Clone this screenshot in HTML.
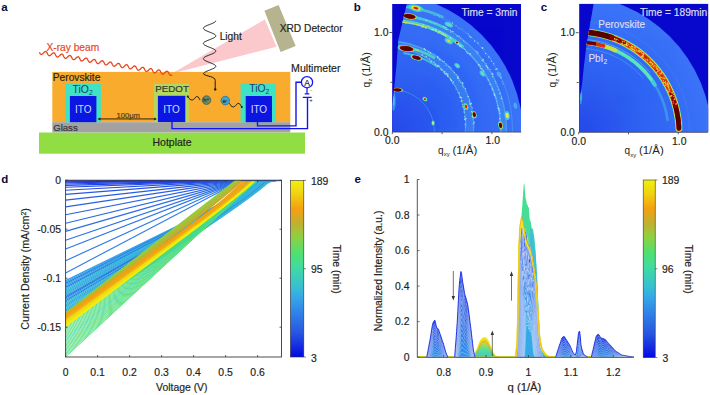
<!DOCTYPE html>
<html><head><meta charset="utf-8"><style>
html,body{margin:0;padding:0;background:#fff;width:710px;height:395px;overflow:hidden}
svg{position:absolute;left:0;top:0;font-family:"Liberation Sans", sans-serif}
</style></head><body>
<svg width="710" height="395" viewBox="0 0 710 395">
<text x="1.2" y="10.6" font-size="11.5" fill="#0a0a3c"  text-anchor="start" font-weight="bold" >a</text>
<text x="353.8" y="10.5" font-size="11.5" fill="#0a0a3c"  text-anchor="start" font-weight="bold" >b</text>
<text x="540.8" y="10.8" font-size="11.5" fill="#0a0a3c"  text-anchor="start" font-weight="bold" >c</text>
<text x="1.2" y="182.9" font-size="11.5" fill="#0a0a3c"  text-anchor="start" font-weight="bold" >d</text>
<text x="354.5" y="182.9" font-size="11.5" fill="#0a0a3c"  text-anchor="start" font-weight="bold" >e</text>
<polygon points="172,73.5 264.8,19.4 276.5,46.8" fill="#fbc9cc"/>
<polygon points="264.4,10.8 278.6,5.1 295.7,46 280.6,51.9" fill="#b6b48f"/>
<text x="279.7" y="31.5" font-size="10.2" fill="#231f20" stroke="#231f20" stroke-width="0.18" text-anchor="start" font-weight="normal" >XRD Detector</text>
<rect x="39" y="132.5" width="266" height="21.2" fill="#90de44"/>
<text x="152.5" y="146.1" font-size="10.5" fill="#231f20" stroke="#231f20" stroke-width="0.18" text-anchor="start" font-weight="normal" >Hotplate</text>
<rect x="52.3" y="71.9" width="238" height="50.3" fill="#f8ab2c"/>
<rect x="52.3" y="122.2" width="238" height="10.2" fill="#a2a2a2"/>
<text x="53.2" y="130.6" font-size="9.6" fill="#333" stroke="#333" stroke-width="0.18" text-anchor="start" font-weight="normal" >Glass</text>
<text x="52.8" y="80.8" font-size="10.2" fill="#231f20" stroke="#231f20" stroke-width="0.18" text-anchor="start" font-weight="normal" >Perovskite</text>
<path d="M215.80,20.70 L215.72,21.08 L215.50,21.46 L215.12,21.84 L214.62,22.22 L213.98,22.60 L213.24,22.98 L212.41,23.36 L211.52,23.74 L210.57,24.12 L209.60,24.50 L208.63,24.88 L207.68,25.26 L206.79,25.64 L205.96,26.02 L205.22,26.40 L204.58,26.78 L204.08,27.16 L203.70,27.54 L203.48,27.92 L203.40,28.30 L203.48,28.68 L203.70,29.06 L204.08,29.44 L204.58,29.82 L205.22,30.20 L205.96,30.58 L206.79,30.96 L207.68,31.34 L208.63,31.72 L209.60,32.10 L210.57,32.48 L211.52,32.86 L212.41,33.24 L213.24,33.62 L213.98,34.00 L214.62,34.38 L215.12,34.76 L215.50,35.14 L215.72,35.52 L215.80,35.90 L215.72,36.28 L215.50,36.66 L215.12,37.04 L214.62,37.42 L213.98,37.80 L213.24,38.18 L212.41,38.56 L211.52,38.94 L210.57,39.32 L209.60,39.70 L208.63,40.08 L207.68,40.46 L206.79,40.84 L205.96,41.22 L205.22,41.60 L204.58,41.98 L204.08,42.36 L203.70,42.74 L203.48,43.12 L203.40,43.50 L203.48,43.88 L203.70,44.26 L204.08,44.64 L204.58,45.02 L205.22,45.40 L205.96,45.78 L206.79,46.16 L207.68,46.54 L208.63,46.92 L209.60,47.30 L210.57,47.68 L211.52,48.06 L212.41,48.44 L213.24,48.82 L213.98,49.20 L214.62,49.58 L215.12,49.96 L215.50,50.34 L215.72,50.72 L215.80,51.10 L215.72,51.48 L215.50,51.86 L215.12,52.24 L214.62,52.62 L213.98,53.00 L213.24,53.38 L212.41,53.76 L211.52,54.14 L210.57,54.52 L209.60,54.90 L208.63,55.28 L207.68,55.66 L206.79,56.04 L205.96,56.42 L205.22,56.80 L204.58,57.18 L204.08,57.56 L203.70,57.94 L203.48,58.32 L203.40,58.70 L203.48,59.08 L203.70,59.46 L204.08,59.84 L204.58,60.22 L205.22,60.60 L205.96,60.98 L206.79,61.36 L207.68,61.74 L208.63,62.12 L209.60,62.50 L210.57,62.88 L211.52,63.26 L212.41,63.64 L213.24,64.02 L213.98,64.40 L214.62,64.78 L215.12,65.16 L215.50,65.54 L215.72,65.92 L215.80,66.30 L215.72,66.68 L215.50,67.06 L215.12,67.44 L214.62,67.82 L213.98,68.20 L213.24,68.58 L212.41,68.96 L211.52,69.34 L210.57,69.72 L209.60,70.10 L208.63,70.48 L207.68,70.86 L206.79,71.24 L205.96,71.62 L205.22,72.00 L204.58,72.38 L204.08,72.76 L203.70,73.14 L203.48,73.52 L203.40,73.90 C 207,77 215.2,76 215.2,80.5 L215.2,89.3" fill="none" stroke="#1a1a1a" stroke-width="1"/>
<circle cx="215.2" cy="89.4" r="1.2" fill="#1a1a1a"/>
<text x="219.7" y="39.5" font-size="10.2" fill="#231f20" stroke="#231f20" stroke-width="0.18" text-anchor="start" font-weight="normal" >Light</text>
<path d="M39.40,52.30 L39.51,52.53 L39.63,52.75 L39.75,52.97 L39.86,53.18 L39.98,53.38 L40.10,53.57 L40.23,53.75 L40.35,53.90 L40.48,54.04 L40.61,54.16 L40.75,54.26 L40.89,54.33 L41.03,54.38 L41.18,54.41 L41.33,54.42 L41.48,54.40 L41.64,54.36 L41.80,54.30 L41.97,54.22 L42.14,54.11 L42.31,53.99 L42.48,53.86 L42.66,53.71 L42.83,53.55 L43.01,53.38 L43.19,53.21 L43.37,53.03 L43.55,52.85 L43.73,52.67 L43.91,52.50 L44.09,52.33 L44.27,52.17 L44.45,52.03 L44.62,51.90 L44.79,51.78 L44.96,51.68 L45.12,51.60 L45.28,51.55 L45.44,51.51 L45.59,51.50 L45.74,51.51 L45.89,51.54 L46.03,51.60 L46.17,51.68 L46.31,51.78 L46.44,51.90 L46.57,52.04 L46.69,52.20 L46.81,52.38 L46.93,52.57 L47.05,52.77 L47.17,52.99 L47.29,53.21 L47.40,53.43 L47.52,53.66 L47.63,53.89 L47.75,54.11 L47.86,54.33 L47.98,54.54 L48.10,54.74 L48.22,54.92 L48.34,55.09 L48.47,55.25 L48.60,55.38 L48.73,55.49 L48.87,55.59 L49.01,55.66 L49.15,55.71 L49.30,55.73 L49.45,55.73 L49.61,55.71 L49.77,55.66 L49.93,55.60 L50.09,55.51 L50.26,55.41 L50.43,55.29 L50.61,55.15 L50.78,55.00 L50.96,54.84 L51.14,54.67 L51.32,54.49 L51.50,54.31 L51.68,54.13 L51.86,53.96 L52.04,53.78 L52.22,53.62 L52.40,53.46 L52.57,53.32 L52.74,53.19 L52.91,53.08 L53.08,52.98 L53.25,52.91 L53.41,52.85 L53.56,52.82 L53.72,52.81 L53.86,52.83 L54.01,52.86 L54.15,52.93 L54.29,53.01 L54.42,53.11 L54.56,53.24 L54.68,53.39 L54.81,53.55 L54.93,53.73 L55.05,53.92 L55.17,54.13 L55.29,54.34 L55.40,54.56 L55.52,54.79 L55.63,55.02 L55.75,55.24 L55.86,55.47 L55.98,55.68 L56.10,55.89 L56.21,56.09 L56.34,56.27 L56.46,56.44 L56.59,56.59 L56.72,56.72 L56.85,56.83 L56.99,56.92 L57.13,56.98 L57.27,57.03 L57.42,57.05 L57.57,57.04 L57.73,57.02 L57.89,56.97 L58.05,56.90 L58.22,56.81 L58.39,56.70 L58.56,56.58 L58.73,56.44 L58.91,56.28 L59.09,56.12 L59.27,55.95 L59.45,55.77 L59.63,55.59 L59.81,55.41 L59.99,55.24 L60.17,55.07 L60.35,54.90 L60.52,54.75 L60.70,54.61 L60.87,54.48 L61.04,54.37 L61.21,54.28 L61.37,54.21 L61.53,54.16 L61.69,54.13 L61.84,54.13 L61.99,54.15 L62.13,54.19 L62.27,54.26 L62.41,54.34 L62.54,54.45 L62.67,54.58 L62.80,54.73 L62.93,54.90 L63.05,55.08 L63.17,55.28 L63.29,55.48 L63.40,55.70 L63.52,55.92 L63.63,56.15 L63.75,56.38 L63.86,56.60 L63.98,56.82 L64.09,57.04 L64.21,57.24 L64.33,57.44 L64.45,57.62 L64.58,57.78 L64.71,57.93 L64.84,58.06 L64.97,58.16 L65.11,58.25 L65.25,58.31 L65.40,58.35 L65.54,58.36 L65.70,58.36 L65.85,58.33 L66.01,58.27 L66.18,58.20 L66.34,58.11 L66.51,57.99 L66.69,57.87 L66.86,57.72 L67.04,57.57 L67.22,57.40 L67.40,57.23 L67.58,57.05 L67.76,56.88 L67.94,56.70 L68.12,56.52 L68.30,56.35 L68.48,56.19 L68.65,56.04 L68.83,55.90 L69.00,55.78 L69.17,55.67 L69.33,55.58 L69.49,55.52 L69.65,55.47 L69.81,55.45 L69.96,55.45 L70.11,55.47 L70.25,55.52 L70.39,55.59 L70.53,55.68 L70.66,55.79 L70.79,55.92 L70.92,56.08 L71.04,56.25 L71.16,56.43 L71.28,56.63 L71.40,56.84 L71.52,57.06 L71.63,57.28 L71.75,57.51 L71.86,57.73 L71.98,57.96 L72.09,58.18 L72.21,58.39 L72.33,58.60 L72.45,58.79 L72.57,58.97 L72.70,59.13 L72.82,59.27 L72.96,59.39 L73.09,59.50 L73.23,59.58 L73.37,59.63 L73.52,59.67 L73.67,59.68 L73.82,59.67 L73.98,59.63 L74.14,59.58 L74.30,59.50 L74.47,59.40 L74.64,59.29 L74.81,59.16 L74.99,59.01 L75.17,58.85 L75.34,58.69 L75.52,58.51 L75.70,58.34 L75.89,58.16 L76.07,57.98 L76.25,57.80 L76.42,57.63 L76.60,57.47 L76.78,57.33 L76.95,57.19 L77.12,57.07 L77.29,56.97 L77.46,56.88 L77.62,56.82 L77.78,56.78 L77.93,56.76 L78.08,56.76 L78.23,56.79 L78.37,56.84 L78.51,56.92 L78.65,57.01 L78.78,57.13 L78.91,57.27 L79.04,57.42 L79.16,57.60 L79.28,57.78 L79.40,57.98 L79.52,58.19 L79.63,58.41 L79.75,58.64 L79.86,58.86 L79.98,59.09 L80.09,59.32 L80.21,59.54 L80.33,59.75 L80.44,59.95 L80.56,60.14 L80.69,60.31 L80.81,60.47 L80.94,60.61 L81.07,60.73 L81.21,60.83 L81.35,60.90 L81.49,60.96 L81.64,60.99 L81.79,60.99 L81.94,60.98 L82.10,60.94 L82.26,60.88 L82.43,60.80 L82.60,60.70 L82.77,60.58 L82.94,60.45 L83.12,60.30 L83.29,60.14 L83.47,59.97 L83.65,59.80 L83.83,59.62 L84.01,59.44 L84.19,59.26 L84.37,59.09 L84.55,58.92 L84.73,58.76 L84.90,58.61 L85.08,58.48 L85.25,58.36 L85.42,58.27 L85.58,58.19 L85.74,58.13 L85.90,58.09 L86.05,58.08 L86.20,58.08 L86.35,58.12 L86.49,58.17 L86.63,58.25 L86.77,58.35 L86.90,58.47 L87.03,58.61 L87.15,58.77 L87.28,58.95 L87.40,59.14 L87.52,59.34 L87.63,59.55 L87.75,59.77 L87.86,60.00 L87.98,60.22 L88.09,60.45 L88.21,60.67 L88.32,60.89 L88.44,61.10 L88.56,61.30 L88.68,61.49 L88.81,61.66 L88.93,61.81 L89.06,61.95 L89.19,62.07 L89.33,62.16 L89.47,62.23 L89.61,62.28 L89.76,62.31 L89.91,62.31 L90.07,62.29 L90.23,62.25 L90.39,62.18 L90.55,62.10 L90.72,61.99 L90.89,61.87 L91.07,61.73 L91.24,61.58 L91.42,61.42 L91.60,61.25 L91.78,61.08 L91.96,60.90 L92.14,60.72 L92.32,60.54 L92.50,60.37 L92.68,60.20 L92.86,60.05 L93.03,59.90 L93.20,59.77 L93.37,59.66 L93.54,59.56 L93.71,59.49 L93.87,59.43 L94.02,59.40 L94.18,59.39 L94.33,59.40 L94.47,59.44 L94.61,59.50 L94.75,59.58 L94.89,59.69 L95.02,59.81 L95.15,59.95 L95.27,60.12 L95.39,60.30 L95.51,60.49 L95.63,60.69 L95.75,60.91 L95.86,61.13 L95.98,61.35 L96.09,61.58 L96.21,61.81 L96.32,62.03 L96.44,62.25 L96.56,62.46 L96.68,62.65 L96.80,62.84 L96.92,63.01 L97.05,63.16 L97.18,63.29 L97.31,63.40 L97.45,63.49 L97.59,63.56 L97.74,63.60 L97.88,63.62 L98.04,63.62 L98.19,63.60 L98.35,63.55 L98.51,63.48 L98.68,63.39 L98.85,63.29 L99.02,63.16 L99.19,63.02 L99.37,62.87 L99.55,62.71 L99.73,62.54 L99.91,62.36 L100.09,62.18 L100.27,62.00 L100.45,61.82 L100.63,61.65 L100.81,61.49 L100.98,61.34 L101.16,61.19 L101.33,61.07 L101.50,60.96 L101.67,60.86 L101.83,60.79 L101.99,60.74 L102.15,60.71 L102.30,60.71 L102.45,60.72 L102.59,60.76 L102.73,60.83 L102.87,60.91 L103.00,61.02 L103.14,61.15 L103.26,61.30 L103.39,61.46 L103.51,61.65 L103.63,61.84 L103.75,62.05 L103.86,62.26 L103.98,62.49 L104.09,62.71 L104.21,62.94 L104.32,63.17 L104.44,63.39 L104.56,63.60 L104.67,63.81 L104.79,64.01 L104.92,64.19 L105.04,64.35 L105.17,64.50 L105.30,64.63 L105.43,64.74 L105.57,64.82 L105.71,64.88 L105.86,64.92 L106.01,64.94 L106.16,64.93 L106.31,64.91 L106.47,64.85 L106.64,64.78 L106.80,64.69 L106.97,64.58 L107.15,64.45 L107.32,64.31 L107.50,64.16 L107.68,63.99 L107.86,63.82 L108.04,63.64 L108.22,63.46 L108.40,63.28 L108.58,63.11 L108.76,62.94 L108.93,62.77 L109.11,62.62 L109.28,62.48 L109.46,62.36 L109.63,62.25 L109.79,62.16 L109.95,62.10 L110.11,62.05 L110.27,62.03 L110.42,62.02 L110.57,62.05 L110.71,62.09 L110.85,62.16 L110.99,62.25 L111.12,62.36 L111.25,62.49 L111.38,62.64 L111.50,62.81 L111.63,63.00 L111.75,63.20 L111.86,63.40 L111.98,63.62 L112.09,63.84 L112.21,64.07 L112.32,64.30 L112.44,64.52 L112.55,64.74 L112.67,64.96 L112.79,65.16 L112.91,65.36 L113.03,65.53 L113.16,65.70 L113.29,65.84 L113.42,65.96 L113.55,66.07 L113.69,66.15 L113.83,66.21 L113.98,66.24 L114.13,66.26 L114.28,66.25 L114.44,66.21 L114.60,66.16 L114.76,66.08 L114.93,65.99 L115.10,65.87 L115.27,65.74 L115.45,65.60 L115.62,65.44 L115.80,65.27 L115.98,65.10 L116.16,64.92 L116.34,64.74 L116.52,64.57 L116.70,64.39 L116.88,64.22 L117.06,64.06 L117.24,63.91 L117.41,63.77 L117.58,63.65 L117.75,63.55 L117.92,63.47 L118.08,63.40 L118.24,63.36 L118.39,63.34 L118.54,63.34 L118.69,63.37 L118.83,63.42 L118.97,63.49 L119.11,63.58 L119.24,63.70 L119.37,63.84 L119.50,63.99 L119.62,64.16 L119.74,64.35 L119.86,64.55 L119.98,64.76 L120.10,64.98 L120.21,65.20 L120.33,65.43 L120.44,65.66 L120.55,65.88 L120.67,66.10 L120.79,66.31 L120.91,66.52 L121.03,66.71 L121.15,66.88 L121.28,67.04 L121.40,67.18 L121.54,67.30 L121.67,67.40 L121.81,67.48 L121.95,67.53 L122.10,67.56 L122.25,67.57 L122.40,67.56 L122.56,67.52 L122.72,67.46 L122.89,67.38 L123.06,67.28 L123.23,67.16 L123.40,67.03 L123.57,66.88 L123.75,66.73 L123.93,66.56 L124.11,66.38 L124.29,66.21 L124.47,66.03 L124.65,65.85 L124.83,65.67 L125.01,65.51 L125.19,65.35 L125.36,65.20 L125.54,65.07 L125.71,64.95 L125.88,64.85 L126.04,64.77 L126.20,64.71 L126.36,64.67 L126.51,64.65 L126.66,64.66 L126.81,64.69 L126.95,64.74 L127.09,64.82 L127.23,64.92 L127.36,65.04 L127.49,65.18 L127.62,65.34 L127.74,65.51 L127.86,65.70 L127.98,65.90 L128.09,66.12 L128.21,66.34 L128.33,66.56 L128.44,66.79 L128.56,67.01 L128.67,67.24 L128.79,67.46 L128.90,67.67 L129.02,67.87 L129.14,68.06 L129.27,68.23 L129.39,68.38 L129.52,68.52 L129.66,68.64 L129.79,68.73 L129.93,68.81 L130.07,68.86 L130.22,68.88 L130.37,68.89 L130.53,68.87 L130.69,68.83 L130.85,68.76 L131.01,68.68 L131.18,68.58 L131.35,68.45 L131.53,68.32 L131.70,68.17 L131.88,68.01 L132.06,67.84 L132.24,67.67 L132.42,67.49 L132.60,67.31 L132.78,67.13 L132.96,66.96 L133.14,66.79 L133.32,66.63 L133.49,66.49 L133.66,66.36 L133.83,66.24 L134.00,66.15 L134.17,66.07 L134.33,66.01 L134.48,65.98 L134.64,65.97 L134.79,65.98 L134.93,66.01 L135.07,66.07 L135.21,66.15 L135.35,66.26 L135.48,66.38 L135.61,66.52 L135.73,66.68 L135.86,66.86 L135.98,67.05 L136.09,67.26 L136.21,67.47 L136.33,67.69 L136.44,67.92 L136.56,68.15 L136.67,68.37 L136.79,68.60 L136.90,68.81 L137.02,69.02 L137.14,69.22 L137.26,69.41 L137.38,69.57 L137.51,69.73 L137.64,69.86 L137.77,69.97 L137.91,70.06 L138.05,70.13 L138.20,70.18 L138.34,70.20 L138.50,70.20 L138.65,70.18 L138.81,70.13 L138.97,70.06 L139.14,69.98 L139.31,69.87 L139.48,69.75 L139.65,69.61 L139.83,69.46 L140.01,69.29 L140.19,69.12 L140.37,68.95 L140.55,68.77 L140.73,68.59 L140.91,68.41 L141.09,68.24 L141.27,68.08 L141.44,67.92 L141.62,67.78 L141.79,67.65 L141.96,67.54 L142.13,67.45 L142.29,67.37 L142.45,67.32 L142.61,67.29 L142.76,67.28 L142.91,67.30 L143.05,67.34 L143.19,67.40 L143.33,67.49 L143.47,67.59 L143.60,67.72 L143.72,67.87 L143.85,68.03 L143.97,68.21 L144.09,68.41 L144.21,68.61 L144.33,68.83 L144.44,69.05 L144.56,69.28 L144.67,69.50 L144.79,69.73 L144.90,69.95 L145.02,70.17 L145.14,70.38 L145.26,70.57 L145.38,70.75 L145.50,70.92 L145.63,71.07 L145.76,71.20 L145.89,71.31 L146.03,71.39 L146.17,71.46 L146.32,71.50 L146.47,71.52 L146.62,71.51 L146.77,71.49 L146.93,71.43 L147.10,71.36 L147.26,71.27 L147.43,71.16 L147.61,71.04 L147.78,70.90 L147.96,70.74 L148.13,70.58 L148.31,70.41 L148.49,70.23 L148.67,70.05 L148.86,69.87 L149.04,69.69 L149.22,69.52 L149.39,69.36 L149.57,69.21 L149.74,69.07 L149.92,68.94 L150.08,68.84 L150.25,68.75 L150.41,68.68 L150.57,68.63 L150.73,68.60 L150.88,68.60 L151.03,68.62 L151.17,68.66 L151.31,68.73 L151.45,68.82 L151.59,68.93 L151.72,69.06 L151.84,69.21 L151.97,69.38 L152.09,69.56 L152.21,69.76 L152.33,69.97 L152.44,70.19 L152.56,70.41 L152.67,70.64 L152.79,70.86 L152.90,71.09 L153.02,71.31 L153.13,71.52 L153.25,71.73 L153.37,71.92 L153.49,72.10 L153.62,72.26 L153.75,72.41 L153.88,72.54 L154.01,72.64 L154.15,72.72 L154.29,72.78 L154.44,72.82 L154.59,72.83 L154.74,72.82 L154.90,72.79 L155.06,72.74 L155.22,72.66 L155.39,72.57 L155.56,72.46 L155.73,72.33 L155.91,72.18 L156.08,72.03 L156.26,71.86 L156.44,71.69 L156.62,71.51 L156.80,71.33 L156.98,71.15 L157.16,70.98 L157.34,70.81 L157.52,70.65 L157.70,70.50 L157.87,70.36 L158.04,70.24 L158.21,70.13 L158.38,70.05 L158.54,69.98 L158.70,69.94 L158.85,69.92 L159.00,69.92 L159.15,69.94 L159.29,69.99 L159.43,70.06 L159.57,70.16 L159.70,70.27 L159.83,70.40 L159.96,70.56 L160.08,70.73 L160.20,70.92 L160.32,71.11 L160.44,71.32 L160.56,71.54 L160.67,71.77 L160.79,71.99 L160.90,72.22 L161.02,72.45 L161.13,72.67 L161.25,72.88 L161.37,73.08 L161.49,73.27 L161.61,73.45 L161.74,73.61 L161.87,73.75 L162.00,73.87 L162.13,73.97 L162.27,74.05 L162.41,74.11 L162.56,74.14 L162.71,74.15 L162.86,74.14 L163.02,74.10 L163.18,74.04 L163.35,73.96 L163.51,73.86 L163.69,73.75 L163.86,73.62 L164.03,73.47 L164.21,73.31 L164.39,73.14 L164.57,72.97 L164.75,72.79 L164.93,72.61 L165.11,72.43 L165.29,72.26 L165.47,72.09 L165.65,71.93 L165.82,71.78 L166.00,71.65 L166.17,71.53 L166.34,71.43 L166.50,71.35 L166.66,71.29 L166.82,71.25 L166.97,71.23 L167.12,71.24 L167.27,71.27 L167.41,71.32 L167.55,71.39 L167.69,71.49 L167.82,71.61 L167.95,71.75 L168.08,71.91 L168.20,72.08 L168.32,72.27 L168.44,72.47 L168.56,72.68 L168.67,72.90 L168.79,73.12 L168.90,73.35 L169.02,73.58 L169.13,73.80 L169.25,74.02 L169.37,74.23 L169.48,74.43 L169.61,74.62 L169.73,74.80 L169.86,74.95 L169.98,75.09 L170.12,75.21 L170.25,75.31 L170.39,75.38 L170.54,75.43 L170.68,75.46 L170.83,75.46 L170.99,75.45 L171.15,75.41 L171.31,75.34 L171.47,75.26 L171.64,75.16 L171.81,75.04 L171.99,74.90 L172.16,74.76" fill="none" stroke="#e8461e" stroke-width="1.3"/>
<text x="46.5" y="50.5" font-size="10.2" fill="#e8461e" stroke="#e8461e" stroke-width="0.18" text-anchor="start" font-weight="normal" >X-ray beam</text>
<rect x="65.4" y="83.9" width="35.5" height="38.3" fill="#40e2c6"/>
<rect x="69.9" y="96" width="26.5" height="26.2" fill="#0c16e2"/>
<rect x="240.6" y="83.5" width="35.4" height="38.7" fill="#40e2c6"/>
<rect x="245.7" y="96" width="26.3" height="26.2" fill="#0c16e2"/>
<rect x="153.8" y="83.7" width="35" height="38.5" fill="#b4d85e"/>
<rect x="157.9" y="95.8" width="27.4" height="26.3" fill="#0c16e2"/>
<text x="72.6" y="92.5" font-size="10.4" fill="#1a3c6e">TiO<tspan font-size="6.8" dy="2">2</tspan></text>
<text x="249.2" y="92.4" font-size="10.4" fill="#1a3c6e">TiO<tspan font-size="6.8" dy="2">2</tspan></text>
<text x="155.2" y="92.3" font-size="9.8" fill="#333" stroke="#333" stroke-width="0.18" text-anchor="start" font-weight="normal" >PEDOT</text>
<text x="83.2" y="112.5" font-size="10" fill="#d4daff" text-anchor="middle">ITO</text>
<text x="171.6" y="112.5" font-size="10" fill="#d4daff" text-anchor="middle">ITO</text>
<text x="258.9" y="112.5" font-size="10" fill="#d4daff" text-anchor="middle">ITO</text>
<line x1="98.5" y1="118.9" x2="156" y2="118.9" stroke="#8a5a18" stroke-width="1.6"/>
<polygon points="97.5,118.9 100.5,117.4 100.5,120.4" fill="#3a2a10"/><polygon points="157,118.9 154,117.4 154,120.4" fill="#3a2a10"/>
<text x="128.2" y="117.6" font-size="7.6" fill="#4a3a20" stroke="#4a3a20" stroke-width="0.18" text-anchor="middle" font-weight="normal" >100μm</text>
<path d="M187.7,96.4 Q190,100.8 192.3,100.1 Q194.4,99.4 196.4,96.4 Q198.3,95.7 200.1,100.1" fill="none" stroke="#1a1a1a" stroke-width="0.9"/>
<path d="M229.4,103.3 Q231.5,107.7 233.5,107 Q235.6,106.3 237.7,103.3 Q239.7,102.6 241.8,107" fill="none" stroke="#1a1a1a" stroke-width="0.9"/>
<circle cx="187.7" cy="96.4" r="1" fill="#1a1a1a"/><circle cx="241.8" cy="107" r="1" fill="#1a1a1a"/>
<circle cx="206.5" cy="100.1" r="4.3" fill="#6c8a64" stroke="#3a5448" stroke-width="0.7"/><circle cx="225.3" cy="100.6" r="4.3" fill="#38a6d6" stroke="#2a6890" stroke-width="0.7"/>
<text x="206.2" y="102.4" font-size="6" fill="#2a2a2a" stroke="#2a2a2a" stroke-width="0.18" text-anchor="middle" font-weight="normal" >h<tspan font-size="4" dy="-2.2">+</tspan></text>
<text x="225.0" y="102.9" font-size="6" fill="#2a2a2a" stroke="#2a2a2a" stroke-width="0.18" text-anchor="middle" font-weight="normal" >e<tspan font-size="4" dy="-2.2">-</tspan></text>
<path d="M257.5,122 V125.9 H296 V82.2 H301.3" fill="none" stroke="#1414f0" stroke-width="1.4"/>
<path d="M172,122 V128.6 H307.5 V97.3" fill="none" stroke="#1414f0" stroke-width="1.4"/>
<path d="M307,87.9 V93.8 M304.7,93.9 H309.3 M302.8,97.3 H311.6" fill="none" stroke="#1414f0" stroke-width="1.2"/>
<circle cx="307" cy="82.2" r="5.6" fill="#fff" stroke="#1414f0" stroke-width="1.3"/>
<text x="307" y="85.5" font-size="8.5" fill="#1a1a40" stroke="#1a1a40" stroke-width="0.18" text-anchor="middle" font-weight="normal" >A</text>
<text x="291.1" y="72" font-size="10.6" fill="#231f20" stroke="#231f20" stroke-width="0.18" text-anchor="start" font-weight="normal" >Multimeter</text>
<text x="310.5" y="92" font-size="5" fill="#555" stroke="#555" stroke-width="0.18" text-anchor="start" font-weight="normal" >-</text>
<text x="309.5" y="101.5" font-size="5" fill="#555" stroke="#555" stroke-width="0.18" text-anchor="start" font-weight="normal" >+</text>
<clipPath id="clipb"><rect x="392.2" y="4.0" width="128.8" height="128.1"/></clipPath>
<rect x="392.2" y="4.0" width="128.8" height="128.1" fill="#0808cc"/>
<clipPath id="qb"><path d="M392.3,132.1 L392.2,107.5 L394.2,88 L396.6,64 L398.3,40 L406.8,4 L560.3,-16.0 L560.3,132.1 Z"/></clipPath>
<radialGradient id="rgb" gradientUnits="userSpaceOnUse" cx="392.3" cy="132.1" r="128.0"><stop offset="0" stop-color="#2448ea"/><stop offset="0.5" stop-color="#2e62f2"/><stop offset="1" stop-color="#3a72f8"/></radialGradient>
<g clip-path="url(#clipb)"><g clip-path="url(#qb)">
<circle cx="380.3" cy="135.7" r="143.0" fill="url(#rgb)"/>
<path d="M434.30,132.10 L434.29,131.00 L434.26,129.90 L434.20,128.80 L434.10,127.71 L433.98,126.61 L433.83,125.52 L433.65,124.44 L433.45,123.35 L433.21,122.28 L432.95,121.21 L432.66,120.15 L432.34,119.09 L431.99,118.04 L431.62,117.01 L431.22,115.98 L430.79,114.96 L430.34,113.96 L429.86,112.96 L429.35,111.98 L428.82,111.02 L428.26,110.06 L427.68,109.13 L427.07,108.20 L426.44,107.30 L425.79,106.41 L425.11,105.53 L424.41,104.68 L423.69,103.84 L422.94,103.02 L422.18,102.22 L421.39,101.45 L420.58,100.69 L419.76,99.95 L418.91,99.24 L418.05,98.55 L417.16,97.88 L416.26,97.23 L415.35,96.61 L414.41,96.01 L413.47,95.44 L412.50,94.89 L411.53,94.37 L410.54,93.87 L409.53,93.40 L408.52,92.95 L407.49,92.53 L406.45,92.14 L405.40,91.78 L404.34,91.44 L403.28,91.13 L402.20,90.85 L401.12,90.59 L400.03,90.37 L398.94,90.17 L397.84,90.00 L396.74,89.87 L395.63,89.76 L394.52,89.67 L393.41,89.62 L392.30,89.60" fill="none" stroke="#60c8f0" stroke-width="1.0" opacity="0.4"/>
<path d="M469.30,132.10 L469.46,130.08 L469.56,128.05 L469.61,126.02 L469.61,123.97 L469.55,121.93 L469.44,119.88 L469.27,117.83 L469.05,115.79 L468.78,113.74 L468.45,111.70 L468.06,109.66 L467.62,107.63 L467.13,105.60 L466.58,103.59 L465.98,101.58 L465.32,99.59 L464.61,97.61 L463.85,95.64 L463.03,93.70 L462.16,91.77 L461.24,89.86 L460.26,87.97 L459.23,86.10 L458.15,84.25 L457.02,82.44 L455.84,80.64 L454.62,78.88 L453.34,77.14 L452.01,75.44 L450.64,73.76 L449.22,72.12 L447.75,70.52 L446.24,68.95 L444.68,67.42 L443.08,65.92 L441.44,64.47 L439.76,63.05 L438.03,61.68 L436.27,60.35 L434.47,59.07 L432.63,57.83 L430.75,56.63 L428.84,55.49 L426.90,54.39 L424.92,53.34 L422.92,52.34 L420.88,51.39 L418.81,50.50 L416.72,49.66 L414.60,48.87 L412.46,48.14 L410.29,47.46 L408.10,46.84 L405.89,46.27 L403.67,45.76 L401.42,45.31 L399.16,44.92 L396.89,44.59 L394.60,44.31 L392.30,44.10" fill="none" stroke="#50a8f0" stroke-width="6.0" opacity="0.35"/>
<path d="M465.30,132.10 L465.47,130.18 L465.60,128.26 L465.67,126.33 L465.70,124.39 L465.67,122.44 L465.59,120.49 L465.45,118.54 L465.27,116.59 L465.03,114.64 L464.74,112.69 L464.40,110.74 L464.01,108.80 L463.56,106.86 L463.07,104.94 L462.51,103.02 L461.91,101.11 L461.26,99.21 L460.55,97.32 L459.79,95.45 L458.98,93.60 L458.12,91.76 L457.21,89.94 L456.25,88.15 L455.24,86.37 L454.18,84.62 L453.07,82.89 L451.92,81.18 L450.71,79.51 L449.46,77.86 L448.16,76.24 L446.82,74.65 L445.43,73.09 L444.00,71.57 L442.52,70.08 L441.00,68.63 L439.44,67.22 L437.84,65.84 L436.20,64.50 L434.52,63.21 L432.80,61.95 L431.05,60.74 L429.25,59.57 L427.43,58.45 L425.57,57.37 L423.68,56.34 L421.76,55.36 L419.81,54.43 L417.82,53.54 L415.82,52.71 L413.78,51.93 L411.72,51.20 L409.64,50.52 L407.53,49.90 L405.41,49.33 L403.26,48.82 L401.10,48.36 L398.92,47.96 L396.73,47.62 L394.52,47.33 L392.30,47.10" fill="none" stroke="#60c0f0" stroke-width="1.4" opacity="0.55"/>
<path d="M473.30,132.10 L473.44,129.98 L473.52,127.84 L473.55,125.71 L473.52,123.56 L473.43,121.42 L473.29,119.27 L473.09,117.13 L472.83,114.98 L472.52,112.84 L472.15,110.70 L471.72,108.57 L471.24,106.45 L470.70,104.34 L470.10,102.24 L469.44,100.15 L468.73,98.07 L467.97,96.01 L467.14,93.96 L466.27,91.94 L465.33,89.93 L464.35,87.95 L463.31,85.99 L462.21,84.05 L461.07,82.14 L459.87,80.25 L458.62,78.40 L457.31,76.57 L455.96,74.78 L454.56,73.02 L453.11,71.29 L451.61,69.60 L450.07,67.94 L448.48,66.32 L446.84,64.75 L445.16,63.21 L443.44,61.72 L441.67,60.26 L439.87,58.86 L438.02,57.49 L436.13,56.18 L434.21,54.91 L432.25,53.69 L430.26,52.52 L428.23,51.40 L426.17,50.34 L424.08,49.32 L421.95,48.36 L419.80,47.46 L417.62,46.61 L415.42,45.81 L413.19,45.07 L410.94,44.39 L408.67,43.77 L406.38,43.21 L404.07,42.70 L401.74,42.26 L399.40,41.88 L397.05,41.56 L394.68,41.30 L392.30,41.10" fill="none" stroke="#60c8f0" stroke-width="1.4" opacity="0.55"/>
<path d="M503.30,132.10 L503.31,129.19 L503.25,126.29 L503.11,123.38 L502.89,120.48 L502.60,117.58 L502.23,114.69 L501.79,111.81 L501.27,108.94 L500.67,106.08 L500.00,103.24 L499.26,100.42 L498.44,97.61 L497.55,94.83 L496.58,92.07 L495.54,89.34 L494.43,86.63 L493.25,83.95 L492.00,81.30 L490.68,78.68 L489.29,76.10 L487.84,73.55 L486.31,71.05 L484.73,68.58 L483.07,66.15 L481.35,63.77 L479.57,61.43 L477.73,59.13 L475.83,56.89 L473.87,54.69 L471.85,52.55 L469.77,50.46 L467.64,48.42 L465.46,46.44 L463.22,44.52 L460.94,42.65 L458.60,40.84 L456.22,39.10 L453.79,37.41 L451.32,35.79 L448.80,34.24 L446.24,32.75 L443.65,31.33 L441.01,29.97 L438.34,28.69 L435.64,27.47 L432.90,26.33 L430.14,25.25 L427.34,24.25 L424.52,23.32 L421.68,22.47 L418.81,21.69 L415.92,20.98 L413.01,20.35 L410.09,19.80 L407.15,19.32 L404.20,18.92 L401.23,18.60 L398.26,18.36 L395.28,18.19 L392.30,18.10" fill="none" stroke="#50a8f0" stroke-width="7.0" opacity="0.35"/>
<path d="M500.80,132.10 L500.80,129.26 L500.73,126.42 L500.59,123.58 L500.37,120.74 L500.08,117.91 L499.71,115.09 L499.27,112.27 L498.76,109.47 L498.17,106.68 L497.51,103.91 L496.77,101.15 L495.97,98.42 L495.09,95.70 L494.14,93.01 L493.12,90.34 L492.03,87.70 L490.87,85.08 L489.64,82.50 L488.35,79.95 L486.99,77.43 L485.56,74.95 L484.06,72.51 L482.51,70.10 L480.89,67.74 L479.21,65.42 L477.46,63.14 L475.66,60.90 L473.80,58.72 L471.88,56.58 L469.90,54.50 L467.88,52.46 L465.79,50.48 L463.66,48.55 L461.47,46.68 L459.24,44.86 L456.96,43.11 L454.63,41.41 L452.26,39.78 L449.84,38.20 L447.38,36.69 L444.89,35.25 L442.35,33.87 L439.78,32.55 L437.18,31.31 L434.54,30.13 L431.87,29.02 L429.17,27.98 L426.45,27.01 L423.70,26.11 L420.92,25.28 L418.12,24.53 L415.31,23.85 L412.47,23.25 L409.63,22.71 L406.76,22.26 L403.89,21.87 L401.00,21.57 L398.10,21.34 L395.20,21.18 L392.30,21.10" fill="none" stroke="#60c8f0" stroke-width="1.4" opacity="0.6"/>
<path d="M506.30,132.10 L506.33,129.11 L506.28,126.13 L506.15,123.14 L505.94,120.16 L505.66,117.18 L505.29,114.20 L504.85,111.24 L504.33,108.29 L503.73,105.35 L503.06,102.42 L502.31,99.51 L501.48,96.62 L500.58,93.76 L499.60,90.91 L498.55,88.09 L497.42,85.30 L496.22,82.53 L494.94,79.80 L493.60,77.10 L492.18,74.43 L490.69,71.80 L489.14,69.21 L487.51,66.66 L485.82,64.15 L484.06,61.69 L482.24,59.27 L480.36,56.89 L478.41,54.57 L476.40,52.30 L474.32,50.08 L472.20,47.91 L470.01,45.80 L467.77,43.74 L465.47,41.74 L463.12,39.81 L460.72,37.93 L458.27,36.12 L455.77,34.37 L453.22,32.68 L450.63,31.06 L448.00,29.51 L445.33,28.03 L442.61,26.62 L439.86,25.28 L437.07,24.01 L434.25,22.81 L431.40,21.69 L428.52,20.64 L425.61,19.66 L422.67,18.76 L419.71,17.94 L416.72,17.20 L413.72,16.53 L410.70,15.95 L407.66,15.44 L404.61,15.01 L401.54,14.66 L398.47,14.39 L395.39,14.21 L392.30,14.10" fill="none" stroke="#60c0f0" stroke-width="1.2" opacity="0.5"/>
<path d="M512.30,132.10 L512.36,128.96 L512.34,125.81 L512.23,122.66 L512.04,119.51 L511.77,116.37 L511.42,113.23 L510.98,110.10 L510.46,106.98 L509.86,103.88 L509.18,100.78 L508.41,97.71 L507.57,94.65 L506.64,91.61 L505.64,88.59 L504.55,85.60 L503.39,82.64 L502.14,79.71 L500.82,76.80 L499.43,73.93 L497.96,71.10 L496.41,68.30 L494.79,65.55 L493.09,62.83 L491.32,60.16 L489.49,57.53 L487.58,54.95 L485.60,52.41 L483.56,49.93 L481.45,47.50 L479.27,45.13 L477.04,42.81 L474.74,40.54 L472.38,38.34 L469.96,36.20 L467.48,34.12 L464.95,32.11 L462.36,30.16 L459.73,28.27 L457.04,26.46 L454.30,24.71 L451.52,23.04 L448.69,21.44 L445.81,19.91 L442.90,18.45 L439.94,17.08 L436.95,15.78 L433.93,14.55 L430.87,13.41 L427.77,12.34 L424.65,11.36 L421.50,10.46 L418.33,9.64 L415.13,8.90 L411.92,8.24 L408.68,7.67 L405.43,7.19 L402.16,6.79 L398.88,6.47 L395.60,6.24 L392.30,6.10" fill="none" stroke="#58b8f0" stroke-width="1.0" opacity="0.45"/>
<path d="M463.26,47.54 L462.35,46.77 L461.44,46.00 L460.52,45.25 L459.59,44.51 L458.66,43.77 L457.71,43.05 L456.76,42.34 L455.80,41.64 L454.83,40.94 L453.86,40.26 L452.87,39.59 L451.89,38.93 L450.89,38.28 L449.88,37.64 L448.87,37.01 L447.85,36.39 L446.83,35.78 L445.80,35.19 L444.76,34.60 L443.72,34.03 L442.66,33.47 L441.61,32.91 L440.55,32.37 L439.48,31.85 L438.40,31.33 L437.32,30.82 L436.24,30.33 L435.14,29.84 L434.05,29.37 L432.95,28.91 L431.84,28.47 L430.73,28.03 L429.61,27.61 L428.49,27.20 L427.36,26.80 L426.23,26.41 L425.10,26.03 L423.96,25.67 L422.82,25.32 L421.67,24.98 L420.52,24.65 L419.37,24.34 L418.21,24.04 L417.05,23.75 L415.89,23.47 L414.72,23.21 L413.55,22.96 L412.38,22.72 L411.20,22.49 L410.02,22.28 L408.84,22.07 L407.66,21.89 L406.47,21.71 L405.29,21.55 L404.10,21.40 L402.91,21.26 L401.72,21.13 L400.52,21.02 L399.33,20.92 L398.13,20.84" fill="none" stroke="#50d8c0" stroke-width="3.4" opacity="0.85"/>
<path d="M426.32,27.39 L425.90,27.25 L425.47,27.11 L425.05,26.97 L424.62,26.83 L424.19,26.69 L423.76,26.56 L423.33,26.43 L422.91,26.30 L422.48,26.17 L422.05,26.04 L421.61,25.92 L421.18,25.79 L420.75,25.67 L420.32,25.55 L419.89,25.43 L419.45,25.32 L419.02,25.20 L418.58,25.09 L418.15,24.98 L417.71,24.87 L417.28,24.76 L416.84,24.65 L416.41,24.55 L415.97,24.45 L415.53,24.35 L415.09,24.25 L414.66,24.15 L414.22,24.06 L413.78,23.96 L413.34,23.87 L412.90,23.78 L412.46,23.69 L412.02,23.61 L411.58,23.52 L411.13,23.44 L410.69,23.36 L410.25,23.28 L409.81,23.20 L409.36,23.13 L408.92,23.05 L408.48,22.98 L408.03,22.91 L407.59,22.84 L407.15,22.78 L406.70,22.71 L406.26,22.65 L405.81,22.59 L405.37,22.53 L404.92,22.47 L404.47,22.41 L404.03,22.36 L403.58,22.31 L403.13,22.26 L402.69,22.21 L402.24,22.16 L401.79,22.12 L401.35,22.08 L400.90,22.03 L400.45,22.00 L400.00,21.96" fill="none" stroke="#c8e050" stroke-width="1.2" opacity="0.85"/>
<path d="M447.08,29.07 L446.30,28.65 L445.52,28.24 L444.74,27.84 L443.95,27.44 L443.16,27.05 L442.36,26.66 L441.57,26.28 L440.77,25.91 L439.97,25.54 L439.16,25.18 L438.35,24.83 L437.54,24.48 L436.73,24.13 L435.91,23.79 L435.09,23.46 L434.27,23.14 L433.45,22.82 L432.62,22.51 L431.79,22.20 L430.96,21.90 L430.13,21.61 L429.30,21.32 L428.46,21.04 L427.62,20.76 L426.78,20.49 L425.93,20.23 L425.09,19.98 L424.24,19.73 L423.39,19.48 L422.54,19.25 L421.69,19.02 L420.83,18.79 L419.97,18.58 L419.12,18.37 L418.26,18.16 L417.39,17.96 L416.53,17.77 L415.67,17.59 L414.80,17.41 L413.93,17.24 L413.07,17.07 L412.20,16.91 L411.33,16.76 L410.45,16.62 L409.58,16.48 L408.71,16.35 L407.83,16.22 L406.95,16.10 L406.08,15.99 L405.20,15.88 L404.32,15.78 L403.44,15.69 L402.56,15.61 L401.68,15.53 L400.80,15.46 L399.92,15.39 L399.03,15.33 L398.15,15.28 L397.27,15.23 L396.38,15.19" fill="none" stroke="#48d0d0" stroke-width="2.8" opacity="0.85"/>
<path d="M443.44,17.24 L442.71,16.91 L441.97,16.58 L441.23,16.27 L440.49,15.95 L439.75,15.64 L439.00,15.34 L438.26,15.04 L437.51,14.74 L436.76,14.45 L436.00,14.16 L435.25,13.88 L434.49,13.61 L433.74,13.33 L432.98,13.07 L432.22,12.81 L431.45,12.55 L430.69,12.30 L429.92,12.05 L429.15,11.81 L428.38,11.57 L427.61,11.34 L426.84,11.11 L426.07,10.89 L425.29,10.67 L424.51,10.46 L423.74,10.25 L422.96,10.05 L422.18,9.85 L421.39,9.66 L420.61,9.47 L419.83,9.29 L419.04,9.11 L418.25,8.94 L417.47,8.77 L416.68,8.61 L415.89,8.45 L415.10,8.30 L414.30,8.15 L413.51,8.01 L412.72,7.87 L411.92,7.74 L411.13,7.61 L410.33,7.49 L409.53,7.37 L408.74,7.26 L407.94,7.15 L407.14,7.05 L406.34,6.96 L405.54,6.86 L404.74,6.78 L403.93,6.70 L403.13,6.62 L402.33,6.55 L401.52,6.48 L400.72,6.42 L399.92,6.37 L399.11,6.32 L398.31,6.27 L397.50,6.23 L396.70,6.20" fill="none" stroke="#48d0c8" stroke-width="2.6" opacity="0.75"/>
<path d="M434.97,58.20 L434.41,57.87 L433.85,57.55 L433.29,57.22 L432.73,56.91 L432.16,56.60 L431.60,56.29 L431.03,55.98 L430.45,55.69 L429.88,55.39 L429.30,55.10 L428.72,54.81 L428.14,54.53 L427.56,54.25 L426.97,53.98 L426.38,53.71 L425.79,53.45 L425.20,53.19 L424.61,52.93 L424.01,52.68 L423.41,52.43 L422.81,52.19 L422.21,51.95 L421.61,51.72 L421.00,51.49 L420.40,51.27 L419.79,51.05 L419.18,50.84 L418.56,50.63 L417.95,50.42 L417.33,50.22 L416.72,50.02 L416.10,49.83 L415.48,49.64 L414.86,49.46 L414.23,49.28 L413.61,49.11 L412.98,48.94 L412.35,48.78 L411.73,48.62 L411.10,48.47 L410.47,48.32 L409.83,48.17 L409.20,48.03 L408.57,47.90 L407.93,47.77 L407.29,47.64 L406.66,47.52 L406.02,47.41 L405.38,47.30 L404.74,47.19 L404.10,47.09 L403.45,46.99 L402.81,46.90 L402.17,46.82 L401.52,46.73 L400.88,46.66 L400.23,46.58 L399.59,46.52 L398.94,46.46 L398.29,46.40" fill="none" stroke="#50d8c0" stroke-width="2.8" opacity="0.85"/>
<path d="M437.74,67.20 L437.23,66.84 L436.73,66.48 L436.22,66.13 L435.70,65.78 L435.18,65.43 L434.66,65.09 L434.14,64.75 L433.62,64.41 L433.09,64.08 L432.56,63.75 L432.03,63.43 L431.49,63.11 L430.95,62.80 L430.41,62.49 L429.87,62.18 L429.32,61.88 L428.77,61.58 L428.22,61.29 L427.67,61.00 L427.12,60.72 L426.56,60.44 L426.00,60.16 L425.44,59.89 L424.87,59.62 L424.31,59.36 L423.74,59.10 L423.17,58.85 L422.60,58.60 L422.02,58.35 L421.44,58.11 L420.87,57.88 L420.29,57.64 L419.70,57.42 L419.12,57.19 L418.53,56.98 L417.95,56.76 L417.36,56.55 L416.77,56.35 L416.17,56.15 L415.58,55.96 L414.98,55.77 L414.39,55.58 L413.79,55.40 L413.19,55.22 L412.58,55.05 L411.98,54.89 L411.38,54.72 L410.77,54.57 L410.16,54.42 L409.56,54.27 L408.95,54.12 L408.33,53.99 L407.72,53.85 L407.11,53.72 L406.49,53.60 L405.88,53.48 L405.26,53.37 L404.65,53.26 L404.03,53.15 L403.41,53.05" fill="none" stroke="#50d0d0" stroke-width="2.0" opacity="0.75"/>
<path d="M418.75,50.69 L418.47,50.59 L418.19,50.50 L417.90,50.40 L417.62,50.31 L417.33,50.22 L417.05,50.13 L416.76,50.04 L416.48,49.95 L416.19,49.86 L415.91,49.77 L415.62,49.69 L415.33,49.60 L415.05,49.52 L414.76,49.43 L414.47,49.35 L414.18,49.27 L413.90,49.19 L413.61,49.11 L413.32,49.03 L413.03,48.96 L412.74,48.88 L412.45,48.81 L412.16,48.73 L411.87,48.66 L411.58,48.59 L411.29,48.51 L411.00,48.44 L410.71,48.38 L410.42,48.31 L410.12,48.24 L409.83,48.17 L409.54,48.11 L409.25,48.05 L408.96,47.98 L408.66,47.92 L408.37,47.86 L408.08,47.80 L407.78,47.74 L407.49,47.68 L407.20,47.63 L406.90,47.57 L406.61,47.51 L406.31,47.46 L406.02,47.41 L405.72,47.36 L405.43,47.31 L405.13,47.26 L404.84,47.21 L404.54,47.16 L404.24,47.11 L403.95,47.07 L403.65,47.02 L403.36,46.98 L403.06,46.94 L402.76,46.90 L402.46,46.86 L402.17,46.82 L401.87,46.78 L401.57,46.74 L401.28,46.70" fill="none" stroke="#d8e040" stroke-width="1.2" opacity="0.8"/>
<g fill="#b0f0f8" opacity="0.85"><circle cx="461.3" cy="101.3" r="0.59"/><circle cx="465.7" cy="123.2" r="0.49"/><circle cx="465.7" cy="124.5" r="0.37"/><circle cx="457.5" cy="92.2" r="0.39"/><circle cx="459.0" cy="92.2" r="0.40"/><circle cx="464.5" cy="109.8" r="0.70"/><circle cx="451.2" cy="80.5" r="0.71"/><circle cx="466.3" cy="125.4" r="0.46"/><circle cx="464.6" cy="117.0" r="0.47"/><circle cx="435.3" cy="64.6" r="0.57"/><circle cx="447.6" cy="75.9" r="0.56"/><circle cx="464.9" cy="124.1" r="0.43"/><circle cx="445.1" cy="72.9" r="0.47"/><circle cx="450.8" cy="79.8" r="0.47"/><circle cx="437.5" cy="65.1" r="0.45"/><circle cx="451.5" cy="80.5" r="0.68"/><circle cx="441.7" cy="69.8" r="0.71"/><circle cx="465.4" cy="119.2" r="0.63"/><circle cx="465.2" cy="116.2" r="0.37"/><circle cx="446.3" cy="73.3" r="0.57"/><circle cx="430.8" cy="61.0" r="0.61"/><circle cx="450.5" cy="78.9" r="0.52"/><circle cx="434.2" cy="62.0" r="0.53"/><circle cx="445.7" cy="74.5" r="0.61"/><circle cx="447.9" cy="74.5" r="0.66"/><circle cx="462.7" cy="104.6" r="0.60"/><circle cx="465.6" cy="127.6" r="0.42"/><circle cx="464.7" cy="119.4" r="0.64"/><circle cx="465.0" cy="118.2" r="0.50"/><circle cx="431.0" cy="61.6" r="0.52"/><circle cx="453.3" cy="82.0" r="0.65"/><circle cx="431.7" cy="61.7" r="0.51"/><circle cx="461.5" cy="97.8" r="0.70"/><circle cx="464.7" cy="116.4" r="0.44"/><circle cx="464.0" cy="109.0" r="0.57"/><circle cx="462.6" cy="106.7" r="0.51"/><circle cx="460.6" cy="97.1" r="0.70"/><circle cx="444.5" cy="72.1" r="0.58"/><circle cx="444.9" cy="73.7" r="0.68"/><circle cx="438.7" cy="65.7" r="0.65"/><circle cx="459.5" cy="95.3" r="0.40"/><circle cx="447.5" cy="76.7" r="0.38"/><circle cx="463.9" cy="111.3" r="0.48"/><circle cx="464.8" cy="125.0" r="0.41"/><circle cx="465.4" cy="120.7" r="0.37"/><circle cx="431.2" cy="60.6" r="0.41"/><circle cx="463.4" cy="107.4" r="0.49"/><circle cx="466.1" cy="118.6" r="0.72"/><circle cx="456.8" cy="89.1" r="0.39"/><circle cx="465.3" cy="120.6" r="0.46"/><circle cx="434.4" cy="63.8" r="0.37"/><circle cx="424.8" cy="56.9" r="0.41"/><circle cx="452.5" cy="83.5" r="0.55"/><circle cx="422.6" cy="55.0" r="0.61"/><circle cx="463.3" cy="106.6" r="0.42"/><circle cx="439.0" cy="66.7" r="0.64"/><circle cx="461.3" cy="100.8" r="0.65"/><circle cx="422.0" cy="54.8" r="0.65"/><circle cx="435.7" cy="63.6" r="0.44"/><circle cx="454.2" cy="85.1" r="0.37"/><circle cx="465.3" cy="127.1" r="0.45"/><circle cx="444.9" cy="71.4" r="0.52"/><circle cx="426.3" cy="56.8" r="0.70"/><circle cx="460.2" cy="97.8" r="0.44"/><circle cx="464.2" cy="112.3" r="0.58"/><circle cx="429.3" cy="58.9" r="0.53"/><circle cx="447.3" cy="74.4" r="0.39"/><circle cx="446.9" cy="73.7" r="0.64"/><circle cx="440.5" cy="68.2" r="0.42"/><circle cx="437.5" cy="65.9" r="0.65"/></g>
<g fill="#b0f0f8" opacity="0.85"><circle cx="425.3" cy="50.1" r="0.50"/><circle cx="427.9" cy="50.8" r="0.42"/><circle cx="472.5" cy="117.0" r="0.69"/><circle cx="439.7" cy="59.5" r="0.66"/><circle cx="424.7" cy="49.3" r="0.49"/><circle cx="457.8" cy="78.4" r="0.37"/><circle cx="425.5" cy="49.7" r="0.55"/><circle cx="428.9" cy="51.9" r="0.67"/><circle cx="438.1" cy="58.2" r="0.45"/><circle cx="469.3" cy="101.1" r="0.57"/><circle cx="470.5" cy="104.2" r="0.41"/><circle cx="431.0" cy="53.2" r="0.52"/><circle cx="456.8" cy="74.7" r="0.51"/><circle cx="430.4" cy="52.6" r="0.55"/><circle cx="459.1" cy="80.7" r="0.52"/><circle cx="471.4" cy="111.7" r="0.65"/><circle cx="472.4" cy="112.5" r="0.62"/><circle cx="457.7" cy="77.6" r="0.55"/><circle cx="458.3" cy="77.1" r="0.40"/><circle cx="457.3" cy="77.3" r="0.46"/><circle cx="442.8" cy="61.2" r="0.56"/><circle cx="444.2" cy="61.4" r="0.52"/><circle cx="454.4" cy="72.8" r="0.54"/><circle cx="448.8" cy="66.8" r="0.55"/><circle cx="462.9" cy="83.6" r="0.61"/><circle cx="434.5" cy="54.1" r="0.45"/><circle cx="458.3" cy="76.6" r="0.66"/><circle cx="472.3" cy="116.1" r="0.52"/><circle cx="473.0" cy="122.3" r="0.39"/><circle cx="450.9" cy="68.1" r="0.68"/><circle cx="473.1" cy="114.2" r="0.60"/><circle cx="473.6" cy="115.2" r="0.71"/><circle cx="472.4" cy="107.7" r="0.50"/><circle cx="462.5" cy="82.7" r="0.66"/><circle cx="472.5" cy="113.6" r="0.55"/><circle cx="467.7" cy="96.8" r="0.47"/><circle cx="446.2" cy="65.3" r="0.56"/><circle cx="463.3" cy="87.8" r="0.48"/><circle cx="453.7" cy="71.9" r="0.38"/><circle cx="424.3" cy="48.8" r="0.71"/><circle cx="472.9" cy="119.2" r="0.37"/><circle cx="442.1" cy="61.1" r="0.41"/><circle cx="465.5" cy="88.6" r="0.65"/><circle cx="470.1" cy="104.4" r="0.69"/><circle cx="457.3" cy="76.0" r="0.39"/><circle cx="473.9" cy="123.7" r="0.51"/><circle cx="474.3" cy="122.1" r="0.59"/><circle cx="440.0" cy="59.9" r="0.67"/><circle cx="474.1" cy="122.7" r="0.52"/><circle cx="468.3" cy="96.6" r="0.69"/><circle cx="469.8" cy="103.6" r="0.55"/><circle cx="470.5" cy="106.4" r="0.42"/><circle cx="473.0" cy="124.4" r="0.47"/><circle cx="469.8" cy="99.6" r="0.46"/><circle cx="460.6" cy="82.5" r="0.48"/><circle cx="473.1" cy="127.5" r="0.37"/><circle cx="446.0" cy="63.8" r="0.43"/><circle cx="463.0" cy="83.9" r="0.40"/><circle cx="439.0" cy="58.3" r="0.54"/><circle cx="437.6" cy="57.4" r="0.54"/><circle cx="449.8" cy="66.5" r="0.48"/><circle cx="438.1" cy="57.1" r="0.59"/><circle cx="465.4" cy="90.7" r="0.38"/><circle cx="472.3" cy="116.8" r="0.63"/><circle cx="470.2" cy="104.7" r="0.39"/><circle cx="437.5" cy="56.3" r="0.60"/><circle cx="469.6" cy="102.2" r="0.47"/><circle cx="462.6" cy="86.0" r="0.52"/><circle cx="471.3" cy="103.5" r="0.71"/><circle cx="458.1" cy="78.4" r="0.71"/></g>
<g fill="#b0f0f8" opacity="0.85"><circle cx="492.0" cy="88.3" r="0.36"/><circle cx="488.2" cy="79.9" r="0.54"/><circle cx="496.8" cy="101.2" r="0.36"/><circle cx="493.6" cy="93.8" r="0.50"/><circle cx="499.6" cy="121.2" r="0.47"/><circle cx="495.8" cy="97.3" r="0.55"/><circle cx="458.2" cy="43.7" r="0.62"/><circle cx="444.1" cy="35.0" r="0.48"/><circle cx="431.7" cy="29.6" r="0.62"/><circle cx="467.9" cy="53.6" r="0.66"/><circle cx="442.9" cy="33.9" r="0.62"/><circle cx="451.2" cy="39.9" r="0.55"/><circle cx="480.5" cy="66.1" r="0.65"/><circle cx="450.1" cy="38.2" r="0.68"/><circle cx="465.0" cy="49.2" r="0.44"/><circle cx="499.9" cy="122.5" r="0.49"/><circle cx="500.0" cy="113.1" r="0.56"/><circle cx="470.0" cy="54.3" r="0.61"/><circle cx="480.4" cy="68.6" r="0.65"/><circle cx="458.3" cy="44.1" r="0.55"/><circle cx="466.4" cy="52.1" r="0.63"/><circle cx="494.1" cy="95.2" r="0.46"/><circle cx="459.9" cy="46.0" r="0.63"/><circle cx="433.0" cy="29.5" r="0.50"/><circle cx="482.1" cy="69.0" r="0.64"/><circle cx="471.0" cy="55.2" r="0.39"/><circle cx="498.0" cy="107.9" r="0.63"/><circle cx="492.6" cy="88.7" r="0.36"/><circle cx="499.8" cy="118.8" r="0.60"/><circle cx="464.0" cy="48.5" r="0.46"/><circle cx="479.0" cy="65.3" r="0.53"/><circle cx="499.8" cy="111.3" r="0.43"/><circle cx="433.0" cy="28.6" r="0.37"/><circle cx="483.8" cy="71.0" r="0.71"/><circle cx="483.6" cy="72.6" r="0.44"/><circle cx="436.3" cy="31.5" r="0.57"/><circle cx="498.6" cy="108.5" r="0.70"/><circle cx="499.4" cy="109.6" r="0.54"/><circle cx="443.5" cy="34.1" r="0.44"/><circle cx="442.1" cy="33.8" r="0.37"/><circle cx="500.7" cy="126.0" r="0.52"/><circle cx="492.0" cy="89.3" r="0.48"/><circle cx="492.5" cy="87.1" r="0.36"/><circle cx="458.4" cy="43.4" r="0.40"/><circle cx="439.0" cy="31.7" r="0.68"/><circle cx="493.0" cy="90.6" r="0.50"/><circle cx="430.3" cy="28.2" r="0.49"/><circle cx="485.0" cy="74.9" r="0.38"/><circle cx="500.1" cy="113.5" r="0.46"/><circle cx="437.5" cy="32.0" r="0.46"/><circle cx="479.1" cy="66.2" r="0.49"/><circle cx="435.6" cy="29.8" r="0.65"/><circle cx="470.1" cy="53.6" r="0.70"/><circle cx="476.8" cy="61.7" r="0.38"/><circle cx="459.8" cy="45.5" r="0.63"/><circle cx="468.0" cy="53.2" r="0.38"/><circle cx="438.5" cy="32.7" r="0.53"/><circle cx="490.1" cy="84.3" r="0.63"/><circle cx="432.8" cy="29.8" r="0.60"/><circle cx="492.7" cy="89.1" r="0.50"/><circle cx="497.3" cy="105.5" r="0.43"/><circle cx="441.2" cy="33.3" r="0.44"/><circle cx="441.5" cy="32.4" r="0.52"/><circle cx="498.1" cy="108.9" r="0.39"/><circle cx="489.9" cy="84.7" r="0.45"/><circle cx="494.7" cy="94.2" r="0.68"/><circle cx="458.0" cy="44.1" r="0.51"/><circle cx="478.3" cy="64.6" r="0.48"/><circle cx="499.8" cy="118.6" r="0.71"/><circle cx="499.0" cy="110.5" r="0.59"/><circle cx="445.8" cy="36.3" r="0.46"/><circle cx="494.8" cy="95.5" r="0.52"/><circle cx="435.8" cy="30.0" r="0.67"/><circle cx="499.8" cy="123.7" r="0.62"/><circle cx="442.3" cy="33.9" r="0.57"/><circle cx="500.5" cy="126.4" r="0.69"/><circle cx="450.5" cy="37.8" r="0.71"/><circle cx="494.3" cy="95.7" r="0.42"/><circle cx="478.9" cy="64.5" r="0.70"/><circle cx="461.1" cy="46.0" r="0.64"/></g>
<g fill="#b0f0f8" opacity="0.85"><circle cx="477.9" cy="53.8" r="0.37"/><circle cx="447.0" cy="29.5" r="0.69"/><circle cx="460.9" cy="38.5" r="0.41"/><circle cx="492.3" cy="74.1" r="0.61"/><circle cx="498.4" cy="89.8" r="0.55"/><circle cx="466.9" cy="43.3" r="0.44"/><circle cx="464.8" cy="42.3" r="0.47"/><circle cx="478.2" cy="53.0" r="0.59"/><circle cx="436.1" cy="23.6" r="0.44"/><circle cx="493.1" cy="74.3" r="0.61"/><circle cx="487.9" cy="68.9" r="0.54"/><circle cx="458.2" cy="36.3" r="0.45"/><circle cx="459.5" cy="36.0" r="0.44"/><circle cx="501.7" cy="98.5" r="0.51"/><circle cx="457.2" cy="36.0" r="0.65"/><circle cx="451.8" cy="31.8" r="0.43"/><circle cx="426.1" cy="20.2" r="0.66"/><circle cx="492.8" cy="76.7" r="0.63"/><circle cx="490.1" cy="69.3" r="0.54"/><circle cx="495.2" cy="81.4" r="0.51"/><circle cx="459.7" cy="36.2" r="0.41"/><circle cx="482.3" cy="60.2" r="0.71"/><circle cx="497.1" cy="86.5" r="0.38"/><circle cx="483.3" cy="59.5" r="0.68"/><circle cx="452.9" cy="31.4" r="0.70"/><circle cx="486.8" cy="66.6" r="0.70"/><circle cx="450.6" cy="32.0" r="0.60"/><circle cx="483.6" cy="61.5" r="0.48"/><circle cx="495.7" cy="83.5" r="0.46"/><circle cx="486.4" cy="63.5" r="0.40"/><circle cx="426.7" cy="20.6" r="0.49"/><circle cx="443.2" cy="26.3" r="0.52"/><circle cx="501.5" cy="96.7" r="0.49"/><circle cx="431.8" cy="22.4" r="0.49"/><circle cx="434.3" cy="23.7" r="0.51"/><circle cx="444.3" cy="26.9" r="0.37"/><circle cx="501.2" cy="98.6" r="0.69"/><circle cx="492.2" cy="73.5" r="0.68"/><circle cx="486.2" cy="65.5" r="0.70"/><circle cx="463.6" cy="40.8" r="0.62"/><circle cx="487.7" cy="67.8" r="0.36"/><circle cx="450.4" cy="30.1" r="0.59"/><circle cx="429.0" cy="21.7" r="0.44"/><circle cx="477.0" cy="51.7" r="0.70"/><circle cx="482.9" cy="60.8" r="0.51"/><circle cx="475.4" cy="50.1" r="0.43"/><circle cx="445.2" cy="27.5" r="0.66"/><circle cx="448.3" cy="29.5" r="0.48"/><circle cx="487.7" cy="67.4" r="0.64"/><circle cx="499.9" cy="93.5" r="0.63"/></g>
<g fill="#b0f0f8" opacity="0.85"><circle cx="493.5" cy="64.9" r="0.37"/><circle cx="470.7" cy="37.3" r="0.71"/><circle cx="438.1" cy="15.3" r="0.46"/><circle cx="502.2" cy="81.7" r="0.54"/><circle cx="456.0" cy="25.9" r="0.44"/><circle cx="482.4" cy="48.3" r="0.60"/><circle cx="452.5" cy="22.9" r="0.60"/><circle cx="501.7" cy="77.2" r="0.47"/><circle cx="469.5" cy="36.1" r="0.63"/><circle cx="496.6" cy="69.5" r="0.45"/><circle cx="500.1" cy="73.7" r="0.57"/><circle cx="488.8" cy="56.9" r="0.72"/><circle cx="474.6" cy="41.0" r="0.65"/><circle cx="462.1" cy="28.9" r="0.40"/><circle cx="478.0" cy="43.0" r="0.66"/><circle cx="434.1" cy="15.5" r="0.47"/><circle cx="500.7" cy="77.9" r="0.71"/><circle cx="468.7" cy="34.1" r="0.49"/><circle cx="439.6" cy="17.0" r="0.45"/><circle cx="449.5" cy="21.0" r="0.40"/><circle cx="467.1" cy="33.6" r="0.44"/><circle cx="485.4" cy="53.2" r="0.43"/><circle cx="493.8" cy="63.6" r="0.59"/><circle cx="496.0" cy="69.3" r="0.48"/><circle cx="458.9" cy="28.4" r="0.47"/><circle cx="497.2" cy="68.6" r="0.56"/><circle cx="503.1" cy="84.0" r="0.50"/><circle cx="471.3" cy="37.1" r="0.39"/><circle cx="499.3" cy="72.8" r="0.51"/><circle cx="491.5" cy="61.1" r="0.70"/><circle cx="490.0" cy="58.0" r="0.49"/><circle cx="482.8" cy="48.0" r="0.72"/><circle cx="485.8" cy="53.6" r="0.62"/><circle cx="496.0" cy="69.3" r="0.68"/><circle cx="482.1" cy="47.4" r="0.51"/></g>
<g fill="#e8e840" opacity="0.85"><circle cx="402.5" cy="21.8" r="0.45"/><circle cx="446.8" cy="36.2" r="0.64"/><circle cx="401.0" cy="22.6" r="0.63"/><circle cx="429.4" cy="28.0" r="0.45"/><circle cx="433.8" cy="29.7" r="0.75"/><circle cx="442.3" cy="33.8" r="0.70"/><circle cx="397.9" cy="22.1" r="0.44"/><circle cx="399.3" cy="20.2" r="0.58"/><circle cx="445.4" cy="34.3" r="0.54"/><circle cx="401.4" cy="21.3" r="0.71"/><circle cx="440.1" cy="31.9" r="0.48"/><circle cx="428.0" cy="26.6" r="0.71"/><circle cx="438.4" cy="32.7" r="0.55"/><circle cx="421.8" cy="25.8" r="0.44"/><circle cx="435.8" cy="30.0" r="0.74"/><circle cx="445.5" cy="35.4" r="0.69"/><circle cx="446.0" cy="34.9" r="0.44"/><circle cx="417.6" cy="24.3" r="0.63"/><circle cx="432.6" cy="29.5" r="0.62"/><circle cx="426.7" cy="26.7" r="0.56"/><circle cx="425.6" cy="28.0" r="0.63"/><circle cx="423.1" cy="26.7" r="0.69"/><circle cx="408.0" cy="22.6" r="0.46"/><circle cx="423.9" cy="27.2" r="0.44"/><circle cx="426.0" cy="28.0" r="0.56"/><circle cx="421.9" cy="26.8" r="0.64"/><circle cx="443.8" cy="34.0" r="0.69"/><circle cx="421.9" cy="26.8" r="0.59"/><circle cx="429.4" cy="26.8" r="0.44"/><circle cx="404.0" cy="20.6" r="0.68"/><circle cx="406.0" cy="23.0" r="0.77"/><circle cx="423.5" cy="24.8" r="0.75"/><circle cx="439.9" cy="31.8" r="0.75"/><circle cx="444.1" cy="35.3" r="0.68"/><circle cx="440.3" cy="31.7" r="0.50"/></g>
<g fill="#e8e840" opacity="0.7"><circle cx="440.4" cy="69.1" r="0.54"/><circle cx="436.1" cy="65.2" r="0.45"/><circle cx="451.8" cy="81.7" r="0.37"/><circle cx="459.8" cy="97.3" r="0.70"/><circle cx="446.7" cy="73.4" r="0.42"/><circle cx="441.6" cy="70.3" r="0.55"/><circle cx="447.6" cy="76.0" r="0.67"/><circle cx="450.7" cy="79.2" r="0.68"/><circle cx="462.7" cy="100.5" r="0.59"/><circle cx="455.9" cy="86.3" r="0.46"/><circle cx="433.3" cy="62.1" r="0.49"/><circle cx="442.9" cy="70.6" r="0.42"/><circle cx="443.2" cy="72.0" r="0.66"/><circle cx="459.1" cy="93.3" r="0.71"/><circle cx="449.8" cy="77.7" r="0.47"/><circle cx="462.5" cy="106.4" r="0.41"/><circle cx="448.4" cy="76.7" r="0.54"/><circle cx="437.1" cy="66.2" r="0.44"/><circle cx="446.5" cy="75.7" r="0.36"/><circle cx="455.8" cy="88.9" r="0.49"/></g>
<ellipse cx="415.9" cy="8.1" rx="8.00" ry="3.40" transform="rotate(14 415.9 8.1)" fill="#40d0c8"/>
<ellipse cx="415.9" cy="8.1" rx="4.80" ry="2.04" transform="rotate(14 415.9 8.1)" fill="#e8e030"/>
<ellipse cx="415.9" cy="8.1" rx="2.56" ry="1.09" transform="rotate(14 415.9 8.1)" fill="#d02010"/>
<ellipse cx="409.5" cy="16.3" rx="8.00" ry="3.00" transform="rotate(9 409.5 16.3)" fill="#50d8b8"/>
<ellipse cx="409.5" cy="16.3" rx="7.04" ry="2.64" transform="rotate(9 409.5 16.3)" fill="#d8e030"/>
<ellipse cx="409.5" cy="16.3" rx="6.40" ry="2.40" transform="rotate(9 409.5 16.3)" fill="#c02010"/>
<ellipse cx="409.5" cy="16.3" rx="5.76" ry="2.16" transform="rotate(9 409.5 16.3)" fill="#5a0000"/>
<ellipse cx="406.5" cy="48.6" rx="9.00" ry="3.20" transform="rotate(8 406.5 48.6)" fill="#50d8b8"/>
<ellipse cx="406.5" cy="48.6" rx="7.92" ry="2.82" transform="rotate(8 406.5 48.6)" fill="#d8e030"/>
<ellipse cx="406.5" cy="48.6" rx="7.20" ry="2.56" transform="rotate(8 406.5 48.6)" fill="#c02010"/>
<ellipse cx="406.5" cy="48.6" rx="6.48" ry="2.30" transform="rotate(8 406.5 48.6)" fill="#5a0000"/>
<ellipse cx="416.5" cy="57.6" rx="6.20" ry="2.60" transform="rotate(16 416.5 57.6)" fill="#50d8b8"/>
<ellipse cx="416.5" cy="57.6" rx="5.27" ry="2.21" transform="rotate(16 416.5 57.6)" fill="#d8e030"/>
<ellipse cx="416.5" cy="57.6" rx="4.65" ry="1.95" transform="rotate(16 416.5 57.6)" fill="#c02010"/>
<ellipse cx="416.5" cy="57.6" rx="4.03" ry="1.69" transform="rotate(16 416.5 57.6)" fill="#5a0000"/>
<ellipse cx="397.5" cy="90" rx="5.80" ry="2.20" transform="rotate(4 397.5 90)" fill="#50d8b8"/>
<ellipse cx="397.5" cy="90" rx="4.93" ry="1.87" transform="rotate(4 397.5 90)" fill="#d8e030"/>
<ellipse cx="397.5" cy="90" rx="4.35" ry="1.65" transform="rotate(4 397.5 90)" fill="#c02010"/>
<ellipse cx="397.5" cy="90" rx="3.77" ry="1.43" transform="rotate(4 397.5 90)" fill="#5a0000"/>
<ellipse cx="424.9" cy="99.1" rx="2.60" ry="2.00" transform="rotate(30 424.9 99.1)" fill="#50d8c0"/>
<ellipse cx="424.9" cy="99.1" rx="1.82" ry="1.40" transform="rotate(30 424.9 99.1)" fill="#e0e030"/>
<ellipse cx="424.9" cy="99.1" rx="1.17" ry="0.90" transform="rotate(30 424.9 99.1)" fill="#d02010"/>
<ellipse cx="433.1" cy="123" rx="1.60" ry="2.60" transform="rotate(0 433.1 123)" fill="#50d8c0"/>
<ellipse cx="433.1" cy="123" rx="0.96" ry="1.56" transform="rotate(0 433.1 123)" fill="#e8e840"/>
<ellipse cx="466" cy="106.5" rx="2.20" ry="3.60" transform="rotate(-20 466 106.5)" fill="#40d0d0"/>
<ellipse cx="466" cy="106.5" rx="1.54" ry="2.52" transform="rotate(-20 466 106.5)" fill="#e0e030"/>
<ellipse cx="466" cy="106.5" rx="1.10" ry="1.80" transform="rotate(-20 466 106.5)" fill="#d02010"/>
<ellipse cx="474.3" cy="114.7" rx="2.30" ry="3.80" transform="rotate(-15 474.3 114.7)" fill="#50d8b8"/>
<ellipse cx="474.3" cy="114.7" rx="1.84" ry="3.04" transform="rotate(-15 474.3 114.7)" fill="#d8e030"/>
<ellipse cx="474.3" cy="114.7" rx="1.61" ry="2.66" transform="rotate(-15 474.3 114.7)" fill="#c02010"/>
<ellipse cx="474.3" cy="114.7" rx="1.33" ry="2.20" transform="rotate(-15 474.3 114.7)" fill="#5a0000"/>
<ellipse cx="500.6" cy="125.4" rx="2.40" ry="4.20" transform="rotate(-10 500.6 125.4)" fill="#50d8b8"/>
<ellipse cx="500.6" cy="125.4" rx="1.92" ry="3.36" transform="rotate(-10 500.6 125.4)" fill="#d8e030"/>
<ellipse cx="500.6" cy="125.4" rx="1.68" ry="2.94" transform="rotate(-10 500.6 125.4)" fill="#c02010"/>
<ellipse cx="500.6" cy="125.4" rx="1.39" ry="2.44" transform="rotate(-10 500.6 125.4)" fill="#5a0000"/>
<ellipse cx="507.2" cy="115.5" rx="2.60" ry="4.50" transform="rotate(-10 507.2 115.5)" fill="#40c8e0"/>
<ellipse cx="507.2" cy="115.5" rx="1.56" ry="2.70" transform="rotate(-10 507.2 115.5)" fill="#e8e840"/>
<ellipse cx="448.8" cy="24.6" rx="4.50" ry="2.20" transform="rotate(25 448.8 24.6)" fill="#48c8e0"/>
<ellipse cx="448.8" cy="24.6" rx="2.48" ry="1.21" transform="rotate(25 448.8 24.6)" fill="#60e0b0"/>
<ellipse cx="448.8" cy="41" rx="4.50" ry="2.60" transform="rotate(30 448.8 41)" fill="#48c8e0"/>
<ellipse cx="448.8" cy="41" rx="2.70" ry="1.56" transform="rotate(30 448.8 41)" fill="#80e070"/>
<ellipse cx="448.8" cy="41" rx="1.35" ry="0.78" transform="rotate(30 448.8 41)" fill="#e0e040"/>
<ellipse cx="457" cy="42.5" rx="1.60" ry="1.60" transform="rotate(0 457 42.5)" fill="#e0e040"/>
<ellipse cx="457" cy="42.5" rx="0.96" ry="0.96" transform="rotate(0 457 42.5)" fill="#700000"/>
<ellipse cx="457.2" cy="65.6" rx="3.20" ry="2.00" transform="rotate(40 457.2 65.6)" fill="#48c8e0"/>
<ellipse cx="457.2" cy="65.6" rx="1.76" ry="1.10" transform="rotate(40 457.2 65.6)" fill="#60e0b0"/>
<ellipse cx="482.5" cy="73.6" rx="2.20" ry="3.60" transform="rotate(-40 482.5 73.6)" fill="#48c8e0"/>
<ellipse cx="482.5" cy="73.6" rx="1.21" ry="1.98" transform="rotate(-40 482.5 73.6)" fill="#60e0b0"/>
<ellipse cx="499" cy="74.4" rx="2.00" ry="3.00" transform="rotate(-40 499 74.4)" fill="#4aa8f0"/>
<ellipse cx="515.4" cy="105.7" rx="1.80" ry="3.00" transform="rotate(-10 515.4 105.7)" fill="#4aa8f0"/>
<ellipse cx="393.5" cy="101" rx="2.20" ry="10.00" transform="rotate(0 393.5 101)" fill="#3a90f0"/>
<ellipse cx="393.5" cy="101" rx="1.10" ry="5.00" transform="rotate(0 393.5 101)" fill="#48c8e0"/>
</g></g>
<text x="461.5" y="16.1" font-size="10.2" fill="#dcdcf0" stroke="#dcdcf0" stroke-width="0.18" text-anchor="start" font-weight="normal" >Time = 3min</text>
<clipPath id="clipc"><rect x="579.2" y="3.9" width="129.0" height="128.4"/></clipPath>
<rect x="579.2" y="3.9" width="129.0" height="128.4" fill="#0808cc"/>
<clipPath id="qc"><path d="M578.7,132.3 L579.5,132.3 L579.6,110 L580.5,95 L582.5,80 L583.6,69 L586.5,45 L593.6,3.9 L747.2,-16.1 L747.2,132.3 Z"/></clipPath>
<radialGradient id="rgc" gradientUnits="userSpaceOnUse" cx="578.7" cy="132.3" r="128.5"><stop offset="0" stop-color="#2448ea"/><stop offset="0.5" stop-color="#2e62f2"/><stop offset="1" stop-color="#3a72f8"/></radialGradient>
<g clip-path="url(#clipc)"><g clip-path="url(#qc)">
<circle cx="568.6" cy="137.8" r="143.2" fill="url(#rgc)"/>
<path d="M643.05,78.31 L642.26,77.38 L641.45,76.46 L640.63,75.55 L639.80,74.66 L638.95,73.77 L638.10,72.90 L637.23,72.05 L636.34,71.20 L635.45,70.37 L634.54,69.55 L633.62,68.74 L632.69,67.95 L631.75,67.17 L630.80,66.41 L629.84,65.66 L628.86,64.92 L627.88,64.20 L626.88,63.49 L625.87,62.80 L624.86,62.12 L623.83,61.46 L622.80,60.81 L621.75,60.17 L620.70,59.55 L619.64,58.95 L618.57,58.36 L617.49,57.79 L616.40,57.23 L615.30,56.69 L614.20,56.17 L613.09,55.66 L611.97,55.17 L610.85,54.69 L609.71,54.23 L608.57,53.79 L607.43,53.37 L606.28,52.96 L605.12,52.56 L603.96,52.19 L602.79,51.83 L601.62,51.49 L600.44,51.16 L599.26,50.85 L598.07,50.56 L596.88,50.29 L595.69,50.04 L594.49,49.80 L593.29,49.58 L592.08,49.37 L590.87,49.19 L589.66,49.02 L588.45,48.87 L587.24,48.73 L586.02,48.62 L584.80,48.52 L583.58,48.44 L582.36,48.38 L581.14,48.34 L579.92,48.31 L578.70,48.30" fill="none" stroke="#50b8f0" stroke-width="0.9" opacity="0.6"/>
<path d="M649.94,72.52 L649.07,71.49 L648.17,70.47 L647.27,69.47 L646.35,68.48 L645.41,67.50 L644.46,66.54 L643.50,65.59 L642.52,64.65 L641.53,63.73 L640.53,62.83 L639.51,61.93 L638.48,61.06 L637.44,60.20 L636.38,59.35 L635.31,58.52 L634.24,57.70 L633.14,56.90 L632.04,56.12 L630.93,55.35 L629.80,54.60 L628.67,53.86 L627.52,53.15 L626.37,52.44 L625.20,51.76 L624.02,51.09 L622.84,50.44 L621.64,49.81 L620.44,49.19 L619.23,48.59 L618.00,48.01 L616.77,47.45 L615.54,46.91 L614.29,46.38 L613.04,45.87 L611.78,45.38 L610.51,44.91 L609.23,44.46 L607.95,44.02 L606.67,43.60 L605.37,43.21 L604.07,42.83 L602.77,42.47 L601.46,42.13 L600.15,41.81 L598.83,41.50 L597.51,41.22 L596.18,40.96 L594.85,40.71 L593.52,40.49 L592.18,40.28 L590.84,40.10 L589.50,39.93 L588.15,39.78 L586.81,39.65 L585.46,39.55 L584.11,39.46 L582.76,39.39 L581.40,39.34 L580.05,39.31 L578.70,39.30" fill="none" stroke="#70d8e8" stroke-width="0.9" opacity="0.6"/>
<path d="M668.33,80.55 L667.42,78.99 L666.47,77.45 L665.50,75.93 L664.51,74.42 L663.48,72.93 L662.43,71.46 L661.36,70.01 L660.26,68.58 L659.13,67.17 L657.99,65.77 L656.81,64.40 L655.62,63.04 L654.40,61.71 L653.15,60.40 L651.89,59.11 L650.60,57.85 L649.29,56.60 L647.96,55.38 L646.60,54.19 L645.23,53.01 L643.83,51.87 L642.42,50.74 L640.99,49.64 L639.54,48.57 L638.07,47.52 L636.58,46.49 L635.07,45.50 L633.55,44.53 L632.01,43.58 L630.45,42.67 L628.88,41.78 L627.29,40.91 L625.69,40.08 L624.07,39.27 L622.44,38.50 L620.80,37.75 L619.14,37.03 L617.47,36.34 L615.79,35.67 L614.10,35.04 L612.40,34.44 L610.68,33.87 L608.96,33.32 L607.23,32.81 L605.49,32.33 L603.74,31.87 L601.98,31.45 L600.22,31.06 L598.45,30.70 L596.67,30.37 L594.89,30.07 L593.10,29.81 L591.31,29.57 L589.52,29.37 L587.72,29.19 L585.92,29.05 L584.12,28.94 L582.31,28.86 L580.51,28.82 L578.70,28.80" fill="none" stroke="#60d0e8" stroke-width="0.9" opacity="0.7"/>
<path d="M689.70,132.30 L689.66,129.39 L689.55,126.49 L689.36,123.59 L689.09,120.70 L688.75,117.81 L688.33,114.94 L687.84,112.07 L687.27,109.22 L686.63,106.39 L685.92,103.57 L685.13,100.77 L684.27,98.00 L683.33,95.25 L682.33,92.52 L681.25,89.82 L680.10,87.15 L678.89,84.51 L677.60,81.91 L676.25,79.34 L674.83,76.80 L673.34,74.30 L671.79,71.85 L670.18,69.43 L668.50,67.06 L666.76,64.73 L664.96,62.45 L663.11,60.21 L661.19,58.03 L659.22,55.89 L657.19,53.81 L655.11,51.78 L652.97,49.81 L650.79,47.89 L648.55,46.04 L646.27,44.24 L643.94,42.50 L641.57,40.82 L639.15,39.21 L636.70,37.66 L634.20,36.17 L631.66,34.75 L629.09,33.40 L626.49,32.11 L623.85,30.90 L621.18,29.75 L618.48,28.67 L615.75,27.67 L613.00,26.73 L610.23,25.87 L607.43,25.08 L604.61,24.37 L601.78,23.73 L598.93,23.16 L596.06,22.67 L593.19,22.25 L590.30,21.91 L587.41,21.64 L584.51,21.45 L581.61,21.34 L578.70,21.30" fill="none" stroke="#3a78f6" stroke-width="2.5" opacity="0.6"/>
<path d="M667.53,119.82 L667.42,119.09 L667.31,118.37 L667.20,117.65 L667.07,116.93 L666.95,116.21 L666.81,115.49 L666.67,114.77 L666.53,114.06 L666.37,113.34 L666.22,112.63 L666.05,111.92 L665.88,111.21 L665.71,110.50 L665.53,109.79 L665.34,109.08 L665.15,108.38 L664.95,107.68 L664.75,106.97 L664.54,106.27 L664.33,105.58 L664.11,104.88 L663.88,104.18 L663.65,103.49 L663.41,102.80 L663.17,102.11 L662.92,101.42 L662.66,100.74 L662.40,100.06 L662.14,99.38 L661.87,98.70 L661.59,98.02 L661.31,97.35 L661.02,96.68 L660.73,96.01 L660.43,95.34 L660.13,94.68 L659.82,94.01 L659.50,93.35 L659.18,92.70 L658.86,92.04 L658.53,91.39 L658.19,90.74 L657.85,90.10 L657.50,89.45 L657.15,88.81 L656.80,88.18 L656.43,87.54 L656.07,86.91 L655.70,86.28 L655.32,85.65 L654.94,85.03 L654.55,84.41 L654.16,83.80 L653.76,83.18 L653.36,82.57 L652.95,81.97 L652.54,81.36 L652.12,80.76 L651.70,80.17 L651.27,79.58" fill="none" stroke="#48c0e8" stroke-width="2.6" opacity="0.5" stroke-linecap="round"/>
<path d="M654.77,84.77 L654.01,83.58 L653.24,82.40 L652.45,81.24 L651.64,80.08 L650.81,78.94 L649.96,77.82 L649.09,76.71 L648.21,75.61 L647.31,74.52 L646.40,73.45 L645.46,72.40 L644.52,71.35 L643.55,70.33 L642.57,69.32 L641.57,68.32 L640.56,67.34 L639.53,66.38 L638.49,65.43 L637.43,64.50 L636.36,63.59 L635.27,62.69 L634.17,61.81 L633.06,60.95 L631.93,60.10 L630.79,59.27 L629.64,58.46 L628.47,57.67 L627.29,56.90 L626.10,56.15 L624.90,55.41 L623.69,54.70 L622.46,54.00 L621.23,53.32 L619.98,52.66 L618.72,52.02 L617.46,51.41 L616.18,50.81 L614.90,50.23 L613.60,49.67 L612.30,49.13 L610.99,48.61 L609.67,48.12 L608.35,47.64 L607.01,47.19 L605.67,46.75 L604.33,46.34 L602.97,45.95 L601.61,45.58 L600.25,45.23 L598.88,44.90 L597.50,44.59 L596.12,44.31 L594.74,44.05 L593.35,43.80 L591.96,43.59 L590.56,43.39 L589.17,43.21 L587.76,43.06 L586.36,42.93 L584.96,42.82" fill="none" stroke="#40d0d8" stroke-width="4.0" stroke-linecap="round"/>
<path d="M651.27,79.58 L650.59,78.65 L649.90,77.74 L649.19,76.83 L648.48,75.93 L647.75,75.04 L647.01,74.16 L646.26,73.29 L645.50,72.43 L644.73,71.58 L643.95,70.74 L643.15,69.91 L642.35,69.09 L641.53,68.28 L640.71,67.49 L639.88,66.70 L639.03,65.92 L638.18,65.15 L637.31,64.40 L636.44,63.65 L635.55,62.92 L634.66,62.20 L633.76,61.49 L632.85,60.79 L631.93,60.10 L631.00,59.43 L630.06,58.76 L629.12,58.11 L628.17,57.47 L627.20,56.84 L626.23,56.23 L625.26,55.63 L624.27,55.04 L623.28,54.46 L622.28,53.90 L621.27,53.35 L620.26,52.81 L619.24,52.28 L618.21,51.77 L617.18,51.27 L616.14,50.79 L615.09,50.31 L614.04,49.85 L612.98,49.41 L611.91,48.98 L610.85,48.56 L609.77,48.15 L608.69,47.76 L607.61,47.39 L606.52,47.02 L605.42,46.67 L604.33,46.34 L603.22,46.02 L602.12,45.71 L601.01,45.42 L599.89,45.14 L598.78,44.88 L597.66,44.63 L596.53,44.39 L595.41,44.17 L594.28,43.96" fill="none" stroke="#60e8b0" stroke-width="2.6" stroke-linecap="round"/>
<path d="M615.22,50.26 L614.65,50.01 L614.08,49.76 L613.50,49.52 L612.92,49.28 L612.34,49.04 L611.76,48.81 L611.17,48.58 L610.59,48.35 L610.00,48.13 L609.41,47.92 L608.82,47.70 L608.23,47.50 L607.64,47.29 L607.05,47.09 L606.45,46.90 L605.85,46.70 L605.25,46.52 L604.66,46.33 L604.05,46.15 L603.45,45.98 L602.85,45.81 L602.24,45.64 L601.64,45.48 L601.03,45.32 L600.42,45.17 L599.82,45.02 L599.21,44.87 L598.60,44.73 L597.98,44.59 L597.37,44.46 L596.76,44.33 L596.14,44.21 L595.53,44.09 L594.91,43.98 L594.29,43.86 L593.68,43.76 L593.06,43.66 L592.44,43.56 L591.82,43.46 L591.20,43.37 L590.58,43.29 L589.95,43.21 L589.33,43.13 L588.71,43.06 L588.09,42.99 L587.46,42.93 L586.84,42.87 L586.21,42.81 L585.59,42.76 L584.96,42.72 L584.34,42.68 L583.71,42.64 L583.09,42.61 L582.46,42.58 L581.83,42.55 L581.21,42.54 L580.58,42.52 L579.95,42.51 L579.33,42.50 L578.70,42.50" fill="none" stroke="#d8e030" stroke-width="4.2" stroke-linecap="round" opacity="0.9"/>
<path d="M603.48,45.88 L603.08,45.77 L602.67,45.66 L602.27,45.55 L601.87,45.44 L601.46,45.33 L601.06,45.22 L600.65,45.12 L600.25,45.02 L599.84,44.92 L599.43,44.82 L599.03,44.73 L598.62,44.63 L598.21,44.54 L597.80,44.45 L597.39,44.36 L596.98,44.28 L596.57,44.19 L596.16,44.11 L595.75,44.03 L595.34,43.95 L594.93,43.88 L594.52,43.80 L594.10,43.73 L593.69,43.66 L593.28,43.59 L592.87,43.52 L592.45,43.46 L592.04,43.40 L591.63,43.33 L591.21,43.27 L590.80,43.22 L590.38,43.16 L589.97,43.11 L589.55,43.06 L589.14,43.01 L588.72,42.96 L588.31,42.91 L587.89,42.87 L587.47,42.83 L587.06,42.79 L586.64,42.75 L586.22,42.72 L585.81,42.68 L585.39,42.65 L584.97,42.62 L584.55,42.59 L584.14,42.56 L583.72,42.54 L583.30,42.52 L582.88,42.50 L582.46,42.48 L582.05,42.46 L581.63,42.45 L581.21,42.44 L580.79,42.42 L580.37,42.42 L579.96,42.41 L579.54,42.40 L579.12,42.40 L578.70,42.40" fill="none" stroke="#d83010" stroke-width="3.8" stroke-linecap="round"/>
<path d="M595.89,43.86 L595.61,43.80 L595.33,43.75 L595.04,43.69 L594.76,43.64 L594.47,43.59 L594.19,43.54 L593.91,43.49 L593.62,43.44 L593.34,43.40 L593.05,43.35 L592.77,43.31 L592.48,43.26 L592.20,43.22 L591.91,43.17 L591.63,43.13 L591.34,43.09 L591.06,43.05 L590.77,43.01 L590.49,42.97 L590.20,42.94 L589.91,42.90 L589.63,42.87 L589.34,42.83 L589.06,42.80 L588.77,42.76 L588.48,42.73 L588.20,42.70 L587.91,42.67 L587.62,42.64 L587.34,42.61 L587.05,42.59 L586.76,42.56 L586.47,42.54 L586.19,42.51 L585.90,42.49 L585.61,42.47 L585.32,42.44 L585.04,42.42 L584.75,42.40 L584.46,42.38 L584.17,42.37 L583.89,42.35 L583.60,42.33 L583.31,42.32 L583.02,42.30 L582.73,42.29 L582.45,42.28 L582.16,42.27 L581.87,42.26 L581.58,42.25 L581.29,42.24 L581.01,42.23 L580.72,42.22 L580.43,42.22 L580.14,42.21 L579.85,42.21 L579.56,42.20 L579.28,42.20 L578.99,42.20 L578.70,42.20" fill="none" stroke="#600000" stroke-width="3.2"/>
<path d="M678.93,128.45 L678.80,125.89 L678.60,123.34 L678.34,120.79 L678.01,118.25 L677.62,115.72 L677.16,113.20 L676.64,110.69 L676.06,108.19 L675.41,105.72 L674.70,103.25 L673.93,100.81 L673.09,98.39 L672.20,95.99 L671.24,93.62 L670.22,91.26 L669.14,88.94 L668.01,86.65 L666.81,84.38 L665.56,82.14 L664.25,79.94 L662.89,77.78 L661.47,75.64 L659.99,73.55 L658.46,71.49 L656.89,69.47 L655.26,67.50 L653.58,65.56 L651.85,63.67 L650.07,61.83 L648.25,60.03 L646.38,58.28 L644.47,56.57 L642.51,54.92 L640.52,53.31 L638.48,51.76 L636.40,50.26 L634.29,48.81 L632.14,47.42 L629.95,46.08 L627.73,44.80 L625.48,43.58 L623.20,42.41 L620.89,41.31 L618.56,40.26 L616.19,39.27 L613.80,38.34 L611.39,37.48 L608.96,36.67 L606.51,35.93 L604.04,35.25 L601.55,34.64 L599.05,34.09 L596.54,33.60 L594.01,33.18 L591.47,32.82 L588.93,32.52 L586.38,32.29 L583.82,32.13 L581.26,32.03 L578.70,32.00" fill="none" stroke="#40d8c8" stroke-width="7.2" stroke-linecap="round"/>
<path d="M678.93,128.45 L678.80,125.89 L678.60,123.34 L678.34,120.79 L678.01,118.25 L677.62,115.72 L677.16,113.20 L676.64,110.69 L676.06,108.19 L675.41,105.72 L674.70,103.25 L673.93,100.81 L673.09,98.39 L672.20,95.99 L671.24,93.62 L670.22,91.26 L669.14,88.94 L668.01,86.65 L666.81,84.38 L665.56,82.14 L664.25,79.94 L662.89,77.78 L661.47,75.64 L659.99,73.55 L658.46,71.49 L656.89,69.47 L655.26,67.50 L653.58,65.56 L651.85,63.67 L650.07,61.83 L648.25,60.03 L646.38,58.28 L644.47,56.57 L642.51,54.92 L640.52,53.31 L638.48,51.76 L636.40,50.26 L634.29,48.81 L632.14,47.42 L629.95,46.08 L627.73,44.80 L625.48,43.58 L623.20,42.41 L620.89,41.31 L618.56,40.26 L616.19,39.27 L613.80,38.34 L611.39,37.48 L608.96,36.67 L606.51,35.93 L604.04,35.25 L601.55,34.64 L599.05,34.09 L596.54,33.60 L594.01,33.18 L591.47,32.82 L588.93,32.52 L586.38,32.29 L583.82,32.13 L581.26,32.03 L578.70,32.00" fill="none" stroke="#e8e030" stroke-width="6.2" stroke-linecap="round"/>
<path d="M678.93,128.45 L678.80,125.89 L678.60,123.34 L678.34,120.79 L678.01,118.25 L677.62,115.72 L677.16,113.20 L676.64,110.69 L676.06,108.19 L675.41,105.72 L674.70,103.25 L673.93,100.81 L673.09,98.39 L672.20,95.99 L671.24,93.62 L670.22,91.26 L669.14,88.94 L668.01,86.65 L666.81,84.38 L665.56,82.14 L664.25,79.94 L662.89,77.78 L661.47,75.64 L659.99,73.55 L658.46,71.49 L656.89,69.47 L655.26,67.50 L653.58,65.56 L651.85,63.67 L650.07,61.83 L648.25,60.03 L646.38,58.28 L644.47,56.57 L642.51,54.92 L640.52,53.31 L638.48,51.76 L636.40,50.26 L634.29,48.81 L632.14,47.42 L629.95,46.08 L627.73,44.80 L625.48,43.58 L623.20,42.41 L620.89,41.31 L618.56,40.26 L616.19,39.27 L613.80,38.34 L611.39,37.48 L608.96,36.67 L606.51,35.93 L604.04,35.25 L601.55,34.64 L599.05,34.09 L596.54,33.60 L594.01,33.18 L591.47,32.82 L588.93,32.52 L586.38,32.29 L583.82,32.13 L581.26,32.03 L578.70,32.00" fill="none" stroke="#e03a10" stroke-width="4.8" stroke-linecap="round"/>
<path d="M678.93,128.45 L678.91,128.05 L678.89,127.65 L678.87,127.24 L678.85,126.84 L678.83,126.44 L678.80,126.04 L678.78,125.64 L678.75,125.23 L678.72,124.83 L678.69,124.43 L678.66,124.03 L678.62,123.63 L678.59,123.23 L678.55,122.83 L678.51,122.43 L678.47,122.02 L678.43,121.62 L678.39,121.22 L678.34,120.82 L678.29,120.42 L678.25,120.02 L678.20,119.62 L678.14,119.23 L678.09,118.83 L678.04,118.43 L677.98,118.03 L677.92,117.63 L677.86,117.23 L677.80,116.83 L677.74,116.44 L677.67,116.04 L677.61,115.64 L677.54,115.25 L677.47,114.85 L677.40,114.45 L677.33,114.06 L677.25,113.66 L677.18,113.26 L677.10,112.87 L677.02,112.47 L676.94,112.08 L676.86,111.69 L676.78,111.29 L676.69,110.90 L676.60,110.51 L676.52,110.11 L676.43,109.72 L676.33,109.33 L676.24,108.94 L676.15,108.55 L676.05,108.15 L675.95,107.76 L675.85,107.37 L675.75,106.98 L675.65,106.59 L675.55,106.21 L675.44,105.82 L675.33,105.43 L675.22,105.04 L675.11,104.65" fill="none" stroke="#580000" stroke-width="4.8" stroke-linecap="round"/>
<path d="M613.00,38.05 L612.46,37.85 L611.91,37.66 L611.35,37.46 L610.80,37.28 L610.25,37.09 L609.69,36.91 L609.14,36.73 L608.58,36.55 L608.02,36.38 L607.47,36.21 L606.91,36.05 L606.35,35.89 L605.79,35.73 L605.22,35.57 L604.66,35.42 L604.10,35.27 L603.53,35.12 L602.96,34.98 L602.40,34.84 L601.83,34.70 L601.26,34.57 L600.69,34.44 L600.12,34.31 L599.55,34.19 L598.98,34.07 L598.41,33.96 L597.84,33.84 L597.27,33.73 L596.69,33.63 L596.12,33.52 L595.54,33.42 L594.97,33.33 L594.39,33.23 L593.81,33.15 L593.24,33.06 L592.66,32.98 L592.08,32.90 L591.50,32.82 L590.92,32.75 L590.34,32.68 L589.76,32.61 L589.18,32.55 L588.60,32.49 L588.02,32.43 L587.44,32.38 L586.86,32.33 L586.28,32.29 L585.70,32.24 L585.11,32.21 L584.53,32.17 L583.95,32.14 L583.37,32.11 L582.78,32.08 L582.20,32.06 L581.62,32.04 L581.03,32.03 L580.45,32.02 L579.87,32.01 L579.28,32.00 L578.70,32.00" fill="none" stroke="#580000" stroke-width="5.6"/>
<path d="M676.02,108.04 L675.95,107.75 L675.88,107.47 L675.81,107.19 L675.73,106.90 L675.66,106.62 L675.58,106.34 L675.51,106.06 L675.43,105.78 L675.35,105.50 L675.27,105.21 L675.19,104.93 L675.11,104.65 L675.03,104.37 L674.95,104.09 L674.87,103.81 L674.79,103.53 L674.70,103.25 L674.62,102.98 L674.53,102.70 L674.45,102.42 L674.36,102.14 L674.27,101.86 L674.18,101.58 L674.09,101.31 L674.00,101.03 L673.91,100.75 L673.82,100.47 L673.72,100.20 L673.63,99.92 L673.54,99.65 L673.44,99.37 L673.34,99.09 L673.25,98.82 L673.15,98.54 L673.05,98.27 L672.95,98.00 L672.85,97.72 L672.75,97.45 L672.65,97.17 L672.55,96.90 L672.44,96.63 L672.34,96.36 L672.23,96.08 L672.13,95.81 L672.02,95.54 L671.91,95.27 L671.81,95.00 L671.70,94.73 L671.59,94.46 L671.48,94.19 L671.37,93.92 L671.25,93.65 L671.14,93.38 L671.03,93.11 L670.91,92.84 L670.80,92.57 L670.68,92.31 L670.56,92.04 L670.45,91.77 L670.33,91.50" fill="none" stroke="#900000" stroke-width="3.6"/>
<path d="M625.79,43.74 L625.53,43.60 L625.27,43.47 L625.01,43.33 L624.75,43.20 L624.50,43.06 L624.24,42.93 L623.98,42.80 L623.71,42.67 L623.45,42.54 L623.19,42.41 L622.93,42.28 L622.67,42.15 L622.41,42.02 L622.14,41.90 L621.88,41.77 L621.62,41.65 L621.35,41.52 L621.09,41.40 L620.82,41.27 L620.56,41.15 L620.29,41.03 L620.03,40.91 L619.76,40.79 L619.50,40.67 L619.23,40.55 L618.96,40.44 L618.69,40.32 L618.43,40.20 L618.16,40.09 L617.89,39.97 L617.62,39.86 L617.35,39.75 L617.08,39.63 L616.81,39.52 L616.54,39.41 L616.27,39.30 L616.00,39.19 L615.73,39.09 L615.46,38.98 L615.19,38.87 L614.92,38.77 L614.64,38.66 L614.37,38.56 L614.10,38.45 L613.83,38.35 L613.55,38.25 L613.28,38.15 L613.00,38.05 L612.73,37.95 L612.46,37.85 L612.18,37.75 L611.91,37.66 L611.63,37.56 L611.35,37.46 L611.08,37.37 L610.80,37.28 L610.53,37.18 L610.25,37.09 L609.97,37.00 L609.69,36.91" fill="none" stroke="#900000" stroke-width="4.2"/>
<g fill="#f0e040" opacity="0.9"><circle cx="667.4" cy="84.9" r="0.67"/><circle cx="668.5" cy="86.5" r="0.62"/><circle cx="672.4" cy="92.0" r="0.52"/><circle cx="668.9" cy="92.0" r="0.69"/><circle cx="624.6" cy="41.9" r="0.59"/><circle cx="663.7" cy="82.7" r="0.69"/><circle cx="647.5" cy="60.1" r="0.69"/><circle cx="656.8" cy="66.8" r="0.73"/><circle cx="667.4" cy="82.3" r="0.44"/><circle cx="649.7" cy="62.0" r="0.52"/><circle cx="674.4" cy="99.0" r="0.43"/><circle cx="649.9" cy="59.3" r="0.48"/><circle cx="668.6" cy="86.9" r="0.63"/><circle cx="643.1" cy="53.8" r="0.49"/><circle cx="662.5" cy="78.5" r="0.44"/><circle cx="623.1" cy="41.2" r="0.72"/><circle cx="676.2" cy="103.7" r="0.73"/><circle cx="654.9" cy="65.7" r="0.61"/><circle cx="665.8" cy="85.6" r="0.52"/><circle cx="673.4" cy="101.3" r="0.73"/><circle cx="639.1" cy="50.6" r="0.72"/><circle cx="665.4" cy="81.5" r="0.60"/><circle cx="631.0" cy="46.6" r="0.53"/><circle cx="643.4" cy="53.4" r="0.51"/><circle cx="622.6" cy="44.2" r="0.53"/><circle cx="667.4" cy="83.6" r="0.82"/><circle cx="634.0" cy="49.4" r="0.79"/><circle cx="661.3" cy="77.1" r="0.80"/><circle cx="643.6" cy="54.8" r="0.70"/><circle cx="614.8" cy="38.9" r="0.77"/><circle cx="638.9" cy="50.4" r="0.60"/><circle cx="636.2" cy="49.8" r="0.55"/><circle cx="668.1" cy="85.9" r="0.45"/><circle cx="620.2" cy="42.5" r="0.43"/><circle cx="673.4" cy="94.5" r="0.56"/><circle cx="668.9" cy="92.8" r="0.44"/><circle cx="638.8" cy="51.4" r="0.71"/><circle cx="634.2" cy="50.7" r="0.67"/><circle cx="661.2" cy="73.2" r="0.76"/><circle cx="621.7" cy="43.5" r="0.78"/><circle cx="621.2" cy="39.6" r="0.46"/><circle cx="666.7" cy="87.3" r="0.43"/><circle cx="626.7" cy="42.9" r="0.69"/><circle cx="628.3" cy="44.5" r="0.54"/><circle cx="670.7" cy="96.3" r="0.74"/><circle cx="667.4" cy="87.0" r="0.60"/><circle cx="673.7" cy="103.0" r="0.54"/><circle cx="636.4" cy="50.9" r="0.55"/><circle cx="616.2" cy="39.3" r="0.78"/><circle cx="642.8" cy="57.5" r="0.59"/><circle cx="656.8" cy="67.7" r="0.57"/><circle cx="637.7" cy="51.0" r="0.51"/><circle cx="624.2" cy="44.7" r="0.76"/><circle cx="667.7" cy="90.4" r="0.50"/><circle cx="634.1" cy="46.5" r="0.42"/><circle cx="652.6" cy="64.6" r="0.75"/><circle cx="668.9" cy="88.4" r="0.57"/><circle cx="627.0" cy="45.4" r="0.82"/><circle cx="663.5" cy="80.7" r="0.71"/><circle cx="651.1" cy="65.0" r="0.69"/><circle cx="673.8" cy="97.0" r="0.71"/><circle cx="631.4" cy="46.4" r="0.57"/><circle cx="657.8" cy="71.3" r="0.79"/><circle cx="673.9" cy="96.4" r="0.43"/><circle cx="667.2" cy="87.0" r="0.80"/><circle cx="651.6" cy="64.1" r="0.79"/><circle cx="666.6" cy="84.3" r="0.64"/><circle cx="634.2" cy="47.6" r="0.69"/><circle cx="660.5" cy="75.4" r="0.49"/><circle cx="626.8" cy="43.6" r="0.73"/><circle cx="669.3" cy="89.8" r="0.74"/><circle cx="645.8" cy="59.7" r="0.61"/><circle cx="622.5" cy="43.2" r="0.50"/><circle cx="664.1" cy="78.3" r="0.77"/><circle cx="668.9" cy="91.5" r="0.52"/><circle cx="662.3" cy="76.7" r="0.49"/><circle cx="661.1" cy="77.3" r="0.83"/><circle cx="634.9" cy="51.0" r="0.82"/><circle cx="671.6" cy="95.7" r="0.83"/><circle cx="630.9" cy="45.6" r="0.60"/><circle cx="668.9" cy="87.2" r="0.46"/><circle cx="667.6" cy="86.7" r="0.43"/><circle cx="659.1" cy="70.5" r="0.71"/><circle cx="652.4" cy="63.5" r="0.61"/><circle cx="670.9" cy="91.9" r="0.59"/><circle cx="635.6" cy="47.9" r="0.60"/><circle cx="647.8" cy="58.3" r="0.60"/><circle cx="667.7" cy="84.3" r="0.79"/><circle cx="632.6" cy="46.8" r="0.78"/><circle cx="639.8" cy="52.1" r="0.61"/><circle cx="663.3" cy="77.6" r="0.46"/><circle cx="657.9" cy="69.0" r="0.72"/><circle cx="642.6" cy="56.2" r="0.60"/><circle cx="655.2" cy="66.8" r="0.59"/><circle cx="640.8" cy="51.5" r="0.50"/><circle cx="642.0" cy="53.2" r="0.58"/><circle cx="654.0" cy="63.4" r="0.44"/><circle cx="648.3" cy="61.9" r="0.75"/><circle cx="618.3" cy="40.0" r="0.46"/><circle cx="647.2" cy="58.8" r="0.72"/><circle cx="651.6" cy="62.7" r="0.77"/><circle cx="650.4" cy="62.6" r="0.82"/><circle cx="668.4" cy="85.9" r="0.58"/><circle cx="632.3" cy="49.2" r="0.83"/><circle cx="659.3" cy="75.5" r="0.54"/><circle cx="656.7" cy="72.3" r="0.60"/><circle cx="657.6" cy="69.1" r="0.57"/><circle cx="664.4" cy="82.2" r="0.73"/><circle cx="618.3" cy="40.0" r="0.51"/><circle cx="629.7" cy="46.4" r="0.51"/><circle cx="672.0" cy="92.7" r="0.76"/><circle cx="642.8" cy="55.3" r="0.66"/><circle cx="668.6" cy="84.1" r="0.57"/><circle cx="643.3" cy="54.0" r="0.76"/><circle cx="653.5" cy="66.6" r="0.65"/><circle cx="672.4" cy="93.0" r="0.57"/><circle cx="625.5" cy="44.6" r="0.58"/><circle cx="665.6" cy="82.8" r="0.50"/><circle cx="675.9" cy="104.2" r="0.54"/><circle cx="665.6" cy="83.7" r="0.62"/><circle cx="656.9" cy="68.7" r="0.70"/><circle cx="661.6" cy="73.0" r="0.78"/><circle cx="674.7" cy="99.1" r="0.80"/><circle cx="630.6" cy="48.1" r="0.77"/><circle cx="641.7" cy="56.7" r="0.42"/><circle cx="617.5" cy="39.2" r="0.53"/><circle cx="670.8" cy="96.1" r="0.52"/><circle cx="631.7" cy="47.8" r="0.48"/><circle cx="621.8" cy="40.5" r="0.49"/><circle cx="622.7" cy="41.7" r="0.75"/><circle cx="641.2" cy="52.0" r="0.75"/><circle cx="626.3" cy="45.3" r="0.71"/><circle cx="650.7" cy="61.1" r="0.60"/><circle cx="623.3" cy="42.2" r="0.53"/><circle cx="665.5" cy="84.9" r="0.63"/><circle cx="673.3" cy="99.4" r="0.48"/><circle cx="652.6" cy="64.5" r="0.65"/><circle cx="624.0" cy="44.9" r="0.77"/><circle cx="654.3" cy="66.0" r="0.70"/><circle cx="626.5" cy="44.7" r="0.60"/><circle cx="615.9" cy="40.9" r="0.69"/><circle cx="641.6" cy="56.5" r="0.68"/><circle cx="640.2" cy="51.0" r="0.56"/><circle cx="614.6" cy="38.6" r="0.62"/><circle cx="621.2" cy="43.4" r="0.72"/><circle cx="643.1" cy="56.2" r="0.78"/><circle cx="660.0" cy="73.7" r="0.64"/><circle cx="631.8" cy="48.5" r="0.60"/><circle cx="657.0" cy="69.3" r="0.77"/><circle cx="665.0" cy="78.8" r="0.59"/></g>
<g fill="#800000" opacity="0.8"><circle cx="651.4" cy="64.1" r="0.63"/><circle cx="618.5" cy="39.8" r="0.75"/><circle cx="660.9" cy="75.7" r="0.55"/><circle cx="646.9" cy="58.3" r="0.75"/><circle cx="673.5" cy="97.8" r="0.79"/><circle cx="648.5" cy="61.9" r="0.55"/><circle cx="673.2" cy="101.0" r="0.81"/><circle cx="645.5" cy="56.9" r="0.75"/><circle cx="623.6" cy="42.3" r="0.68"/><circle cx="644.4" cy="55.8" r="0.67"/><circle cx="639.9" cy="53.8" r="0.70"/><circle cx="655.0" cy="66.2" r="0.46"/><circle cx="666.9" cy="87.2" r="0.75"/><circle cx="623.3" cy="42.0" r="0.57"/><circle cx="630.5" cy="45.6" r="0.66"/><circle cx="664.3" cy="81.1" r="0.60"/><circle cx="661.8" cy="76.4" r="0.69"/><circle cx="621.1" cy="42.7" r="0.66"/><circle cx="672.0" cy="98.4" r="0.76"/><circle cx="648.1" cy="58.4" r="0.61"/><circle cx="673.4" cy="100.2" r="0.67"/><circle cx="621.8" cy="40.4" r="0.62"/><circle cx="656.3" cy="70.3" r="0.69"/><circle cx="666.0" cy="84.7" r="0.43"/><circle cx="674.4" cy="100.8" r="0.47"/></g>
<ellipse cx="580.6" cy="96.6" rx="1.60" ry="8.00" transform="rotate(0 580.6 96.6)" fill="#3a90f0"/>
<ellipse cx="580.6" cy="96.6" rx="0.80" ry="4.00" transform="rotate(0 580.6 96.6)" fill="#50d8c0"/>
</g></g>
<text x="640" y="16.1" font-size="10.2" fill="#dcdcf0" stroke="#dcdcf0" stroke-width="0.18" text-anchor="start" font-weight="normal" >Time = 189min</text>
<text x="598.3" y="27.5" font-size="10" fill="#dcdcf0" stroke="#dcdcf0" stroke-width="0.18" text-anchor="start" font-weight="normal" >Perovskite</text>
<text x="588.4" y="61.5" font-size="10" fill="#dcdcf0" stroke="#dcdcf0" stroke-width="0.15">PbI<tspan font-size="6.5" dy="2.6">2</tspan></text>
<path d="M389.3,32.5 H392.3 M390.3,82.3 H392.3 M392.3,134.1 V132.1 M442.1,134.1 V132.1 M491.9,134.1 V132.1" stroke="#333" stroke-width="0.8"/>
<path d="M392.3,132.1 H521.3" stroke="#333" stroke-width="0.6"/>
<text x="388.5" y="135.7" font-size="10.4" fill="#231f20" stroke="#231f20" stroke-width="0.18" text-anchor="end" font-weight="normal" >0.0</text>
<text x="388.5" y="36.099999999999994" font-size="10.4" fill="#231f20" stroke="#231f20" stroke-width="0.18" text-anchor="end" font-weight="normal" >1.0</text>
<text x="392.3" y="144.29999999999998" font-size="10.4" fill="#231f20" stroke="#231f20" stroke-width="0.18" text-anchor="middle" font-weight="normal" >0.0</text>
<text x="492.8" y="144.29999999999998" font-size="10.4" fill="#231f20" stroke="#231f20" stroke-width="0.18" text-anchor="middle" font-weight="normal" >1.0</text>
<text font-size="10" fill="#231f20"><tspan x="438.0" y="154.1">q</tspan><tspan x="443.8" y="156.4" font-size="6">xy</tspan><tspan x="452.5" y="154.1" textLength="24.8" lengthAdjust="spacingAndGlyphs">(1/Å)</tspan></text>
<g transform="translate(369.7,87.4) rotate(-90)"><text font-size="10" fill="#231f20"><tspan x="0" y="0">q</tspan><tspan x="5.8" y="2.4" font-size="6">z</tspan><tspan x="10.8" y="0" textLength="24.6" lengthAdjust="spacingAndGlyphs">(1/Å)</tspan></text></g>
<path d="M575.7,32.70000000000002 H578.7 M576.7,82.50000000000001 H578.7 M578.7,134.3 V132.3 M628.5,134.3 V132.3 M678.3000000000001,134.3 V132.3" stroke="#333" stroke-width="0.8"/>
<path d="M578.7,132.3 H707.7" stroke="#333" stroke-width="0.6"/>
<text x="574.9000000000001" y="135.9" font-size="10.4" fill="#231f20" stroke="#231f20" stroke-width="0.18" text-anchor="end" font-weight="normal" >0.0</text>
<text x="574.9000000000001" y="36.30000000000001" font-size="10.4" fill="#231f20" stroke="#231f20" stroke-width="0.18" text-anchor="end" font-weight="normal" >1.0</text>
<text x="578.7" y="144.5" font-size="10.4" fill="#231f20" stroke="#231f20" stroke-width="0.18" text-anchor="middle" font-weight="normal" >0.0</text>
<text x="679.2" y="144.5" font-size="10.4" fill="#231f20" stroke="#231f20" stroke-width="0.18" text-anchor="middle" font-weight="normal" >1.0</text>
<text font-size="10" fill="#231f20"><tspan x="624.4" y="154.3">q</tspan><tspan x="630.2" y="156.60000000000002" font-size="6">xy</tspan><tspan x="638.9" y="154.3" textLength="24.8" lengthAdjust="spacingAndGlyphs">(1/Å)</tspan></text>
<g transform="translate(556.1,87.6) rotate(-90)"><text font-size="10" fill="#231f20"><tspan x="0" y="0">q</tspan><tspan x="5.8" y="2.4" font-size="6">z</tspan><tspan x="10.8" y="0" textLength="24.6" lengthAdjust="spacingAndGlyphs">(1/Å)</tspan></text></g>
<clipPath id="cd"><rect x="65.6" y="179.2" width="215.9" height="177.8"/></clipPath>
<g clip-path="url(#cd)" fill="none" stroke-width="1">
<path d="M65.6,180.90 L241.00,180.6" stroke="#152be0" stroke-width="1.15"/>
<path d="M65.6,181.80 L241.00,180.6" stroke="#1731e0" stroke-width="1.15"/>
<path d="M65.6,182.80 L241.00,180.6" stroke="#1a38e0" stroke-width="1.15"/>
<path d="M65.6,184.00 L241.00,180.6" stroke="#1d3ee0" stroke-width="1.15"/>
<path d="M65.6,185.40 L241.00,180.6" stroke="#2044e0" stroke-width="1.15"/>
<path d="M65.6,187.20 L241.00,180.6" stroke="#224be0" stroke-width="1.15"/>
<path d="M65.6,190.20 L241.00,180.6" stroke="#2551e0" stroke-width="1.15"/>
<path d="M65.6,194.40 L241.00,180.6" stroke="#2857e0" stroke-width="1.15"/>
<path d="M65.6,200.10 L241.00,180.6" stroke="#295ce1" stroke-width="1.15"/>
<path d="M65.6,206.90 L241.00,180.6" stroke="#2a60e2" stroke-width="1.15"/>
<path d="M65.6,214.80 L241.00,180.6" stroke="#2a64e2" stroke-width="1.15"/>
<path d="M65.6,223.30 L241.00,180.6" stroke="#2b69e3" stroke-width="1.15"/>
<path d="M65.6,231.40 L241.00,180.6" stroke="#2c6de4" stroke-width="1.15"/>
<path d="M65.6,240.20 L241.00,180.6" stroke="#2d71e5" stroke-width="1.15"/>
<path d="M65.6,249.00 L241.00,180.6" stroke="#2e76e6" stroke-width="1.15"/>
<path d="M65.6,260.70 L241.00,180.6" stroke="#2f7ae7" stroke-width="1.15"/>
<path d="M65.6,272.90 L241.00,180.6" stroke="#307ee8" stroke-width="1.15"/>
<path d="M65.6,280.7 L180.3,224.6 Q239.3,195.8 246.0,181.0 Q250.0,180.7 256.0,180.7" stroke="#34a3e8" stroke-width="1.3"/>
<path d="M65.6,282.0 L181.0,224.8 Q239.5,195.8 246.7,181.1 Q250.7,180.7 256.7,180.7" stroke="#34a4e8" stroke-width="1.3"/>
<path d="M65.6,283.4 L181.6,225.1 Q239.8,195.8 247.3,181.2 Q251.3,180.7 257.3,180.7" stroke="#2e76e6" stroke-width="1.3"/>
<path d="M65.6,284.7 L182.3,225.3 Q240.1,195.8 248.0,181.3 Q252.0,180.7 258.0,180.7" stroke="#35a8e8" stroke-width="1.3"/>
<path d="M65.6,286.0 L182.9,225.5 Q240.4,195.9 248.7,181.3 Q252.7,180.7 258.7,180.7" stroke="#35a6e8" stroke-width="1.3"/>
<path d="M65.6,287.4 L183.5,225.7 Q240.7,195.9 249.4,181.4 Q253.4,180.7 259.4,180.7" stroke="#2e76e6" stroke-width="1.3"/>
<path d="M65.6,288.7 L184.2,226.0 Q241.1,195.9 250.0,181.5 Q254.0,180.7 260.0,180.7" stroke="#37b7d9" stroke-width="1.3"/>
<path d="M65.6,290.0 L184.8,226.2 Q241.4,195.9 250.7,181.6 Q254.7,180.7 260.7,180.7" stroke="#37b7d9" stroke-width="1.3"/>
<path d="M65.6,291.4 L185.5,226.4 Q241.8,195.9 251.4,181.7 Q255.4,180.7 261.4,180.7" stroke="#37b4dc" stroke-width="1.3"/>
<path d="M65.6,292.7 L186.1,226.6 Q242.2,195.9 252.1,181.8 Q256.1,180.7 262.1,180.7" stroke="#36afe1" stroke-width="1.3"/>
<path d="M65.6,294.0 L186.8,226.9 Q242.5,196.0 252.7,181.8 Q256.7,180.7 262.7,180.7" stroke="#35a8e8" stroke-width="1.3"/>
<path d="M65.6,295.4 L187.4,227.1 Q243.0,196.0 253.4,181.9 Q257.4,180.7 263.4,180.7" stroke="#37b7d9" stroke-width="1.3"/>
<path d="M65.6,296.7 L188.1,227.3 Q243.4,196.0 254.1,182.0 Q258.1,180.7 264.1,180.7" stroke="#2e76e6" stroke-width="1.3"/>
<path d="M65.6,298.0 L188.7,227.5 Q243.8,196.0 254.8,182.1 Q258.8,180.7 264.8,180.7" stroke="#2e76e6" stroke-width="1.3"/>
<path d="M65.6,299.4 L189.4,227.8 Q244.2,196.0 255.4,182.2 Q259.4,180.7 265.4,180.7" stroke="#37bad6" stroke-width="1.3"/>
<path d="M65.6,300.7 L190.0,228.0 Q244.7,196.0 256.1,182.3 Q260.1,180.7 266.1,180.7" stroke="#2e76e6" stroke-width="1.3"/>
<path d="M65.6,302.0 L190.6,228.2 Q245.1,196.1 256.8,182.3 Q260.8,180.7 266.8,180.7" stroke="#37b7d9" stroke-width="1.3"/>
<path d="M65.6,303.3 L191.3,228.4 Q245.6,196.1 257.5,182.4 Q261.5,180.7 267.5,180.7" stroke="#37bcd4" stroke-width="1.3"/>
<path d="M65.6,304.7 L191.9,228.7 Q246.1,196.1 258.1,182.5 Q262.1,180.7 268.1,180.7" stroke="#34a2e8" stroke-width="1.3"/>
<path d="M65.6,306.0 L192.6,228.9 Q246.6,196.1 258.8,182.6 Q262.8,180.7 268.8,180.7" stroke="#36b2de" stroke-width="1.3"/>
<path d="M65.6,307.3 L193.2,229.1 Q247.1,196.1 259.5,182.7 Q263.5,180.7 269.5,180.7" stroke="#37b6da" stroke-width="1.3"/>
<path d="M65.6,308.7 L193.9,229.3 Q247.6,196.1 260.2,182.8 Q264.2,180.7 270.2,180.7" stroke="#37bad6" stroke-width="1.3"/>
<path d="M65.6,310.0 L194.5,229.6 Q248.1,196.2 260.8,182.8 Q264.8,180.7 270.8,180.7" stroke="#37b5db" stroke-width="1.3"/>
<path d="M65.6,311.3 L195.2,229.8 Q248.6,196.2 261.5,182.9 Q265.5,180.7 271.5,180.7" stroke="#36ade3" stroke-width="1.3"/>
<path d="M65.6,312.7 L195.8,230.0 Q249.1,196.2 262.2,183.0 Q266.2,180.7 272.2,180.7" stroke="#37b9d7" stroke-width="1.3"/>
<path d="M65.6,314.0 L196.4,230.2 Q249.6,196.2 262.9,183.1 Q266.9,180.7 272.9,180.7" stroke="#37b9d7" stroke-width="1.3"/>
<path d="M65.6,315.3 L197.1,230.5 Q250.2,196.2 263.5,183.2 Q267.5,180.7 273.5,180.7" stroke="#35a9e7" stroke-width="1.3"/>
<path d="M65.6,316.7 L197.7,230.7 Q250.7,196.2 264.2,183.3 Q268.2,180.7 274.2,180.7" stroke="#2e76e6" stroke-width="1.3"/>
<path d="M65.6,318.0 L198.4,230.9 Q251.3,196.3 264.9,183.3 Q268.9,180.7 274.9,180.7" stroke="#37b7d9" stroke-width="1.3"/>
<path d="M65.6,319.3 L199.0,231.1 Q251.8,196.3 265.6,183.4 Q269.6,180.7 275.6,180.7" stroke="#35abe5" stroke-width="1.3"/>
<path d="M65.6,320.7 L199.7,231.4 Q252.4,196.3 266.2,183.5 Q270.2,180.7 276.2,180.7" stroke="#38bfd1" stroke-width="1.3"/>
<path d="M65.6,322.0 L200.3,231.6 Q252.9,196.3 266.9,183.6 Q270.9,180.7 276.9,180.7" stroke="#36b3dd" stroke-width="1.3"/>
<path d="M65.6,339.9 L191.7,235.2 Q240.4,194.7 253.5,180.4" stroke="#41dc9c" stroke-width="0.85"/>
<path d="M65.6,337.3 L191.4,234.7 Q240.4,194.7 252.8,180.4" stroke="#42dc9a" stroke-width="0.85"/>
<path d="M65.6,336.0 L191.3,234.4 Q240.4,194.7 252.4,180.4" stroke="#52df6e" stroke-width="0.85"/>
<path d="M65.6,353.1 L193.2,237.8 Q240.9,194.7 257.0,180.4" stroke="#42dc9b" stroke-width="0.85"/>
<path d="M65.6,328.1 L190.4,232.8 Q240.3,194.7 250.3,180.4" stroke="#46dd8e" stroke-width="0.85"/>
<path d="M65.6,333.4 L191.0,233.9 Q240.3,194.7 251.7,180.4" stroke="#4bdf7f" stroke-width="0.85"/>
<path d="M65.6,343.9 L192.1,236.0 Q240.5,194.7 254.5,180.4" stroke="#53df6e" stroke-width="0.85"/>
<path d="M65.6,350.4 L192.9,237.3 Q240.8,194.7 256.3,180.4" stroke="#58de6a" stroke-width="0.85"/>
<path d="M65.6,326.8 L190.2,232.6 Q240.3,194.7 250.0,180.4" stroke="#43dd98" stroke-width="0.85"/>
<path d="M65.6,338.6 L191.6,234.9 Q240.4,194.7 253.1,180.4" stroke="#3ed4ad" stroke-width="0.85"/>
<path d="M65.6,332.1 L190.8,233.6 Q240.3,194.7 251.4,180.4" stroke="#4ddf78" stroke-width="0.85"/>
<path d="M65.6,330.7 L190.7,233.3 Q240.3,194.7 251.0,180.4" stroke="#45dd92" stroke-width="0.85"/>
<path d="M65.6,355.7 L193.5,238.3 Q241.0,194.7 257.7,180.4" stroke="#52df6e" stroke-width="0.85"/>
<path d="M65.6,345.2 L192.3,236.2 Q240.6,194.7 254.9,180.4" stroke="#5add68" stroke-width="0.85"/>
<path d="M65.6,347.8 L192.6,236.8 Q240.7,194.7 255.6,180.4" stroke="#55df6c" stroke-width="0.85"/>
<path d="M65.6,334.7 L191.1,234.1 Q240.3,194.7 252.1,180.4" stroke="#5bdd68" stroke-width="0.85"/>
<path d="M65.6,342.6 L192.0,235.7 Q240.5,194.7 254.2,180.4" stroke="#4adf81" stroke-width="0.85"/>
<path d="M65.6,357.0 L193.6,238.6 Q241.1,194.7 258.0,180.4" stroke="#4ddf78" stroke-width="0.85"/>
<path d="M65.6,351.7 L193.0,237.5 Q240.8,194.7 256.6,180.4" stroke="#4adf82" stroke-width="0.85"/>
<path d="M65.6,354.4 L193.3,238.1 Q240.9,194.7 257.3,180.4" stroke="#57de6b" stroke-width="0.85"/>
<path d="M65.6,329.4 L190.5,233.1 Q240.3,194.7 250.7,180.4" stroke="#5add68" stroke-width="0.85"/>
<path d="M65.6,349.1 L192.7,237.0 Q240.7,194.7 255.9,180.4" stroke="#53df6e" stroke-width="0.85"/>
<path d="M65.6,341.2 L191.8,235.4 Q240.5,194.7 253.8,180.4" stroke="#46dd8f" stroke-width="0.85"/>
<path d="M65.6,346.5 L192.4,236.5 Q240.6,194.7 255.2,180.4" stroke="#3ed6ab" stroke-width="0.85"/>
<path d="M65.6,313.0 L172.3,229.8 Q217.3,194.7 236.0,180.4" stroke="#90d040" stroke-width="1.3"/>
<path d="M65.6,313.2 L173.0,229.8 Q218.3,194.7 236.5,180.4" stroke="#95cd3e" stroke-width="1.3"/>
<path d="M65.6,313.5 L173.8,229.9 Q219.3,194.7 237.1,180.4" stroke="#99ca3d" stroke-width="1.3"/>
<path d="M65.6,313.7 L174.5,229.9 Q220.3,194.7 237.6,180.4" stroke="#9ec73b" stroke-width="1.3"/>
<path d="M65.6,313.9 L175.2,230.0 Q221.3,194.7 238.2,180.4" stroke="#a3c43a" stroke-width="1.3"/>
<path d="M65.6,314.1 L176.0,230.0 Q222.3,194.7 238.7,180.4" stroke="#a7c038" stroke-width="1.3"/>
<path d="M65.6,314.4 L176.7,230.1 Q223.3,194.7 239.3,180.4" stroke="#acbd37" stroke-width="1.3"/>
<path d="M65.6,314.6 L177.4,230.1 Q224.3,194.7 239.8,180.4" stroke="#b1ba35" stroke-width="1.3"/>
<path d="M65.6,314.8 L178.1,230.2 Q225.3,194.7 240.4,180.4" stroke="#b5b734" stroke-width="1.3"/>
<path d="M65.6,315.0 L178.9,230.2 Q226.3,194.7 240.9,180.4" stroke="#bab432" stroke-width="1.3"/>
<path d="M65.6,315.3 L179.6,230.3 Q227.3,194.7 241.5,180.4" stroke="#bfb130" stroke-width="1.3"/>
<path d="M65.6,315.5 L180.3,230.3 Q228.3,194.7 242.0,180.4" stroke="#c3af2e" stroke-width="1.3"/>
<path d="M65.6,314.2 L183.4,230.0 Q232.9,194.7 242.2,180.4" stroke="#e9a418" stroke-width="1.1"/>
<path d="M65.6,315.0 L184.1,230.2 Q233.7,194.7 243.5,180.4" stroke="#eda215" stroke-width="1.1"/>
<path d="M65.6,315.8 L184.8,230.3 Q234.6,194.7 244.9,180.4" stroke="#f2a112" stroke-width="1.1"/>
<path d="M65.6,316.5 L185.5,230.5 Q235.4,194.7 246.2,180.4" stroke="#f5a110" stroke-width="1.1"/>
<path d="M65.6,317.3 L186.2,230.7 Q236.2,194.7 247.6,180.4" stroke="#f4a610" stroke-width="1.1"/>
<path d="M65.6,318.1 L186.8,230.8 Q237.0,194.7 248.9,180.4" stroke="#f4aa10" stroke-width="1.1"/>
<path d="M65.6,318.8 L187.5,231.0 Q237.8,194.7 250.3,180.4" stroke="#f3af10" stroke-width="1.1"/>
<path d="M65.6,319.6 L188.2,231.1 Q238.7,194.7 251.7,180.4" stroke="#f3b310" stroke-width="1.1"/>
<path d="M65.6,320.4 L188.9,231.3 Q239.5,194.7 253.0,180.4" stroke="#f2b810" stroke-width="1.1"/>
<path d="M65.6,320.4 L188.9,231.3 Q239.5,194.7 253.0,180.4" stroke="#f0d410" stroke-width="1.1"/>
<path d="M65.6,321.1 L189.0,231.4 Q239.6,194.7 253.3,180.4" stroke="#f0d710" stroke-width="1.1"/>
<path d="M65.6,321.8 L189.2,231.6 Q239.7,194.7 253.6,180.4" stroke="#f0da10" stroke-width="1.1"/>
<path d="M65.6,322.5 L189.3,231.7 Q239.8,194.7 253.8,180.4" stroke="#f0dd10" stroke-width="1.1"/>
<path d="M65.6,323.2 L189.5,231.8 Q239.9,194.7 254.1,180.4" stroke="#f0e010" stroke-width="1.1"/>
<path d="M65.6,323.8 L189.6,232.0 Q239.9,194.7 254.4,180.4" stroke="#f0e410" stroke-width="1.1"/>
<path d="M65.6,324.5 L189.8,232.1 Q240.0,194.7 254.7,180.4" stroke="#f0e710" stroke-width="1.1"/>
<path d="M65.6,325.2 L189.9,232.2 Q240.1,194.7 254.9,180.4" stroke="#f0ea10" stroke-width="1.1"/>
<path d="M65.6,325.9 L190.1,232.4 Q240.2,194.7 255.2,180.4" stroke="#f0ed10" stroke-width="1.1"/>
<path d="M65.6,326.6 L190.2,232.5 Q240.3,194.7 255.5,180.4" stroke="#f0f010" stroke-width="1.1"/>
<path d="M241,180.7 H281.5" stroke="#2a5ae8" stroke-width="1"/>
</g>
<rect x="65.6" y="180.2" width="215.9" height="176.8" fill="none" stroke="#3a3a3a" stroke-width="0.9"/>
<text x="65.6" y="376" font-size="10.4" fill="#231f20" stroke="#231f20" stroke-width="0.18" text-anchor="middle" font-weight="normal" >0</text>
<text x="97.6" y="376" font-size="10.4" fill="#231f20" stroke="#231f20" stroke-width="0.18" text-anchor="middle" font-weight="normal" >0.1</text>
<text x="129.6" y="376" font-size="10.4" fill="#231f20" stroke="#231f20" stroke-width="0.18" text-anchor="middle" font-weight="normal" >0.2</text>
<text x="161.6" y="376" font-size="10.4" fill="#231f20" stroke="#231f20" stroke-width="0.18" text-anchor="middle" font-weight="normal" >0.3</text>
<text x="193.6" y="376" font-size="10.4" fill="#231f20" stroke="#231f20" stroke-width="0.18" text-anchor="middle" font-weight="normal" >0.4</text>
<text x="225.6" y="376" font-size="10.4" fill="#231f20" stroke="#231f20" stroke-width="0.18" text-anchor="middle" font-weight="normal" >0.5</text>
<text x="257.6" y="376" font-size="10.4" fill="#231f20" stroke="#231f20" stroke-width="0.18" text-anchor="middle" font-weight="normal" >0.6</text>
<text x="61" y="183.89999999999998" font-size="10.4" fill="#231f20" stroke="#231f20" stroke-width="0.18" text-anchor="end" font-weight="normal" >0</text>
<text x="61" y="232.89999999999998" font-size="10.4" fill="#231f20" stroke="#231f20" stroke-width="0.18" text-anchor="end" font-weight="normal" >-0.05</text>
<text x="61" y="281.9" font-size="10.4" fill="#231f20" stroke="#231f20" stroke-width="0.18" text-anchor="end" font-weight="normal" >-0.1</text>
<text x="61" y="330.9" font-size="10.4" fill="#231f20" stroke="#231f20" stroke-width="0.18" text-anchor="end" font-weight="normal" >-0.15</text>
<path d="M65.60,357.0 V355.0 M65.60,180.2 V182.2 M97.60,357.0 V355.0 M97.60,180.2 V182.2 M129.60,357.0 V355.0 M129.60,180.2 V182.2 M161.60,357.0 V355.0 M161.60,180.2 V182.2 M193.60,357.0 V355.0 M193.60,180.2 V182.2 M225.60,357.0 V355.0 M225.60,180.2 V182.2 M257.60,357.0 V355.0 M257.60,180.2 V182.2 M65.6,180.20 H67.6 M281.5,180.20 H279.5 M65.6,229.20 H67.6 M281.5,229.20 H279.5 M65.6,278.20 H67.6 M281.5,278.20 H279.5 M65.6,327.20 H67.6 M281.5,327.20 H279.5 " stroke="#3a3a3a" stroke-width="0.8"/>
<text x="181.8" y="391" font-size="10.4" fill="#231f20" stroke="#231f20" stroke-width="0.18" text-anchor="middle" font-weight="normal" >Voltage (V)</text>
<text x="0" y="0" font-size="10.4" fill="#231f20" stroke="#231f20" stroke-width="0.18" text-anchor="middle" font-weight="normal" transform="translate(29.2,269) rotate(-90)" textLength="121.5" lengthAdjust="spacingAndGlyphs">Current Density (mA/cm<tspan font-size="6.5" dy="-3.5">2</tspan><tspan dy="3.5">)</tspan></text>
<defs><linearGradient id="cb" x1="0" y1="1" x2="0" y2="0"><stop offset="0.0" stop-color="#0008e8"/><stop offset="0.04" stop-color="#1020e0"/><stop offset="0.14" stop-color="#2858e0"/><stop offset="0.245" stop-color="#3080e8"/><stop offset="0.34" stop-color="#35a8e8"/><stop offset="0.4" stop-color="#38c0d0"/><stop offset="0.51" stop-color="#40dca0"/><stop offset="0.59" stop-color="#50e070"/><stop offset="0.68" stop-color="#90d040"/><stop offset="0.755" stop-color="#c0b030"/><stop offset="0.84" stop-color="#f5a010"/><stop offset="0.92" stop-color="#f0d010"/><stop offset="1.0" stop-color="#f0f010"/></linearGradient></defs>
<rect x="290.4" y="180.4" width="13.4" height="176.6" fill="url(#cb)" stroke="#333" stroke-width="0.6"/>
<path d="M303.8,180.4 H306 M303.8,268.7 H306 M303.8,357 H306" stroke="#333" stroke-width="0.6"/>
<text x="310.9" y="184.6" font-size="10.4" fill="#231f20" stroke="#231f20" stroke-width="0.18" text-anchor="start" font-weight="normal" >189</text>
<text x="310.9" y="273" font-size="10.4" fill="#231f20" stroke="#231f20" stroke-width="0.18" text-anchor="start" font-weight="normal" >95</text>
<text x="310.9" y="361.8" font-size="10.4" fill="#231f20" stroke="#231f20" stroke-width="0.18" text-anchor="start" font-weight="normal" >3</text>
<text x="0" y="0" font-size="10.4" fill="#231f20" stroke="#231f20" stroke-width="0.18" text-anchor="middle" font-weight="normal" transform="translate(333.2,269) rotate(90)">Time (min)</text>
<rect x="643.2" y="180" width="12" height="177.6" fill="url(#cb)" stroke="#333" stroke-width="0.6"/>
<path d="M655.2,180 H657.5 M655.2,268.8 H657.5 M655.2,357.6 H657.5" stroke="#333" stroke-width="0.6"/>
<text x="662" y="184.4" font-size="10.4" fill="#231f20" stroke="#231f20" stroke-width="0.18" text-anchor="start" font-weight="normal" >189</text>
<text x="662" y="273.4" font-size="10.4" fill="#231f20" stroke="#231f20" stroke-width="0.18" text-anchor="start" font-weight="normal" >96</text>
<text x="662.6" y="362" font-size="10.4" fill="#231f20" stroke="#231f20" stroke-width="0.18" text-anchor="start" font-weight="normal" >3</text>
<text x="0" y="0" font-size="10.4" fill="#231f20" stroke="#231f20" stroke-width="0.18" text-anchor="middle" font-weight="normal" transform="translate(684.8,269) rotate(90)">Time (min)</text>
<defs><linearGradient id="gm" x1="0" y1="0" x2="0" y2="1"><stop offset="0" stop-color="#48e088"/><stop offset="0.6" stop-color="#40d8b0"/><stop offset="1" stop-color="#38c0d8"/></linearGradient><linearGradient id="g90" x1="0" y1="0" x2="0" y2="1"><stop offset="0" stop-color="#f0e020"/><stop offset="0.3" stop-color="#c8d048"/><stop offset="0.6" stop-color="#58e090"/><stop offset="1" stop-color="#40c8d0"/></linearGradient></defs>
<clipPath id="ce"><rect x="417.8" y="170" width="220" height="187.2"/></clipPath>
<g clip-path="url(#ce)">
<path d="M418,356.6 H634" stroke="#d8e030" stroke-width="1.2"/>
<path d="M516.2,357.2 L516.8,352.5 L517.5,347.9 L518.1,343.4 L518.7,304.9 L519.3,270.3 L520.0,250.5 L520.6,230.2 L521.2,219.7 L521.9,210.5 L522.5,202.1 L523.1,192.5 L523.7,184.7 L524.4,183.2 L525.0,192.3 L525.6,198.3 L526.2,200.3 L526.9,204.5 L527.5,204.6 L528.1,206.9 L528.8,207.5 L529.4,215.8 L530.0,222.1 L530.6,219.6 L531.3,225.5 L531.9,229.1 L532.5,228.3 L533.2,229.4 L533.8,234.5 L534.4,238.2 L535.0,245.4 L535.7,252.6 L536.3,263.7 L536.9,272.7 L537.6,284.9 L538.2,301.2 L538.8,314.4 L539.4,326.1 L540.1,336.7 L540.7,340.0 L541.3,344.0 L541.9,347.4 L542.6,349.0 L543.2,350.0 L543.8,351.0 L544.5,352.1 L545.1,353.1 L545.7,354.0 L546.3,354.6 L547.0,355.3 L547.6,355.9 L548.2,356.5 L548.9,357.2 Z" fill="url(#gm)"/>
<path d="M528.5,357.2 L529.3,271.4 L530.2,226.5 L531.0,228.3 L531.8,230.3 L532.6,232.9 L533.5,235.4 L534.3,241.2 L535.1,249.2 L536.0,260.6 L536.8,272.8 L537.6,291.7 L538.5,311.3 L539.3,326.9 L540.1,340.1 L540.9,343.6 L541.8,347.1 L542.6,350.6 L543.4,352.5 L544.3,353.4 L545.1,354.4 L545.9,355.3 L546.8,356.3 L547.6,357.2 Z" fill="#40b8e0" opacity="0.85"/>
<path d="M515.8,357.2 L516.6,349.5 L517.4,341.8 L518.3,296.1 L519.1,251.4 L519.9,231.7 L520.7,224.2 L521.6,220.8 L522.4,221.9 L523.2,226.3 L524.1,231.5 L524.9,235.9 L525.7,240.1 L526.5,243.7 L527.4,245.1 L528.2,246.5 L529.0,248.5 L529.8,250.8 L530.7,253.1 L531.5,256.7 L532.3,261.3 L533.2,265.9 L534.0,271.1 L534.8,276.9 L535.6,282.7 L536.5,291.3 L537.3,304.3 L538.1,317.3 L538.9,330.3 L539.8,340.5 L540.6,343.9 L541.4,347.4 L542.3,350.3 L543.1,351.4 L543.9,352.4 L544.7,353.4 L545.6,354.5 L546.4,355.5 L547.2,355.9 L548.0,356.3 L548.9,356.8 L549.7,357.2" fill="none" stroke="#f0a818" stroke-width="1.6"/>
<path d="M515.8,357.2 L516.6,349.7 L517.4,342.3 L518.3,298.0 L519.1,254.5 L519.9,235.5 L520.7,228.2 L521.6,224.9 L522.4,226.0 L523.2,230.2 L524.1,235.3 L524.9,239.6 L525.7,243.6 L526.5,247.1 L527.4,248.5 L528.2,249.8 L529.0,251.7 L529.8,254.0 L530.7,256.2 L531.5,259.7 L532.3,264.2 L533.2,268.7 L534.0,273.7 L534.8,279.3 L535.6,284.9 L536.5,293.3 L537.3,305.9 L538.1,318.5 L538.9,331.1 L539.8,341.0 L540.6,344.3 L541.4,347.7 L542.3,350.5 L543.1,351.5 L543.9,352.6 L544.7,353.6 L545.6,354.6 L546.4,355.5 L547.2,355.9 L548.0,356.4 L548.9,356.8 L549.7,357.2" fill="none" stroke="#f4f010" stroke-width="1.6"/>
<path d="M471.7,357.2 L472.5,356.3 L473.3,355.5 L474.2,354.6 L475.0,353.8 L475.8,352.1 L476.6,350.4 L477.4,348.7 L478.3,346.5 L479.1,344.2 L479.9,341.9 L480.7,340.5 L481.6,339.6 L482.4,338.6 L483.2,338.1 L484.0,337.9 L484.8,337.7 L485.7,338.1 L486.5,338.9 L487.3,339.8 L488.1,341.1 L489.0,343.1 L489.8,345.2 L490.6,347.2 L491.4,349.2 L492.2,351.2 L493.1,353.0 L493.9,354.2 L494.7,355.3 L495.5,356.3 L496.4,356.6 L497.2,356.8 L498.0,357.0 L498.8,357.2 Z" fill="url(#g90)" stroke="#f0e818" stroke-width="1.3"/>
<path d="M471.7,357.2 L472.5,356.5 L473.3,355.8 L474.2,355.1 L475.0,354.4 L475.8,353.2 L476.6,351.8 L477.4,350.4 L478.3,348.7 L479.1,346.8 L479.9,345.0 L480.7,343.9 L481.6,343.1 L482.4,342.3 L483.2,341.9 L484.0,341.8 L484.8,341.6 L485.7,341.9 L486.5,342.6 L487.3,343.3 L488.1,344.3 L489.0,346.0 L489.8,347.6 L490.6,349.2 L491.4,350.8 L492.2,352.4 L493.1,353.8 L493.9,354.8 L494.7,355.7 L495.5,356.5 L496.4,356.7 L497.2,356.9 L498.0,357.0 L498.8,357.2" fill="none" stroke="#f0a018" stroke-width="0.8"/>
<path d="M426.7,357.2 L427.4,353.9 L428.0,350.7 L428.6,347.3 L429.2,344.0 L429.9,341.0 L430.5,337.2 L431.1,333.4 L431.7,329.6 L432.4,325.2 L433.0,323.1 L433.6,321.8 L434.2,320.7 L434.8,319.8 L435.5,322.6 L436.1,325.4 L436.7,327.3 L437.3,328.3 L438.0,328.6 L438.6,329.4 L439.2,331.6 L439.8,333.5 L440.5,335.2 L441.1,337.0 L441.7,338.6 L442.3,340.5 L443.0,342.4 L443.6,344.5 L444.2,346.4 L444.8,348.6 L445.4,350.8 L446.1,353.0 L446.7,354.6 L447.3,355.9 L447.9,357.2 Z" fill="#1e42e0" stroke="#f0f4ff" stroke-width="0.45" stroke-opacity="0.8"/>
<path d="M427.0,357.2 L427.6,354.0 L428.2,350.8 L428.9,347.8 L429.5,344.9 L430.1,341.6 L430.8,337.8 L431.4,334.9 L432.0,330.9 L432.6,327.4 L433.3,326.0 L433.9,324.3 L434.5,324.0 L435.1,324.4 L435.8,327.0 L436.4,328.6 L437.0,330.7 L437.7,330.3 L438.3,331.9 L438.9,333.4 L439.5,333.8 L440.2,336.5 L440.8,337.4 L441.4,339.3 L442.0,341.1 L442.7,343.5 L443.3,345.0 L443.9,347.2 L444.6,348.8 L445.2,351.0 L445.8,353.1 L446.4,354.7 L447.1,356.0 L447.7,357.2 Z" fill="#224ae0" stroke="#f0f4ff" stroke-width="0.45" stroke-opacity="0.8"/>
<path d="M427.2,357.2 L427.9,354.3 L428.5,351.3 L429.1,348.6 L429.8,345.6 L430.4,342.9 L431.0,338.8 L431.7,335.5 L432.3,332.6 L432.9,328.0 L433.5,328.1 L434.2,326.9 L434.8,326.4 L435.4,328.0 L436.1,329.4 L436.7,332.1 L437.3,333.0 L438.0,333.3 L438.6,334.3 L439.2,335.1 L439.9,337.8 L440.5,338.4 L441.1,341.1 L441.8,342.0 L442.4,343.9 L443.0,345.9 L443.7,347.5 L444.3,349.5 L444.9,351.5 L445.6,353.4 L446.2,354.9 L446.8,356.0 L447.5,357.2 Z" fill="#2653e0" stroke="#f0f4ff" stroke-width="0.45" stroke-opacity="0.8"/>
<path d="M427.5,357.2 L428.1,354.5 L428.7,351.7 L429.3,349.4 L429.9,346.7 L430.6,343.5 L431.2,341.1 L431.8,337.2 L432.4,334.6 L433.0,330.4 L433.6,331.1 L434.3,329.0 L434.9,328.9 L435.5,330.9 L436.1,333.2 L436.7,333.7 L437.3,334.7 L438.0,335.8 L438.6,336.2 L439.2,337.1 L439.8,339.4 L440.4,340.5 L441.0,342.5 L441.7,343.9 L442.3,345.0 L442.9,346.6 L443.5,348.5 L444.1,350.3 L444.7,352.0 L445.4,353.7 L446.0,355.1 L446.6,356.1 L447.2,357.2 Z" fill="#285ae0" stroke="#f0f4ff" stroke-width="0.45" stroke-opacity="0.8"/>
<path d="M427.7,357.2 L428.3,354.7 L429.0,352.2 L429.6,349.6 L430.2,347.2 L430.8,345.0 L431.4,342.2 L432.1,338.6 L432.7,336.0 L433.3,333.3 L433.9,333.4 L434.5,331.5 L435.2,332.1 L435.8,333.3 L436.4,335.3 L437.0,336.7 L437.7,337.9 L438.3,337.4 L438.9,339.0 L439.5,340.0 L440.1,342.0 L440.8,343.5 L441.4,344.4 L442.0,346.1 L442.6,347.7 L443.2,349.0 L443.9,350.5 L444.5,352.4 L445.1,353.9 L445.7,355.2 L446.3,356.2 L447.0,357.2 Z" fill="#2a60e2" stroke="#f0f4ff" stroke-width="0.45" stroke-opacity="0.8"/>
<path d="M428.0,357.2 L428.6,355.0 L429.2,352.6 L429.8,350.2 L430.5,347.9 L431.1,345.8 L431.7,342.8 L432.3,340.4 L433.0,337.2 L433.6,336.5 L434.2,334.8 L434.8,333.9 L435.5,335.3 L436.1,337.1 L436.7,338.7 L437.3,339.2 L438.0,340.3 L438.6,340.0 L439.2,342.0 L439.8,343.3 L440.5,344.6 L441.1,345.8 L441.7,346.7 L442.3,348.5 L443.0,349.7 L443.6,351.0 L444.2,352.7 L444.8,354.2 L445.5,355.4 L446.1,356.3 L446.7,357.2 Z" fill="#2b66e3" stroke="#f0f4ff" stroke-width="0.45" stroke-opacity="0.8"/>
<path d="M428.2,357.2 L428.8,355.1 L429.5,353.2 L430.1,350.9 L430.7,348.8 L431.4,347.0 L432.0,344.6 L432.6,341.8 L433.2,339.3 L433.9,338.7 L434.5,338.2 L435.1,337.2 L435.8,339.1 L436.4,340.3 L437.0,340.9 L437.7,342.1 L438.3,342.2 L438.9,343.0 L439.5,344.7 L440.2,345.3 L440.8,346.5 L441.4,348.0 L442.1,349.1 L442.7,350.1 L443.3,351.6 L444.0,353.0 L444.6,354.3 L445.2,355.5 L445.8,356.4 L446.5,357.2 Z" fill="#2c6ce4" stroke="#f0f4ff" stroke-width="0.45" stroke-opacity="0.8"/>
<path d="M428.5,357.2 L429.1,355.4 L429.7,353.6 L430.4,351.7 L431.0,349.7 L431.6,347.7 L432.3,345.4 L432.9,343.2 L433.5,341.2 L434.2,341.4 L434.8,340.3 L435.4,340.0 L436.1,341.6 L436.7,343.5 L437.3,343.8 L438.0,344.1 L438.6,344.9 L439.2,345.8 L439.9,347.1 L440.5,347.9 L441.1,348.9 L441.8,350.2 L442.4,351.2 L443.1,352.1 L443.7,353.3 L444.3,354.6 L445.0,355.7 L445.6,356.5 L446.2,357.2 Z" fill="#2d72e5" stroke="#f0f4ff" stroke-width="0.45" stroke-opacity="0.8"/>
<path d="M428.7,357.2 L429.3,355.6 L429.9,354.1 L430.5,352.8 L431.2,351.0 L431.8,349.5 L432.4,347.5 L433.0,345.9 L433.6,344.1 L434.3,343.3 L434.9,343.1 L435.5,343.5 L436.1,344.5 L436.7,345.7 L437.3,345.7 L438.0,346.5 L438.6,347.0 L439.2,347.7 L439.8,348.8 L440.4,349.4 L441.0,350.1 L441.7,351.2 L442.3,352.1 L442.9,353.0 L443.5,354.0 L444.1,355.1 L444.7,356.0 L445.4,356.6 L446.0,357.2 Z" fill="#2e78e6" stroke="#f0f4ff" stroke-width="0.45" stroke-opacity="0.8"/>
<path d="M428.9,357.2 L429.6,355.9 L430.2,354.7 L430.8,353.5 L431.4,352.3 L432.1,350.7 L432.7,349.0 L433.3,347.6 L433.9,346.6 L434.5,346.1 L435.2,346.0 L435.8,346.3 L436.4,347.5 L437.0,348.1 L437.7,348.3 L438.3,348.7 L438.9,349.4 L439.5,350.2 L440.1,350.9 L440.8,351.5 L441.4,352.3 L442.0,352.9 L442.6,353.8 L443.3,354.6 L443.9,355.4 L444.5,356.2 L445.1,356.7 L445.7,357.2 Z" fill="#307ee8" stroke="#f0f4ff" stroke-width="0.45" stroke-opacity="0.8"/>
<path d="M429.2,357.2 L429.8,356.2 L430.4,355.3 L431.1,354.2 L431.7,353.3 L432.3,352.0 L432.9,351.1 L433.6,349.9 L434.2,349.0 L434.8,348.9 L435.5,348.9 L436.1,349.5 L436.7,350.3 L437.3,350.4 L438.0,350.9 L438.6,351.2 L439.2,351.5 L439.8,352.1 L440.5,352.8 L441.1,353.4 L441.7,353.9 L442.4,354.4 L443.0,355.1 L443.6,355.7 L444.2,356.4 L444.9,356.8 L445.5,357.2 Z" fill="#3084e8" stroke="#f0f4ff" stroke-width="0.45" stroke-opacity="0.8"/>
<path d="M429.4,357.2 L430.1,356.5 L430.7,355.8 L431.3,355.1 L432.0,354.5 L432.6,353.6 L433.2,352.8 L433.9,351.9 L434.5,351.9 L435.1,351.4 L435.8,351.9 L436.4,352.2 L437.0,352.6 L437.7,352.8 L438.3,352.8 L438.9,353.3 L439.6,353.7 L440.2,354.1 L440.8,354.4 L441.5,354.9 L442.1,355.3 L442.7,355.7 L443.4,356.2 L444.0,356.6 L444.6,356.9 L445.2,357.2 Z" fill="#318ae8" stroke="#f0f4ff" stroke-width="0.45" stroke-opacity="0.8"/>
<path d="M429.7,357.2 L430.3,356.9 L430.9,356.5 L431.5,356.2 L432.1,355.8 L432.7,355.4 L433.4,355.0 L434.0,354.6 L434.6,354.5 L435.2,354.4 L435.8,354.5 L436.4,354.8 L437.0,354.9 L437.6,355.0 L438.3,355.1 L438.9,355.2 L439.5,355.5 L440.1,355.6 L440.7,355.8 L441.3,356.0 L441.9,356.3 L442.6,356.5 L443.2,356.7 L443.8,356.9 L444.4,357.1 L445.0,357.2 Z" fill="#3291e8" stroke="#f0f4ff" stroke-width="0.45" stroke-opacity="0.8"/>
<path d="M429.9,357.2 L430.5,357.2 L431.2,357.2 L431.8,357.2 L432.4,357.2 L433.0,357.2 L433.6,357.2 L434.2,357.2 L434.9,357.2 L435.5,357.2 L436.1,357.2 L436.7,357.2 L437.3,357.2 L438.0,357.2 L438.6,357.2 L439.2,357.2 L439.8,357.2 L440.4,357.2 L441.1,357.2 L441.7,357.2 L442.3,357.2 L442.9,357.2 L443.5,357.2 L444.1,357.2 L444.8,357.2 Z" fill="#3397e8" stroke="#f0f4ff" stroke-width="0.45" stroke-opacity="0.8"/>
<path d="M454.7,357.2 L455.3,348.6 L456.0,340.0 L456.6,331.1 L457.2,322.5 L457.8,311.7 L458.4,299.8 L459.0,288.9 L459.7,280.6 L460.3,275.8 L460.9,271.7 L461.5,273.5 L462.1,277.6 L462.7,282.5 L463.4,285.6 L464.0,289.8 L464.6,293.6 L465.2,296.0 L465.8,297.6 L466.4,299.8 L467.1,302.2 L467.7,304.8 L468.3,308.4 L468.9,312.9 L469.5,317.8 L470.1,323.0 L470.8,328.0 L471.4,333.1 L472.0,338.5 L472.6,343.6 L473.2,348.7 L473.8,352.1 L474.5,354.6 L475.1,357.2 Z" fill="#1e42e0" stroke="#f0f4ff" stroke-width="0.45" stroke-opacity="0.8"/>
<path d="M454.9,357.2 L455.5,348.6 L456.2,340.1 L456.8,332.1 L457.4,324.5 L458.0,311.7 L458.7,301.0 L459.3,289.4 L459.9,281.9 L460.5,277.8 L461.2,275.6 L461.8,281.2 L462.4,285.0 L463.0,288.2 L463.7,292.0 L464.3,296.9 L464.9,299.4 L465.5,299.7 L466.1,301.7 L466.8,305.0 L467.4,305.5 L468.0,309.8 L468.6,315.7 L469.3,319.1 L469.9,323.2 L470.5,329.1 L471.1,333.5 L471.8,339.4 L472.4,344.0 L473.0,348.7 L473.6,352.2 L474.3,354.7 L474.9,357.2 Z" fill="#2148e0" stroke="#f0f4ff" stroke-width="0.45" stroke-opacity="0.8"/>
<path d="M455.1,357.2 L455.7,349.3 L456.3,341.0 L457.0,332.8 L457.6,325.0 L458.2,313.4 L458.9,303.0 L459.5,290.5 L460.1,287.2 L460.8,283.7 L461.4,283.4 L462.0,287.4 L462.7,289.2 L463.3,295.5 L463.9,299.1 L464.6,302.1 L465.2,302.8 L465.9,303.6 L466.5,306.5 L467.1,308.4 L467.8,312.9 L468.4,317.1 L469.0,319.5 L469.7,325.0 L470.3,329.1 L470.9,334.5 L471.6,339.6 L472.2,344.2 L472.8,349.1 L473.5,352.2 L474.1,354.8 L474.7,357.2 Z" fill="#244fe0" stroke="#f0f4ff" stroke-width="0.45" stroke-opacity="0.8"/>
<path d="M455.3,357.2 L455.9,349.7 L456.5,342.1 L457.1,334.7 L457.7,327.5 L458.4,315.8 L459.0,306.5 L459.6,295.1 L460.2,292.4 L460.9,287.7 L461.5,287.8 L462.1,292.5 L462.7,293.0 L463.3,297.0 L464.0,302.2 L464.6,303.5 L465.2,305.5 L465.8,308.7 L466.5,309.9 L467.1,311.2 L467.7,314.7 L468.3,317.6 L468.9,323.1 L469.6,327.0 L470.2,331.0 L470.8,336.2 L471.4,340.6 L472.1,344.6 L472.7,349.5 L473.3,352.6 L473.9,355.0 L474.5,357.2 Z" fill="#2755e0" stroke="#f0f4ff" stroke-width="0.45" stroke-opacity="0.8"/>
<path d="M455.4,357.2 L456.1,350.1 L456.7,342.8 L457.3,335.9 L458.0,326.8 L458.6,318.6 L459.2,308.3 L459.9,301.0 L460.5,295.7 L461.1,292.5 L461.7,293.4 L462.4,298.4 L463.0,301.8 L463.6,302.8 L464.3,307.5 L464.9,310.0 L465.5,311.8 L466.2,313.2 L466.8,315.5 L467.4,318.1 L468.1,319.8 L468.7,324.3 L469.3,328.5 L469.9,331.9 L470.6,337.0 L471.2,341.1 L471.8,345.0 L472.5,349.8 L473.1,352.9 L473.7,355.0 L474.4,357.2 Z" fill="#295be1" stroke="#f0f4ff" stroke-width="0.45" stroke-opacity="0.8"/>
<path d="M455.6,357.2 L456.2,350.4 L456.9,344.1 L457.5,337.3 L458.1,329.5 L458.7,321.3 L459.3,311.0 L460.0,305.0 L460.6,299.0 L461.2,297.0 L461.8,298.9 L462.4,301.6 L463.0,306.1 L463.7,307.3 L464.3,311.6 L464.9,311.9 L465.5,314.3 L466.1,316.4 L466.8,318.7 L467.4,319.8 L468.0,323.6 L468.6,325.8 L469.2,330.7 L469.8,334.1 L470.5,338.1 L471.1,342.4 L471.7,346.0 L472.3,350.2 L472.9,353.1 L473.6,355.2 L474.2,357.2 Z" fill="#295fe1" stroke="#f0f4ff" stroke-width="0.45" stroke-opacity="0.8"/>
<path d="M455.8,357.2 L456.4,350.9 L457.1,344.6 L457.7,338.6 L458.3,331.6 L458.9,322.0 L459.6,314.8 L460.2,307.2 L460.8,305.6 L461.4,300.9 L462.1,304.4 L462.7,307.3 L463.3,311.0 L464.0,314.4 L464.6,316.4 L465.2,318.0 L465.8,319.7 L466.5,320.1 L467.1,322.9 L467.7,324.9 L468.4,327.4 L469.0,331.0 L469.6,334.6 L470.2,338.6 L470.9,343.1 L471.5,346.7 L472.1,350.6 L472.7,353.4 L473.4,355.3 L474.0,357.2 Z" fill="#2a64e2" stroke="#f0f4ff" stroke-width="0.45" stroke-opacity="0.8"/>
<path d="M456.0,357.2 L456.6,351.5 L457.2,345.7 L457.8,339.7 L458.4,333.2 L459.1,326.3 L459.7,317.4 L460.3,312.6 L460.9,308.8 L461.5,307.1 L462.1,309.9 L462.7,310.7 L463.4,314.1 L464.0,316.7 L464.6,320.7 L465.2,322.0 L465.8,323.0 L466.4,324.5 L467.1,326.0 L467.7,327.9 L468.3,331.5 L468.9,334.0 L469.5,337.0 L470.1,340.9 L470.7,343.8 L471.4,347.5 L472.0,350.9 L472.6,353.8 L473.2,355.5 L473.8,357.2 Z" fill="#2b68e3" stroke="#f0f4ff" stroke-width="0.45" stroke-opacity="0.8"/>
<path d="M456.2,357.2 L456.8,351.8 L457.4,346.5 L458.0,341.6 L458.7,334.4 L459.3,327.3 L459.9,321.1 L460.5,317.2 L461.2,312.3 L461.8,311.5 L462.4,315.8 L463.0,318.1 L463.7,320.8 L464.3,321.7 L464.9,324.6 L465.5,324.5 L466.1,326.1 L466.8,328.9 L467.4,329.5 L468.0,332.7 L468.6,335.0 L469.3,338.0 L469.9,341.8 L470.5,345.1 L471.1,347.8 L471.8,351.3 L472.4,353.9 L473.0,355.6 L473.6,357.2 Z" fill="#2c6de4" stroke="#f0f4ff" stroke-width="0.45" stroke-opacity="0.8"/>
<path d="M456.3,357.2 L457.0,352.1 L457.6,347.2 L458.2,342.4 L458.9,336.9 L459.5,329.5 L460.1,323.5 L460.8,319.9 L461.4,316.3 L462.0,318.6 L462.7,319.7 L463.3,323.7 L463.9,324.6 L464.6,326.6 L465.2,328.7 L465.9,329.3 L466.5,330.1 L467.1,332.1 L467.8,334.4 L468.4,337.3 L469.0,340.2 L469.7,342.8 L470.3,345.7 L470.9,348.8 L471.6,351.7 L472.2,354.3 L472.8,355.7 L473.5,357.2 Z" fill="#2d71e5" stroke="#f0f4ff" stroke-width="0.45" stroke-opacity="0.8"/>
<path d="M456.5,357.2 L457.1,352.9 L457.8,348.7 L458.4,344.2 L459.0,339.0 L459.6,332.6 L460.2,327.8 L460.9,325.0 L461.5,321.5 L462.1,323.4 L462.7,324.8 L463.3,327.4 L464.0,328.5 L464.6,330.8 L465.2,331.5 L465.8,333.4 L466.5,333.9 L467.1,335.3 L467.7,337.3 L468.3,339.3 L468.9,341.6 L469.6,344.8 L470.2,347.2 L470.8,349.8 L471.4,352.4 L472.0,354.7 L472.7,355.9 L473.3,357.2 Z" fill="#2e76e6" stroke="#f0f4ff" stroke-width="0.45" stroke-opacity="0.8"/>
<path d="M456.7,357.2 L457.3,353.4 L458.0,349.4 L458.6,345.7 L459.2,341.2 L459.9,336.0 L460.5,330.8 L461.1,329.0 L461.7,327.3 L462.4,329.0 L463.0,331.1 L463.6,331.3 L464.3,333.5 L464.9,335.6 L465.5,335.7 L466.2,336.4 L466.8,338.0 L467.4,339.9 L468.1,341.5 L468.7,343.6 L469.3,346.0 L469.9,348.1 L470.6,350.6 L471.2,352.6 L471.8,354.9 L472.5,356.0 L473.1,357.2 Z" fill="#2f7ae7" stroke="#f0f4ff" stroke-width="0.45" stroke-opacity="0.8"/>
<path d="M456.9,357.2 L457.5,354.0 L458.1,350.9 L458.7,347.7 L459.3,343.9 L460.0,339.8 L460.6,334.8 L461.2,333.0 L461.8,332.1 L462.4,333.5 L463.0,334.6 L463.7,335.8 L464.3,337.2 L464.9,339.1 L465.5,339.2 L466.1,340.0 L466.8,341.0 L467.4,342.5 L468.0,344.3 L468.6,345.6 L469.2,347.8 L469.8,349.7 L470.5,351.6 L471.1,353.5 L471.7,355.2 L472.3,356.3 L472.9,357.2 Z" fill="#307fe8" stroke="#f0f4ff" stroke-width="0.45" stroke-opacity="0.8"/>
<path d="M457.1,357.2 L457.7,354.5 L458.3,351.8 L458.9,349.0 L459.6,345.6 L460.2,341.9 L460.8,338.8 L461.4,337.9 L462.1,337.0 L462.7,338.8 L463.3,340.0 L464.0,340.9 L464.6,342.5 L465.2,342.6 L465.8,343.6 L466.5,344.2 L467.1,344.6 L467.7,346.5 L468.4,347.9 L469.0,349.3 L469.6,351.0 L470.2,352.4 L470.9,354.1 L471.5,355.6 L472.1,356.4 L472.7,357.2 Z" fill="#3083e8" stroke="#f0f4ff" stroke-width="0.45" stroke-opacity="0.8"/>
<path d="M457.2,357.2 L457.9,355.2 L458.5,353.2 L459.1,351.1 L459.7,348.6 L460.3,346.0 L460.9,343.9 L461.5,342.7 L462.1,341.9 L462.8,342.8 L463.4,343.8 L464.0,345.3 L464.6,346.1 L465.2,346.4 L465.8,346.8 L466.4,347.5 L467.0,348.2 L467.7,349.2 L468.3,350.1 L468.9,351.2 L469.5,352.3 L470.1,353.6 L470.7,354.8 L471.3,356.0 L471.9,356.6 L472.6,357.2 Z" fill="#3188e8" stroke="#f0f4ff" stroke-width="0.45" stroke-opacity="0.8"/>
<path d="M457.4,357.2 L458.0,355.8 L458.7,354.5 L459.3,353.0 L459.9,351.1 L460.5,349.4 L461.2,348.0 L461.8,347.1 L462.4,347.3 L463.0,348.0 L463.7,348.8 L464.3,349.4 L464.9,349.7 L465.5,350.3 L466.1,350.6 L466.8,350.9 L467.4,351.5 L468.0,352.4 L468.6,353.0 L469.3,353.9 L469.9,354.7 L470.5,355.5 L471.1,356.4 L471.8,356.8 L472.4,357.2 Z" fill="#328de8" stroke="#f0f4ff" stroke-width="0.45" stroke-opacity="0.8"/>
<path d="M457.6,357.2 L458.2,356.5 L458.9,355.8 L459.5,354.9 L460.1,354.0 L460.8,353.2 L461.4,352.4 L462.0,352.2 L462.7,352.5 L463.3,352.8 L463.9,353.2 L464.6,353.4 L465.2,353.6 L465.9,353.8 L466.5,354.0 L467.1,354.3 L467.8,354.6 L468.4,355.0 L469.0,355.5 L469.7,355.9 L470.3,356.3 L470.9,356.7 L471.6,357.0 L472.2,357.2 Z" fill="#3292e8" stroke="#f0f4ff" stroke-width="0.45" stroke-opacity="0.8"/>
<path d="M457.8,357.2 L458.4,357.2 L459.0,357.2 L459.6,357.2 L460.3,357.2 L460.9,357.2 L461.5,357.2 L462.1,357.2 L462.7,357.2 L463.4,357.2 L464.0,357.2 L464.6,357.2 L465.2,357.2 L465.8,357.2 L466.4,357.2 L467.1,357.2 L467.7,357.2 L468.3,357.2 L468.9,357.2 L469.5,357.2 L470.2,357.2 L470.8,357.2 L471.4,357.2 L472.0,357.2 Z" fill="#3397e8" stroke="#f0f4ff" stroke-width="0.45" stroke-opacity="0.8"/>
<path d="M516.6,357.2 L517.3,339.7 L517.9,322.1 L518.5,304.5 L519.1,272.6 L519.8,244.1 L520.4,237.7 L521.0,233.0 L521.6,227.7 L522.3,227.0 L522.9,232.8 L523.5,234.7 L524.1,232.1 L524.8,228.7 L525.4,231.7 L526.0,231.4 L526.6,235.2 L527.3,237.9 L527.9,240.7 L528.5,244.6 L529.1,244.6 L529.8,246.8 L530.4,248.7 L531.0,251.8 L531.6,256.3 L532.3,259.3 L532.9,263.8 L533.5,267.3 L534.2,271.8 L534.8,275.2 L535.4,280.2 L536.0,290.4 L536.7,298.9 L537.3,309.8 L537.9,321.2 L538.5,333.1 L539.2,339.8 L539.8,345.3 L540.4,350.2 L541.0,351.9 L541.7,353.7 L542.3,355.4 L542.9,357.2 Z" fill="#234de0" stroke="#f0f4ff" stroke-width="0.45" stroke-opacity="0.8"/>
<path d="M517.0,357.2 L517.6,341.1 L518.2,322.0 L518.8,308.2 L519.5,270.9 L520.1,242.8 L520.7,248.3 L521.3,227.2 L522.0,228.6 L522.6,237.0 L523.2,243.2 L523.8,239.9 L524.5,228.8 L525.1,232.4 L525.7,242.8 L526.3,245.8 L527.0,246.7 L527.6,236.9 L528.2,251.2 L528.8,246.9 L529.5,252.7 L530.1,247.2 L530.7,255.9 L531.3,263.4 L532.0,256.0 L532.6,265.0 L533.2,266.8 L533.8,269.3 L534.5,271.5 L535.1,287.1 L535.7,291.5 L536.3,302.1 L537.0,308.6 L537.6,318.1 L538.2,330.8 L538.8,341.1 L539.5,345.6 L540.1,349.8 L540.7,351.9 L541.3,353.8 L541.9,355.5 L542.6,357.2 Z" fill="#2552e0" stroke="#f0f4ff" stroke-width="0.45" stroke-opacity="0.8"/>
<path d="M517.3,357.2 L517.9,341.0 L518.6,321.0 L519.2,305.1 L519.8,266.1 L520.4,249.0 L521.1,251.7 L521.7,242.3 L522.3,241.1 L522.9,229.9 L523.5,240.9 L524.2,250.3 L524.8,244.8 L525.4,241.2 L526.0,240.4 L526.7,240.0 L527.3,246.5 L527.9,250.2 L528.5,259.1 L529.1,250.8 L529.8,256.1 L530.4,263.4 L531.0,260.1 L531.6,256.0 L532.3,273.7 L532.9,275.9 L533.5,272.6 L534.1,281.6 L534.8,285.3 L535.4,289.6 L536.0,300.9 L536.6,307.2 L537.2,319.2 L537.9,329.0 L538.5,338.2 L539.1,345.7 L539.7,349.8 L540.4,351.8 L541.0,353.6 L541.6,355.4 L542.2,357.2 Z" fill="#2858e0" stroke="#f0f4ff" stroke-width="0.45" stroke-opacity="0.8"/>
<path d="M517.7,357.2 L518.3,339.8 L518.9,322.5 L519.5,304.8 L520.1,274.0 L520.8,248.9 L521.4,240.4 L522.0,234.5 L522.6,235.7 L523.2,246.3 L523.9,243.2 L524.5,240.7 L525.1,241.7 L525.7,240.6 L526.4,247.1 L527.0,245.7 L527.6,251.3 L528.2,260.1 L528.8,257.8 L529.5,259.2 L530.1,249.9 L530.7,261.4 L531.3,266.9 L531.9,272.4 L532.6,276.2 L533.2,278.4 L533.8,284.7 L534.4,289.8 L535.1,285.5 L535.7,298.9 L536.3,307.8 L536.9,317.9 L537.5,330.7 L538.2,340.4 L538.8,345.4 L539.4,349.9 L540.0,352.3 L540.6,353.7 L541.3,355.5 L541.9,357.2 Z" fill="#295be1" stroke="#f0f4ff" stroke-width="0.45" stroke-opacity="0.8"/>
<path d="M518.0,357.2 L518.6,339.2 L519.2,324.4 L519.9,299.4 L520.5,269.6 L521.1,263.4 L521.7,255.4 L522.3,244.7 L523.0,234.1 L523.6,250.6 L524.2,246.8 L524.8,249.4 L525.4,239.9 L526.1,255.2 L526.7,249.2 L527.3,245.0 L527.9,258.5 L528.5,261.7 L529.2,266.8 L529.8,265.8 L530.4,266.4 L531.0,263.7 L531.6,274.3 L532.3,275.5 L532.9,281.8 L533.5,280.5 L534.1,281.4 L534.7,287.9 L535.3,301.2 L536.0,305.3 L536.6,314.5 L537.2,328.3 L537.8,340.5 L538.4,343.7 L539.1,348.9 L539.7,352.3 L540.3,354.0 L540.9,355.6 L541.5,357.2 Z" fill="#295fe1" stroke="#f0f4ff" stroke-width="0.45" stroke-opacity="0.8"/>
<path d="M518.3,357.2 L519.0,340.0 L519.6,321.0 L520.2,298.6 L520.9,261.0 L521.5,263.1 L522.2,255.3 L522.8,244.7 L523.4,246.9 L524.1,256.1 L524.7,250.7 L525.3,253.0 L526.0,258.9 L526.6,254.1 L527.2,262.5 L527.9,256.1 L528.5,263.8 L529.1,263.0 L529.8,262.8 L530.4,270.1 L531.0,271.0 L531.7,280.7 L532.3,272.7 L532.9,281.2 L533.6,280.2 L534.2,294.5 L534.9,294.7 L535.5,302.9 L536.1,315.2 L536.8,327.7 L537.4,338.2 L538.0,344.3 L538.7,348.2 L539.3,352.4 L539.9,353.6 L540.6,355.5 L541.2,357.2 Z" fill="#2a63e2" stroke="#f0f4ff" stroke-width="0.45" stroke-opacity="0.8"/>
<path d="M518.7,357.2 L519.3,340.2 L520.0,323.0 L520.6,298.9 L521.2,266.0 L521.9,259.9 L522.5,258.7 L523.1,248.5 L523.8,258.7 L524.4,256.5 L525.0,252.5 L525.7,250.1 L526.3,259.0 L526.9,252.8 L527.6,252.8 L528.2,264.0 L528.8,269.2 L529.5,266.9 L530.1,262.2 L530.7,277.1 L531.4,282.3 L532.0,280.0 L532.6,281.7 L533.3,284.3 L533.9,292.6 L534.5,290.9 L535.2,306.9 L535.8,311.7 L536.4,326.7 L537.1,337.6 L537.7,344.1 L538.3,349.0 L539.0,352.1 L539.6,353.8 L540.2,355.6 L540.9,357.2 Z" fill="#2b66e3" stroke="#f0f4ff" stroke-width="0.45" stroke-opacity="0.8"/>
<path d="M519.0,357.2 L519.7,339.4 L520.3,324.6 L520.9,302.3 L521.6,275.5 L522.2,260.9 L522.8,252.9 L523.5,261.6 L524.1,267.4 L524.7,259.0 L525.3,263.9 L526.0,251.6 L526.6,260.5 L527.2,260.3 L527.9,267.7 L528.5,264.1 L529.1,270.8 L529.8,273.9 L530.4,268.5 L531.0,282.6 L531.7,278.5 L532.3,290.1 L532.9,287.3 L533.6,293.6 L534.2,292.8 L534.8,308.2 L535.5,312.8 L536.1,324.2 L536.7,333.4 L537.4,342.2 L538.0,348.0 L538.6,352.4 L539.3,354.0 L539.9,355.6 L540.5,357.2 Z" fill="#2c6ae4" stroke="#f0f4ff" stroke-width="0.45" stroke-opacity="0.8"/>
<path d="M519.4,357.2 L520.0,340.9 L520.6,325.7 L521.3,301.5 L521.9,270.5 L522.5,265.3 L523.2,266.1 L523.8,252.7 L524.4,269.5 L525.0,265.3 L525.7,268.2 L526.3,258.3 L526.9,259.5 L527.6,270.8 L528.2,267.0 L528.8,268.9 L529.5,277.4 L530.1,277.9 L530.7,279.5 L531.3,278.4 L532.0,290.6 L532.6,288.5 L533.2,293.2 L533.9,298.3 L534.5,303.8 L535.1,310.4 L535.8,324.4 L536.4,332.5 L537.0,343.3 L537.7,347.6 L538.3,352.0 L538.9,354.1 L539.5,355.5 L540.2,357.2 Z" fill="#2c6ee4" stroke="#f0f4ff" stroke-width="0.45" stroke-opacity="0.8"/>
<path d="M519.7,357.2 L520.3,341.5 L521.0,327.2 L521.6,302.1 L522.2,270.8 L522.9,277.2 L523.5,260.6 L524.1,270.8 L524.7,267.3 L525.4,275.1 L526.0,271.8 L526.6,265.7 L527.3,275.4 L527.9,274.8 L528.5,270.1 L529.1,274.8 L529.8,273.9 L530.4,275.3 L531.0,290.2 L531.7,291.3 L532.3,289.0 L532.9,293.9 L533.5,303.6 L534.2,304.4 L534.8,314.8 L535.4,322.4 L536.1,334.5 L536.7,344.0 L537.3,347.0 L537.9,352.5 L538.6,353.8 L539.2,355.7 L539.8,357.2 Z" fill="#2d71e5" stroke="#f0f4ff" stroke-width="0.45" stroke-opacity="0.8"/>
<path d="M520.1,357.2 L520.7,341.3 L521.3,327.1 L521.9,299.0 L522.6,283.7 L523.2,270.9 L523.8,275.1 L524.4,267.7 L525.1,275.8 L525.7,277.8 L526.3,273.6 L527.0,272.8 L527.6,269.3 L528.2,279.6 L528.8,284.1 L529.5,276.1 L530.1,278.4 L530.7,283.9 L531.3,292.6 L532.0,297.0 L532.6,299.6 L533.2,304.8 L533.8,308.4 L534.5,312.8 L535.1,321.8 L535.7,331.8 L536.4,343.1 L537.0,348.4 L537.6,352.3 L538.2,353.9 L538.9,355.6 L539.5,357.2 Z" fill="#2e75e6" stroke="#f0f4ff" stroke-width="0.45" stroke-opacity="0.8"/>
<path d="M520.4,357.2 L521.0,341.4 L521.6,324.8 L522.3,293.7 L522.9,278.2 L523.5,274.1 L524.1,275.1 L524.8,278.6 L525.4,279.9 L526.0,269.6 L526.6,277.6 L527.3,278.7 L527.9,281.0 L528.5,287.0 L529.1,279.0 L529.8,291.6 L530.4,287.2 L531.0,287.4 L531.6,297.9 L532.3,297.9 L532.9,303.6 L533.5,308.2 L534.1,315.0 L534.8,323.4 L535.4,329.8 L536.0,341.1 L536.6,346.8 L537.3,352.5 L537.9,354.0 L538.5,355.7 L539.1,357.2 Z" fill="#2e78e6" stroke="#f0f4ff" stroke-width="0.45" stroke-opacity="0.8"/>
<path d="M520.7,357.2 L521.4,341.4 L522.0,326.1 L522.6,300.0 L523.2,280.3 L523.9,286.6 L524.5,274.3 L525.1,277.1 L525.7,281.9 L526.3,278.3 L527.0,274.5 L527.6,285.3 L528.2,283.4 L528.8,285.0 L529.5,290.3 L530.1,288.0 L530.7,294.8 L531.3,296.9 L532.0,299.6 L532.6,302.6 L533.2,309.0 L533.8,312.1 L534.4,320.8 L535.1,331.6 L535.7,340.6 L536.3,347.7 L536.9,351.6 L537.6,354.1 L538.2,355.6 L538.8,357.2 Z" fill="#2f7ce7" stroke="#f0f4ff" stroke-width="0.45" stroke-opacity="0.8"/>
<path d="M521.1,357.2 L521.7,342.0 L522.3,327.1 L522.9,301.0 L523.6,292.6 L524.2,279.1 L524.8,281.7 L525.4,286.3 L526.0,284.9 L526.7,280.3 L527.3,288.1 L527.9,290.9 L528.5,286.5 L529.2,292.5 L529.8,291.8 L530.4,292.4 L531.0,295.3 L531.6,299.2 L532.3,309.6 L532.9,310.1 L533.5,310.8 L534.1,319.3 L534.7,331.4 L535.4,340.9 L536.0,347.7 L536.6,352.1 L537.2,354.2 L537.8,355.6 L538.5,357.2 Z" fill="#3080e8" stroke="#f0f4ff" stroke-width="0.45" stroke-opacity="0.8"/>
<path d="M521.4,357.2 L522.0,343.4 L522.7,327.6 L523.3,294.0 L523.9,289.7 L524.5,288.3 L525.1,287.5 L525.8,288.3 L526.4,285.6 L527.0,292.3 L527.6,287.6 L528.2,293.6 L528.8,294.7 L529.5,298.8 L530.1,298.8 L530.7,302.3 L531.3,305.2 L531.9,311.4 L532.6,313.1 L533.2,313.7 L533.8,323.8 L534.4,330.6 L535.0,338.5 L535.6,347.5 L536.3,351.8 L536.9,354.4 L537.5,355.6 L538.1,357.2 Z" fill="#3084e8" stroke="#f0f4ff" stroke-width="0.45" stroke-opacity="0.8"/>
<path d="M521.8,357.2 L522.4,343.7 L523.0,326.2 L523.6,297.3 L524.2,297.8 L524.8,292.1 L525.5,289.4 L526.1,293.5 L526.7,293.2 L527.3,297.6 L527.9,295.2 L528.5,298.4 L529.2,297.4 L529.8,302.3 L530.4,303.6 L531.0,304.8 L531.6,306.9 L532.2,313.6 L532.8,316.5 L533.5,321.0 L534.1,327.1 L534.7,339.4 L535.3,346.4 L535.9,351.3 L536.5,354.4 L537.2,355.7 L537.8,357.2 Z" fill="#3188e8" stroke="#f0f4ff" stroke-width="0.45" stroke-opacity="0.8"/>
<path d="M522.1,357.2 L522.7,343.5 L523.3,328.8 L524.0,301.3 L524.6,299.0 L525.2,294.7 L525.8,297.5 L526.4,294.1 L527.0,293.9 L527.6,302.0 L528.2,298.7 L528.9,302.4 L529.5,303.9 L530.1,302.0 L530.7,308.6 L531.3,311.3 L531.9,311.6 L532.5,317.8 L533.1,321.8 L533.8,329.0 L534.4,336.8 L535.0,346.9 L535.6,351.1 L536.2,354.4 L536.8,355.9 L537.4,357.2 Z" fill="#318ce8" stroke="#f0f4ff" stroke-width="0.45" stroke-opacity="0.8"/>
<path d="M522.5,357.2 L523.1,343.2 L523.7,326.4 L524.3,304.3 L524.9,299.0 L525.5,302.3 L526.1,305.0 L526.7,304.9 L527.3,298.0 L527.9,305.5 L528.6,307.9 L529.2,304.6 L529.8,307.2 L530.4,313.3 L531.0,311.8 L531.6,314.7 L532.2,319.3 L532.8,324.7 L533.4,328.4 L534.0,337.6 L534.6,346.4 L535.3,350.8 L535.9,354.3 L536.5,355.8 L537.1,357.2 Z" fill="#3290e8" stroke="#f0f4ff" stroke-width="0.45" stroke-opacity="0.8"/>
<path d="M522.8,357.2 L523.4,343.8 L524.1,324.4 L524.7,312.7 L525.3,300.5 L526.0,306.4 L526.6,308.3 L527.2,306.2 L527.9,307.7 L528.5,305.1 L529.1,309.9 L529.8,311.2 L530.4,314.3 L531.0,319.7 L531.7,321.1 L532.3,321.0 L532.9,326.3 L533.6,333.7 L534.2,344.7 L534.8,351.0 L535.5,354.6 L536.1,355.8 L536.7,357.2 Z" fill="#3294e8" stroke="#f0f4ff" stroke-width="0.45" stroke-opacity="0.8"/>
<path d="M523.1,357.2 L523.8,344.2 L524.4,324.9 L525.0,312.0 L525.7,307.6 L526.3,310.6 L526.9,307.4 L527.6,311.4 L528.2,307.2 L528.8,312.4 L529.5,317.5 L530.1,317.0 L530.7,318.6 L531.4,322.3 L532.0,324.4 L532.6,329.0 L533.2,335.9 L533.9,342.9 L534.5,350.9 L535.1,354.4 L535.8,355.8 L536.4,357.2 Z" fill="#3398e8" stroke="#f0f4ff" stroke-width="0.45" stroke-opacity="0.8"/>
<path d="M523.5,357.2 L524.1,343.5 L524.7,325.5 L525.4,312.5 L526.0,315.2 L526.6,315.0 L527.3,312.0 L527.9,316.7 L528.5,312.8 L529.1,320.3 L529.8,318.0 L530.4,322.7 L531.0,321.4 L531.7,326.3 L532.3,328.1 L532.9,335.4 L533.5,342.7 L534.2,350.5 L534.8,354.6 L535.4,356.0 L536.1,357.2 Z" fill="#339ce8" stroke="#f0f4ff" stroke-width="0.45" stroke-opacity="0.8"/>
<path d="M523.8,357.2 L524.5,344.4 L525.1,327.6 L525.7,315.7 L526.3,317.7 L527.0,321.3 L527.6,319.6 L528.2,316.2 L528.8,317.4 L529.5,322.2 L530.1,322.1 L530.7,327.0 L531.3,326.6 L532.0,330.5 L532.6,337.0 L533.2,343.8 L533.8,350.5 L534.5,354.6 L535.1,355.9 L535.7,357.2 Z" fill="#34a0e8" stroke="#f0f4ff" stroke-width="0.45" stroke-opacity="0.8"/>
<path d="M524.2,357.2 L524.8,346.0 L525.4,328.1 L526.0,321.4 L526.7,321.9 L527.3,321.9 L527.9,323.4 L528.5,320.4 L529.1,325.7 L529.8,324.1 L530.4,329.5 L531.0,329.2 L531.6,331.2 L532.3,336.8 L532.9,343.7 L533.5,350.6 L534.1,354.2 L534.8,356.1 L535.4,357.2 Z" fill="#34a4e8" stroke="#f0f4ff" stroke-width="0.45" stroke-opacity="0.8"/>
<path d="M524.5,357.2 L525.1,346.3 L525.8,331.1 L526.4,325.7 L527.0,324.6 L527.6,326.0 L528.2,325.0 L528.8,329.3 L529.5,327.5 L530.1,331.8 L530.7,331.0 L531.3,333.3 L531.9,336.1 L532.6,342.9 L533.2,350.2 L533.8,354.3 L534.4,356.1 L535.0,357.2 Z" fill="#35a8e8" stroke="#f0f4ff" stroke-width="0.45" stroke-opacity="0.8"/>
<path d="M555.6,357.2 L556.3,355.2 L556.9,353.2 L557.5,351.3 L558.2,349.3 L558.8,347.2 L559.4,345.3 L560.1,343.4 L560.7,341.7 L561.3,339.8 L562.0,337.9 L562.6,337.1 L563.2,336.7 L563.8,336.5 L564.5,336.6 L565.1,338.0 L565.7,338.8 L566.4,339.7 L567.0,340.9 L567.6,341.6 L568.3,342.7 L568.9,343.8 L569.5,344.7 L570.2,346.1 L570.8,347.6 L571.4,349.0 L572.1,350.6 L572.7,352.0 L573.3,352.9 L574.0,353.8 L574.6,354.7 L575.2,355.2 L575.9,353.4 L576.5,351.1 L577.1,345.3 L577.8,339.5 L578.4,333.9 L579.0,331.8 L579.6,331.3 L580.3,336.7 L580.9,344.6 L581.5,348.0 L582.2,350.0 L582.8,352.0 L583.4,353.9 L584.1,354.8 L584.7,355.2 L585.3,355.6 L586.0,356.0 L586.6,356.4 L587.2,356.8 L587.9,357.2 Z" fill="#1e42e0" stroke="#f0f4ff" stroke-width="0.45" stroke-opacity="0.8"/>
<path d="M556.1,357.2 L556.7,355.4 L557.3,353.7 L558.0,351.9 L558.6,349.8 L559.2,348.4 L559.8,346.5 L560.5,344.7 L561.1,343.4 L561.7,341.3 L562.3,340.1 L563.0,339.4 L563.6,339.0 L564.2,338.8 L564.9,339.7 L565.5,340.4 L566.1,341.5 L566.7,342.4 L567.4,343.2 L568.0,343.5 L568.6,344.7 L569.2,345.3 L569.9,346.9 L570.5,347.7 L571.1,349.3 L571.7,350.5 L572.4,352.0 L573.0,353.0 L573.6,353.9 L574.3,354.6 L574.9,355.4 L575.5,354.5 L576.1,353.0 L576.8,348.5 L577.4,343.1 L578.0,338.1 L578.6,334.3 L579.3,334.7 L579.9,337.3 L580.5,344.6 L581.1,348.6 L581.8,350.4 L582.4,352.2 L583.0,354.2 L583.7,355.1 L584.3,355.4 L584.9,355.7 L585.5,356.1 L586.2,356.5 L586.8,356.8 L587.4,357.2 Z" fill="#244ee0" stroke="#f0f4ff" stroke-width="0.45" stroke-opacity="0.8"/>
<path d="M556.5,357.2 L557.2,355.5 L557.8,353.9 L558.4,352.2 L559.1,350.7 L559.7,348.8 L560.3,347.7 L561.0,345.6 L561.6,344.4 L562.2,342.8 L562.9,342.2 L563.5,341.7 L564.1,340.9 L564.8,341.0 L565.4,342.4 L566.0,343.0 L566.7,344.0 L567.3,344.8 L567.9,345.5 L568.6,346.2 L569.2,346.6 L569.8,347.4 L570.5,348.8 L571.1,350.2 L571.7,351.5 L572.4,352.6 L573.0,353.5 L573.7,354.3 L574.3,355.0 L574.9,355.8 L575.6,354.4 L576.2,352.7 L576.8,347.8 L577.5,343.5 L578.1,338.1 L578.7,337.5 L579.4,337.2 L580.0,342.8 L580.6,349.0 L581.3,350.6 L581.9,352.5 L582.5,353.9 L583.2,355.2 L583.8,355.5 L584.4,355.9 L585.1,356.2 L585.7,356.5 L586.3,356.9 L587.0,357.2 Z" fill="#285ae0" stroke="#f0f4ff" stroke-width="0.45" stroke-opacity="0.8"/>
<path d="M557.0,357.2 L557.6,355.8 L558.2,354.3 L558.9,352.8 L559.5,351.3 L560.1,350.1 L560.7,348.4 L561.4,347.3 L562.0,345.6 L562.6,344.8 L563.3,343.6 L563.9,343.4 L564.5,343.5 L565.1,343.4 L565.8,344.6 L566.4,345.4 L567.0,345.9 L567.7,346.7 L568.3,347.3 L568.9,347.7 L569.5,348.5 L570.2,349.5 L570.8,350.7 L571.4,351.7 L572.1,352.8 L572.7,353.8 L573.3,354.4 L573.9,355.0 L574.6,355.7 L575.2,355.4 L575.8,354.0 L576.5,350.6 L577.1,346.6 L577.7,342.2 L578.3,340.0 L579.0,339.5 L579.6,344.3 L580.2,349.5 L580.9,351.5 L581.5,352.9 L582.1,354.2 L582.7,355.5 L583.4,355.8 L584.0,356.1 L584.6,356.3 L585.3,356.6 L585.9,356.9 L586.5,357.2 Z" fill="#2a62e2" stroke="#f0f4ff" stroke-width="0.45" stroke-opacity="0.8"/>
<path d="M557.4,357.2 L558.0,356.0 L558.7,354.7 L559.3,353.6 L559.9,352.4 L560.5,351.2 L561.2,349.8 L561.8,348.8 L562.4,347.5 L563.0,346.2 L563.7,346.4 L564.3,345.7 L564.9,345.9 L565.5,345.9 L566.1,346.9 L566.8,347.5 L567.4,347.7 L568.0,348.6 L568.6,349.3 L569.3,349.5 L569.9,350.3 L570.5,351.1 L571.1,352.2 L571.7,353.1 L572.4,354.0 L573.0,354.7 L573.6,355.2 L574.2,355.8 L574.9,356.0 L575.5,355.0 L576.1,353.0 L576.7,349.7 L577.4,346.1 L578.0,342.9 L578.6,342.8 L579.2,344.8 L579.8,349.9 L580.5,352.2 L581.1,353.4 L581.7,354.6 L582.3,355.7 L583.0,356.0 L583.6,356.2 L584.2,356.4 L584.8,356.7 L585.4,357.0 L586.1,357.2 Z" fill="#2c6be4" stroke="#f0f4ff" stroke-width="0.45" stroke-opacity="0.8"/>
<path d="M557.9,357.2 L558.5,356.2 L559.1,355.2 L559.8,354.0 L560.4,353.1 L561.0,352.1 L561.7,351.1 L562.3,350.2 L562.9,349.2 L563.5,348.4 L564.2,348.0 L564.8,348.0 L565.4,348.2 L566.1,348.4 L566.7,349.4 L567.3,349.5 L568.0,350.1 L568.6,350.6 L569.2,351.2 L569.9,351.5 L570.5,352.3 L571.1,353.1 L571.7,353.9 L572.4,354.8 L573.0,355.2 L573.6,355.7 L574.3,356.1 L574.9,356.0 L575.5,355.2 L576.2,352.9 L576.8,349.9 L577.4,347.2 L578.1,345.9 L578.7,345.3 L579.3,349.4 L579.9,352.8 L580.6,353.7 L581.2,354.8 L581.8,355.8 L582.5,356.2 L583.1,356.4 L583.7,356.6 L584.4,356.8 L585.0,357.0 L585.6,357.2 Z" fill="#2d73e5" stroke="#f0f4ff" stroke-width="0.45" stroke-opacity="0.8"/>
<path d="M558.3,357.2 L558.9,356.4 L559.6,355.6 L560.2,354.8 L560.8,354.0 L561.4,353.3 L562.1,352.6 L562.7,351.8 L563.3,350.9 L563.9,350.5 L564.6,350.5 L565.2,350.4 L565.8,350.5 L566.4,350.7 L567.1,351.4 L567.7,351.6 L568.3,352.2 L568.9,352.5 L569.6,352.9 L570.2,353.3 L570.8,353.9 L571.4,354.4 L572.1,355.0 L572.7,355.6 L573.3,355.9 L573.9,356.2 L574.6,356.6 L575.2,355.9 L575.8,354.8 L576.4,352.6 L577.1,350.3 L577.7,348.8 L578.3,348.6 L578.9,350.6 L579.6,353.7 L580.2,354.5 L580.8,355.2 L581.4,356.0 L582.1,356.4 L582.7,356.6 L583.3,356.7 L583.9,356.9 L584.6,357.0 L585.2,357.2 Z" fill="#2f7ce7" stroke="#f0f4ff" stroke-width="0.45" stroke-opacity="0.8"/>
<path d="M558.8,357.2 L559.4,356.6 L560.0,356.1 L560.7,355.5 L561.3,355.0 L561.9,354.4 L562.6,354.0 L563.2,353.5 L563.8,352.8 L564.5,352.7 L565.1,352.7 L565.7,352.6 L566.4,352.9 L567.0,353.1 L567.6,353.5 L568.3,353.6 L568.9,354.0 L569.5,354.3 L570.2,354.4 L570.8,355.0 L571.4,355.4 L572.1,355.8 L572.7,356.1 L573.3,356.3 L574.0,356.6 L574.6,356.7 L575.2,356.2 L575.9,355.2 L576.5,353.5 L577.1,351.8 L577.8,351.3 L578.4,351.8 L579.0,354.0 L579.7,355.1 L580.3,355.7 L580.9,356.3 L581.6,356.6 L582.2,356.8 L582.8,356.9 L583.5,357.0 L584.1,357.1 L584.7,357.2 Z" fill="#3184e8" stroke="#f0f4ff" stroke-width="0.45" stroke-opacity="0.8"/>
<path d="M559.2,357.2 L559.8,356.9 L560.5,356.6 L561.1,356.4 L561.7,356.1 L562.3,355.8 L563.0,355.5 L563.6,355.3 L564.2,355.0 L564.9,355.0 L565.5,354.9 L566.1,354.9 L566.7,355.0 L567.4,355.2 L568.0,355.4 L568.6,355.5 L569.2,355.6 L569.9,355.8 L570.5,355.9 L571.1,356.1 L571.7,356.4 L572.4,356.6 L573.0,356.7 L573.6,356.8 L574.3,357.0 L574.9,356.8 L575.5,356.4 L576.1,355.6 L576.8,354.7 L577.4,354.4 L578.0,354.2 L578.6,355.4 L579.3,356.1 L579.9,356.4 L580.5,356.7 L581.1,356.9 L581.8,357.0 L582.4,357.0 L583.0,357.1 L583.7,357.1 L584.3,357.2 Z" fill="#328ee8" stroke="#f0f4ff" stroke-width="0.45" stroke-opacity="0.8"/>
<path d="M559.7,357.2 L560.3,357.2 L560.9,357.2 L561.6,357.2 L562.2,357.2 L562.8,357.2 L563.5,357.2 L564.1,357.2 L564.8,357.2 L565.4,357.2 L566.0,357.2 L566.7,357.2 L567.3,357.2 L567.9,357.2 L568.6,357.2 L569.2,357.2 L569.8,357.2 L570.5,357.2 L571.1,357.2 L571.7,357.2 L572.4,357.2 L573.0,357.2 L573.7,357.2 L574.3,357.2 L574.9,357.2 L575.6,357.2 L576.2,357.2 L576.8,357.2 L577.5,357.2 L578.1,357.2 L578.7,357.2 L579.4,357.2 L580.0,357.2 L580.7,357.2 L581.3,357.2 L581.9,357.2 L582.6,357.2 L583.2,357.2 L583.8,357.2 Z" fill="#3397e8" stroke="#f0f4ff" stroke-width="0.45" stroke-opacity="0.8"/>
<path d="M591.3,357.2 L591.9,354.6 L592.5,351.9 L593.2,349.3 L593.8,346.6 L594.4,343.8 L595.0,341.2 L595.7,338.7 L596.3,335.9 L596.9,335.5 L597.6,334.5 L598.2,334.1 L598.8,334.7 L599.5,335.6 L600.1,336.9 L600.7,337.8 L601.4,338.1 L602.0,338.2 L602.6,338.4 L603.3,338.5 L603.9,339.0 L604.5,339.0 L605.2,339.5 L605.8,340.2 L606.4,340.8 L607.1,341.7 L607.7,342.4 L608.3,343.1 L609.0,343.9 L609.6,344.4 L610.2,345.2 L610.9,345.7 L611.5,346.4 L612.1,347.1 L612.8,348.0 L613.4,348.6 L614.0,349.4 L614.7,350.1 L615.3,350.9 L615.9,351.4 L616.6,351.7 L617.2,352.1 L617.8,352.5 L618.5,352.9 L619.1,353.3 L619.7,353.7 L620.4,354.2 L621.0,354.5 L621.6,354.9 L622.3,355.1 L622.9,355.2 L623.5,355.4 L624.2,355.5 L624.8,355.6 L625.4,355.7 L626.1,355.8 L626.7,356.0 L627.3,356.1 L628.0,356.2 L628.6,356.3 L629.2,356.4 L629.9,356.5 L630.5,356.6 L631.1,356.7 L631.8,356.9 L632.4,357.0 L633.0,357.1 L633.7,357.2 Z" fill="#1e42e0" stroke="#f0f4ff" stroke-width="0.45" stroke-opacity="0.8"/>
<path d="M591.8,357.2 L592.5,354.8 L593.1,352.4 L593.7,349.8 L594.4,347.7 L595.0,345.2 L595.6,342.6 L596.3,340.0 L596.9,337.6 L597.5,337.3 L598.2,336.4 L598.8,335.9 L599.5,337.1 L600.1,338.2 L600.7,340.0 L601.4,340.3 L602.0,340.7 L602.6,340.0 L603.3,340.4 L603.9,340.7 L604.5,341.3 L605.2,341.4 L605.8,342.1 L606.4,342.4 L607.1,342.8 L607.7,344.0 L608.3,344.9 L609.0,345.4 L609.6,345.9 L610.2,346.1 L610.9,346.8 L611.5,347.6 L612.1,348.5 L612.8,349.1 L613.4,349.8 L614.0,350.2 L614.7,351.0 L615.3,351.5 L615.9,351.9 L616.6,352.3 L617.2,352.8 L617.8,353.1 L618.5,353.6 L619.1,354.0 L619.7,354.3 L620.4,354.6 L621.0,355.0 L621.6,355.4 L622.3,355.5 L622.9,355.5 L623.6,355.6 L624.2,355.7 L624.8,355.8 L625.5,356.0 L626.1,356.0 L626.7,356.2 L627.4,356.2 L628.0,356.3 L628.6,356.5 L629.3,356.6 L629.9,356.7 L630.5,356.8 L631.2,356.9 L631.8,357.0 L632.4,357.1 L633.1,357.2 Z" fill="#244ee0" stroke="#f0f4ff" stroke-width="0.45" stroke-opacity="0.8"/>
<path d="M592.4,357.2 L593.1,355.0 L593.7,352.8 L594.3,350.8 L595.0,348.2 L595.6,346.2 L596.2,344.4 L596.9,342.0 L597.5,340.3 L598.2,339.5 L598.8,339.3 L599.4,339.1 L600.1,340.5 L600.7,341.4 L601.3,341.7 L602.0,342.3 L602.6,342.7 L603.2,342.5 L603.9,343.1 L604.5,343.2 L605.1,343.2 L605.8,343.4 L606.4,344.0 L607.0,344.6 L607.7,345.4 L608.3,346.3 L609.0,346.4 L609.6,347.4 L610.2,347.7 L610.9,348.3 L611.5,348.7 L612.1,349.3 L612.8,350.1 L613.4,350.5 L614.0,351.1 L614.7,351.8 L615.3,352.5 L615.9,352.6 L616.6,353.0 L617.2,353.5 L617.9,353.8 L618.5,354.0 L619.1,354.5 L619.8,354.8 L620.4,355.0 L621.0,355.4 L621.7,355.6 L622.3,355.7 L622.9,355.8 L623.6,355.9 L624.2,355.9 L624.8,356.1 L625.5,356.2 L626.1,356.3 L626.8,356.4 L627.4,356.4 L628.0,356.6 L628.7,356.6 L629.3,356.7 L629.9,356.8 L630.6,356.9 L631.2,357.0 L631.8,357.1 L632.5,357.2 Z" fill="#285ae0" stroke="#f0f4ff" stroke-width="0.45" stroke-opacity="0.8"/>
<path d="M593.0,357.2 L593.6,355.3 L594.3,353.3 L594.9,351.6 L595.5,349.3 L596.2,347.5 L596.8,346.0 L597.4,343.6 L598.0,343.0 L598.7,342.3 L599.3,342.2 L599.9,341.7 L600.5,342.5 L601.2,343.3 L601.8,344.6 L602.4,344.1 L603.0,344.5 L603.7,344.5 L604.3,344.9 L604.9,345.0 L605.6,345.2 L606.2,345.4 L606.8,346.5 L607.4,347.0 L608.1,347.3 L608.7,347.9 L609.3,348.4 L609.9,349.0 L610.6,349.1 L611.2,349.9 L611.8,350.1 L612.5,350.6 L613.1,351.3 L613.7,351.9 L614.3,352.3 L615.0,352.9 L615.6,353.3 L616.2,353.6 L616.8,353.7 L617.5,354.1 L618.1,354.4 L618.7,354.8 L619.3,355.0 L620.0,355.3 L620.6,355.6 L621.2,355.8 L621.9,355.9 L622.5,356.0 L623.1,356.0 L623.7,356.2 L624.4,356.2 L625.0,356.3 L625.6,356.4 L626.2,356.5 L626.9,356.6 L627.5,356.6 L628.1,356.7 L628.8,356.8 L629.4,356.9 L630.0,357.0 L630.6,357.0 L631.3,357.1 L631.9,357.2 Z" fill="#2a62e2" stroke="#f0f4ff" stroke-width="0.45" stroke-opacity="0.8"/>
<path d="M593.6,357.2 L594.2,355.5 L594.9,353.8 L595.5,352.2 L596.1,350.5 L596.7,348.8 L597.4,347.1 L598.0,345.5 L598.6,345.4 L599.3,344.5 L599.9,344.0 L600.5,344.8 L601.1,345.2 L601.8,346.4 L602.4,346.2 L603.0,346.6 L603.7,346.6 L604.3,347.0 L604.9,347.2 L605.5,347.3 L606.2,347.5 L606.8,348.1 L607.4,348.4 L608.1,348.6 L608.7,349.2 L609.3,349.5 L609.9,350.0 L610.6,350.4 L611.2,350.8 L611.8,351.3 L612.5,351.9 L613.1,352.4 L613.7,352.8 L614.3,353.3 L615.0,353.7 L615.6,353.9 L616.2,354.1 L616.8,354.5 L617.5,354.7 L618.1,354.9 L618.7,355.2 L619.4,355.4 L620.0,355.7 L620.6,356.0 L621.2,356.0 L621.9,356.2 L622.5,356.2 L623.1,356.3 L623.8,356.4 L624.4,356.4 L625.0,356.5 L625.6,356.6 L626.3,356.6 L626.9,356.7 L627.5,356.8 L628.2,356.8 L628.8,356.9 L629.4,357.0 L630.0,357.1 L630.7,357.1 L631.3,357.2 Z" fill="#2c6be4" stroke="#f0f4ff" stroke-width="0.45" stroke-opacity="0.8"/>
<path d="M594.2,357.2 L594.8,355.9 L595.5,354.5 L596.1,353.0 L596.7,351.9 L597.3,350.5 L598.0,348.9 L598.6,347.4 L599.2,347.6 L599.9,347.1 L600.5,346.7 L601.1,347.3 L601.8,347.9 L602.4,348.4 L603.0,348.8 L603.6,348.9 L604.3,349.1 L604.9,348.9 L605.5,349.3 L606.2,349.4 L606.8,349.4 L607.4,350.0 L608.0,350.4 L608.7,350.7 L609.3,351.1 L609.9,351.4 L610.6,351.9 L611.2,352.3 L611.8,352.6 L612.5,353.0 L613.1,353.3 L613.7,353.7 L614.3,354.1 L615.0,354.4 L615.6,354.6 L616.2,354.8 L616.9,355.1 L617.5,355.2 L618.1,355.5 L618.7,355.7 L619.4,355.9 L620.0,356.1 L620.6,356.3 L621.3,356.3 L621.9,356.4 L622.5,356.5 L623.2,356.5 L623.8,356.6 L624.4,356.6 L625.0,356.7 L625.7,356.7 L626.3,356.8 L626.9,356.8 L627.6,356.9 L628.2,357.0 L628.8,357.0 L629.4,357.1 L630.1,357.1 L630.7,357.2 Z" fill="#2d73e5" stroke="#f0f4ff" stroke-width="0.45" stroke-opacity="0.8"/>
<path d="M594.8,357.2 L595.4,356.1 L596.0,355.1 L596.7,354.0 L597.3,352.9 L597.9,351.9 L598.6,351.0 L599.2,350.2 L599.8,349.9 L600.5,349.3 L601.1,349.7 L601.7,350.0 L602.4,350.5 L603.0,350.9 L603.6,351.0 L604.2,351.1 L604.9,350.9 L605.5,351.3 L606.1,351.1 L606.8,351.5 L607.4,351.7 L608.0,352.2 L608.7,352.3 L609.3,352.7 L609.9,352.9 L610.6,353.1 L611.2,353.5 L611.8,353.7 L612.5,353.9 L613.1,354.3 L613.7,354.6 L614.3,354.8 L615.0,355.2 L615.6,355.3 L616.2,355.5 L616.9,355.6 L617.5,355.8 L618.1,355.9 L618.8,356.1 L619.4,356.3 L620.0,356.5 L620.7,356.5 L621.3,356.6 L621.9,356.6 L622.5,356.7 L623.2,356.7 L623.8,356.8 L624.4,356.8 L625.1,356.8 L625.7,356.9 L626.3,356.9 L627.0,357.0 L627.6,357.0 L628.2,357.1 L628.9,357.1 L629.5,357.2 L630.1,357.2 Z" fill="#2f7ce7" stroke="#f0f4ff" stroke-width="0.45" stroke-opacity="0.8"/>
<path d="M595.4,357.2 L596.0,356.5 L596.6,355.7 L597.3,355.0 L597.9,354.2 L598.5,353.5 L599.2,352.9 L599.8,352.5 L600.4,352.1 L601.1,352.0 L601.7,352.1 L602.3,352.4 L603.0,352.8 L603.6,353.0 L604.2,352.9 L604.9,353.0 L605.5,353.2 L606.1,353.3 L606.8,353.2 L607.4,353.6 L608.0,353.8 L608.7,354.0 L609.3,354.0 L609.9,354.3 L610.6,354.4 L611.2,354.7 L611.8,354.9 L612.5,355.1 L613.1,355.3 L613.7,355.4 L614.3,355.7 L615.0,355.9 L615.6,355.9 L616.2,356.1 L616.9,356.2 L617.5,356.3 L618.1,356.4 L618.8,356.5 L619.4,356.6 L620.0,356.7 L620.7,356.8 L621.3,356.8 L621.9,356.8 L622.6,356.9 L623.2,356.9 L623.8,356.9 L624.5,357.0 L625.1,357.0 L625.7,357.0 L626.4,357.0 L627.0,357.1 L627.6,357.1 L628.3,357.1 L628.9,357.2 L629.5,357.2 Z" fill="#3184e8" stroke="#f0f4ff" stroke-width="0.45" stroke-opacity="0.8"/>
<path d="M596.0,357.2 L596.6,356.8 L597.2,356.4 L597.9,356.0 L598.5,355.7 L599.1,355.3 L599.8,355.0 L600.4,354.8 L601.0,354.7 L601.7,354.7 L602.3,354.8 L602.9,354.9 L603.6,355.0 L604.2,355.1 L604.8,355.1 L605.5,355.2 L606.1,355.1 L606.7,355.3 L607.4,355.3 L608.0,355.4 L608.6,355.5 L609.3,355.6 L609.9,355.7 L610.5,355.8 L611.2,355.9 L611.8,356.0 L612.5,356.1 L613.1,356.2 L613.7,356.3 L614.4,356.5 L615.0,356.5 L615.6,356.6 L616.3,356.6 L616.9,356.7 L617.5,356.8 L618.2,356.8 L618.8,356.9 L619.4,356.9 L620.1,357.0 L620.7,357.0 L621.3,357.0 L622.0,357.0 L622.6,357.0 L623.2,357.1 L623.9,357.1 L624.5,357.1 L625.1,357.1 L625.8,357.1 L626.4,357.1 L627.0,357.2 L627.7,357.2 L628.3,357.2 L628.9,357.2 Z" fill="#328ee8" stroke="#f0f4ff" stroke-width="0.45" stroke-opacity="0.8"/>
<path d="M596.6,357.2 L597.2,357.2 L597.8,357.2 L598.4,357.2 L599.0,357.2 L599.7,357.2 L600.3,357.2 L600.9,357.2 L601.5,357.2 L602.2,357.2 L602.8,357.2 L603.4,357.2 L604.0,357.2 L604.7,357.2 L605.3,357.2 L605.9,357.2 L606.5,357.2 L607.2,357.2 L607.8,357.2 L608.4,357.2 L609.0,357.2 L609.6,357.2 L610.3,357.2 L610.9,357.2 L611.5,357.2 L612.1,357.2 L612.8,357.2 L613.4,357.2 L614.0,357.2 L614.6,357.2 L615.3,357.2 L615.9,357.2 L616.5,357.2 L617.1,357.2 L617.8,357.2 L618.4,357.2 L619.0,357.2 L619.6,357.2 L620.2,357.2 L620.9,357.2 L621.5,357.2 L622.1,357.2 L622.7,357.2 L623.4,357.2 L624.0,357.2 L624.6,357.2 L625.2,357.2 L625.9,357.2 L626.5,357.2 L627.1,357.2 L627.7,357.2 L628.4,357.2 Z" fill="#3397e8" stroke="#f0f4ff" stroke-width="0.45" stroke-opacity="0.8"/>
<path d="M426.7,357.2 L427.4,353.9 L428.0,350.7 L428.6,347.4 L429.2,344.1 L429.9,340.9 L430.5,337.2 L431.1,333.3 L431.7,329.4 L432.4,325.5 L433.0,322.9 L433.6,321.9 L434.2,320.8 L434.8,320.1 L435.5,322.7 L436.1,325.3 L436.7,327.3 L437.3,328.1 L438.0,328.8 L438.6,329.6 L439.2,331.4 L439.8,333.2 L440.5,335.1 L441.1,336.9 L441.7,338.8 L442.3,340.7 L443.0,342.5 L443.6,344.4 L444.2,346.5 L444.8,348.7 L445.4,350.9 L446.1,353.0 L446.7,354.6 L447.3,355.9 L447.9,357.2" fill="none" stroke="#1428e0" stroke-width="0.9"/>
<path d="M454.7,357.2 L455.3,348.6 L456.0,340.0 L456.6,331.4 L457.2,322.7 L457.8,311.7 L458.4,300.3 L459.0,289.0 L459.7,280.6 L460.3,276.1 L460.9,271.5 L461.5,273.2 L462.1,277.8 L462.7,282.3 L463.4,286.2 L464.0,290.1 L464.6,293.6 L465.2,295.5 L465.8,297.5 L466.4,299.7 L467.1,302.3 L467.7,304.9 L468.3,308.8 L468.9,313.3 L469.5,317.8 L470.1,323.0 L470.8,328.1 L471.4,333.3 L472.0,338.5 L472.6,343.6 L473.2,348.8 L473.8,352.0 L474.5,354.6 L475.1,357.2" fill="none" stroke="#1428e0" stroke-width="0.9"/>
<path d="M555.6,357.2 L556.3,355.2 L556.9,353.2 L557.5,351.2 L558.2,349.3 L558.8,347.3 L559.4,345.3 L560.1,343.5 L560.7,341.6 L561.3,339.7 L562.0,337.8 L562.6,337.3 L563.2,336.8 L563.8,336.4 L564.5,336.8 L565.1,337.8 L565.7,338.8 L566.4,339.9 L567.0,340.8 L567.6,341.8 L568.3,342.7 L568.9,343.7 L569.5,344.6 L570.2,346.1 L570.8,347.6 L571.4,349.1 L572.1,350.6 L572.7,352.0 L573.3,352.9 L574.0,353.8 L574.6,354.7 L575.2,355.2 L575.9,353.4 L576.5,351.2 L577.1,345.4 L577.8,339.5 L578.4,333.7 L579.0,331.8 L579.6,331.1 L580.3,336.7 L580.9,344.5 L581.5,348.0 L582.2,350.0 L582.8,352.0 L583.4,354.0 L584.1,354.8 L584.7,355.2 L585.3,355.6 L586.0,356.0 L586.6,356.4 L587.2,356.8 L587.9,357.2" fill="none" stroke="#1428e0" stroke-width="0.9"/>
<path d="M591.3,357.2 L591.9,354.5 L592.5,351.9 L593.2,349.2 L593.8,346.6 L594.4,343.9 L595.0,341.3 L595.7,338.6 L596.3,336.0 L596.9,335.3 L597.6,334.6 L598.2,334.0 L598.8,334.5 L599.5,335.6 L600.1,336.8 L600.7,337.7 L601.4,337.9 L602.0,338.2 L602.6,338.4 L603.3,338.6 L603.9,338.9 L604.5,339.1 L605.2,339.4 L605.8,340.1 L606.4,340.9 L607.1,341.6 L607.7,342.4 L608.3,343.1 L609.0,343.8 L609.6,344.4 L610.2,345.1 L610.9,345.8 L611.5,346.4 L612.1,347.2 L612.8,347.9 L613.4,348.6 L614.0,349.4 L614.7,350.1 L615.3,350.8 L615.9,351.3 L616.6,351.7 L617.2,352.1 L617.8,352.5 L618.5,352.9 L619.1,353.3 L619.7,353.7 L620.4,354.2 L621.0,354.6 L621.6,355.0 L622.3,355.2 L622.9,355.3 L623.5,355.4 L624.2,355.5 L624.8,355.6 L625.4,355.7 L626.1,355.8 L626.7,355.9 L627.3,356.1 L628.0,356.2 L628.6,356.3 L629.2,356.4 L629.9,356.5 L630.5,356.6 L631.1,356.7 L631.8,356.9 L632.4,357.0 L633.0,357.1 L633.7,357.2" fill="none" stroke="#1428e0" stroke-width="0.9"/>
<path d="M515.8,357.2 L516.6,349.5 L517.4,341.8 L518.3,296.1 L519.1,251.4 L519.9,231.7 L520.7,224.2 L521.6,220.8 L522.4,221.9 L523.2,226.3 L524.1,231.5 L524.9,235.9 L525.7,240.1 L526.5,243.7 L527.4,245.1 L528.2,246.5 L529.0,248.5 L529.8,250.8 L530.7,253.1 L531.5,256.7 L532.3,261.3 L533.2,265.9 L534.0,271.1 L534.8,276.9 L535.6,282.7 L536.5,291.3 L537.3,304.3 L538.1,317.3 L538.9,330.3 L539.8,340.5 L540.6,343.9 L541.4,347.4 L542.3,350.3 L543.1,351.4 L543.9,352.4 L544.7,353.4 L545.6,354.5 L546.4,355.5 L547.2,355.9 L548.0,356.3 L548.9,356.8 L549.7,357.2" fill="none" stroke="#f0e818" stroke-width="1.5"/>
<path d="M515.8,357.2 L516.6,349.3 L517.4,341.3 L518.3,294.3 L519.1,248.2 L519.9,227.9 L520.7,220.2 L521.6,216.7 L522.4,217.9 L523.2,222.4 L524.1,227.7 L524.9,232.3 L525.7,236.6 L526.5,240.3 L527.4,241.8 L528.2,243.2 L529.0,245.2 L529.8,247.6 L530.7,250.0 L531.5,253.7 L532.3,258.4 L533.2,263.2 L534.0,268.5 L534.8,274.5 L535.6,280.4 L536.5,289.3 L537.3,302.7 L538.1,316.1 L538.9,329.5 L539.8,340.0 L540.6,343.5 L541.4,347.1 L542.3,350.1 L543.1,351.2 L543.9,352.3 L544.7,353.3 L545.6,354.4 L546.4,355.4 L547.2,355.9 L548.0,356.3 L548.9,356.8 L549.7,357.2" fill="none" stroke="#f0a818" stroke-width="0.8" opacity="0.8"/>
</g>
<path d="M417.3,179.3 V357.3 H634" fill="none" stroke="#444" stroke-width="0.9"/>
<text x="409.5" y="360.9" font-size="10.4" fill="#231f20" stroke="#231f20" stroke-width="0.18" text-anchor="end" font-weight="normal" >0</text>
<text x="409.5" y="325.35999999999996" font-size="10.4" fill="#231f20" stroke="#231f20" stroke-width="0.18" text-anchor="end" font-weight="normal" >0.2</text>
<text x="409.5" y="289.82" font-size="10.4" fill="#231f20" stroke="#231f20" stroke-width="0.18" text-anchor="end" font-weight="normal" >0.4</text>
<text x="409.5" y="254.27999999999997" font-size="10.4" fill="#231f20" stroke="#231f20" stroke-width="0.18" text-anchor="end" font-weight="normal" >0.6</text>
<text x="409.5" y="218.73999999999998" font-size="10.4" fill="#231f20" stroke="#231f20" stroke-width="0.18" text-anchor="end" font-weight="normal" >0.8</text>
<text x="409.5" y="183.2" font-size="10.4" fill="#231f20" stroke="#231f20" stroke-width="0.18" text-anchor="end" font-weight="normal" >1</text>
<text x="443.7" y="376" font-size="10.4" fill="#231f20" stroke="#231f20" stroke-width="0.18" text-anchor="middle" font-weight="normal" >0.8</text>
<text x="486.1" y="376" font-size="10.4" fill="#231f20" stroke="#231f20" stroke-width="0.18" text-anchor="middle" font-weight="normal" >0.9</text>
<text x="528.5" y="376" font-size="10.4" fill="#231f20" stroke="#231f20" stroke-width="0.18" text-anchor="middle" font-weight="normal" >1</text>
<text x="570.9" y="376" font-size="10.4" fill="#231f20" stroke="#231f20" stroke-width="0.18" text-anchor="middle" font-weight="normal" >1.1</text>
<text x="613.3" y="376" font-size="10.4" fill="#231f20" stroke="#231f20" stroke-width="0.18" text-anchor="middle" font-weight="normal" >1.2</text>
<path d="M417.3,357.20 H419.5 M417.3,321.66 H419.5 M417.3,286.12 H419.5 M417.3,250.58 H419.5 M417.3,215.04 H419.5 M417.3,179.50 H419.5 M443.70,357.3 V355 M486.10,357.3 V355 M528.50,357.3 V355 M570.90,357.3 V355 M613.30,357.3 V355 " stroke="#444" stroke-width="0.8"/>
<text x="524.4" y="391" font-size="10.4" fill="#231f20" stroke="#231f20" stroke-width="0.18" text-anchor="middle" font-weight="normal" textLength="33.8" lengthAdjust="spacingAndGlyphs">q (1/Å)</text>
<text x="0" y="0" font-size="10.4" fill="#231f20" stroke="#231f20" stroke-width="0.18" text-anchor="middle" font-weight="normal" transform="translate(382,270.9) rotate(-90)" textLength="120.6" lengthAdjust="spacingAndGlyphs">Normalized Intensity (a.u.)</text>
<path d="M453.3,271 V298" stroke="#333" stroke-width="0.7"/><polygon points="453.3,300.5 451.6,296 455,296" fill="#333"/>
<path d="M492.3,356 V333" stroke="#333" stroke-width="0.7"/><polygon points="492.3,330.5 490.6,335 494,335" fill="#333"/>
<path d="M511.5,300.6 V274" stroke="#333" stroke-width="0.7"/><polygon points="511.5,271.3 509.8,276 513.2,276" fill="#333"/>
</svg></body></html>
